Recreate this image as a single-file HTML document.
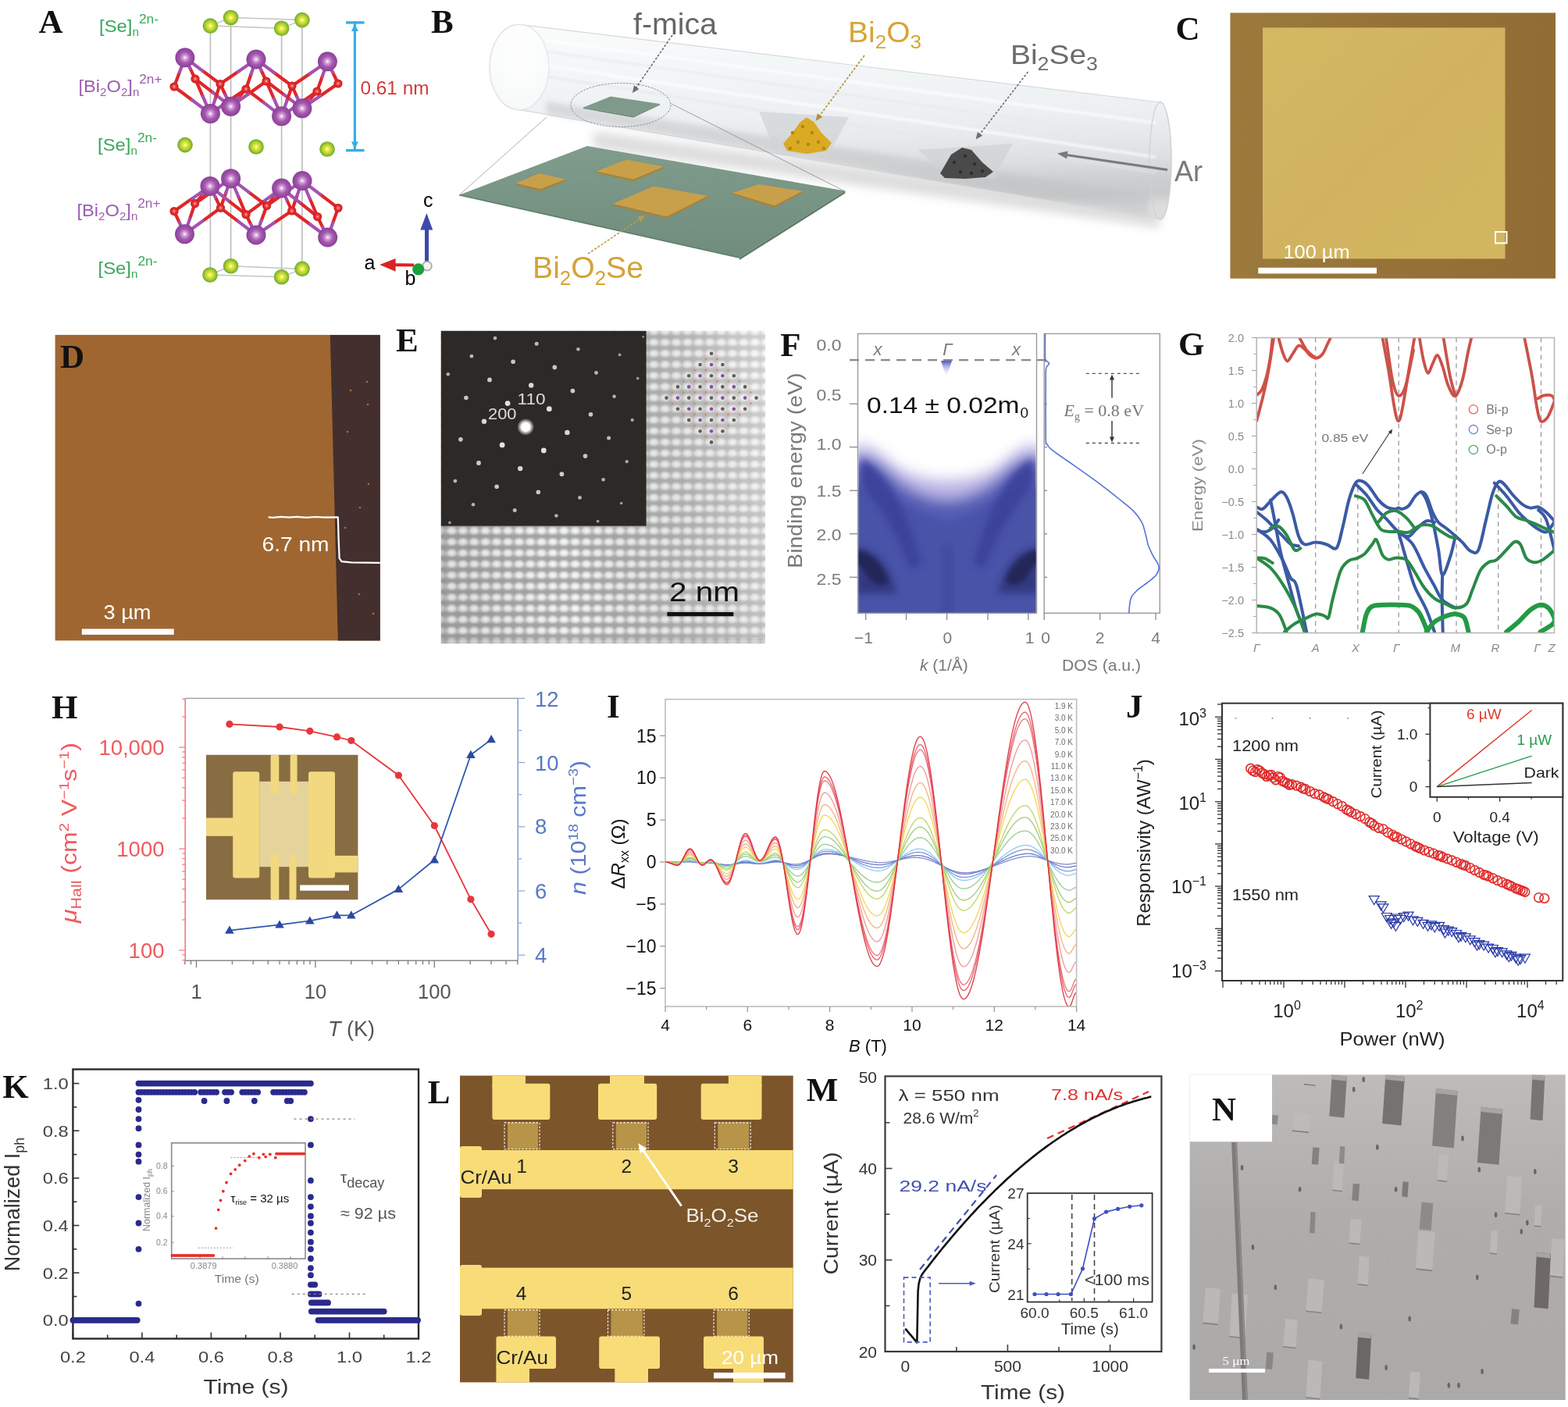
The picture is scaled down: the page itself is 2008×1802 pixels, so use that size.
<!DOCTYPE html>
<html><head><meta charset="utf-8"><title>Bi2O2Se figure</title>
<style>html,body{margin:0;padding:0;background:#fff;}svg{display:block;}
</style></head>
<body>
<svg font-family="'Liberation Sans', Arial, sans-serif" width="2008" height="1802" viewBox="0 0 2008 1802">
<defs>
<radialGradient id="gSe" cx="0.5" cy="0.5" r="0.5" fx="0.5" fy="0.5">
 <stop offset="0" stop-color="#ffffff"/><stop offset="0.18" stop-color="#f4f04a"/>
 <stop offset="0.6" stop-color="#b2d235"/><stop offset="1" stop-color="#6da72a"/></radialGradient>
<radialGradient id="gBi" cx="0.5" cy="0.5" r="0.5" fx="0.5" fy="0.5">
 <stop offset="0" stop-color="#ffffff"/><stop offset="0.2" stop-color="#d9a5dd"/>
 <stop offset="0.55" stop-color="#a45aae"/><stop offset="1" stop-color="#8a3f98"/></radialGradient>
<radialGradient id="gO" cx="0.5" cy="0.5" r="0.5" fx="0.5" fy="0.5">
 <stop offset="0" stop-color="#ffffff"/><stop offset="0.2" stop-color="#f06060"/>
 <stop offset="0.6" stop-color="#e02a2a"/><stop offset="1" stop-color="#c81e1e"/></radialGradient>

<linearGradient id="tubeG" x1="0" y1="0" x2="0.08" y2="1">
 <stop offset="0" stop-color="#fbfcfc"/><stop offset="0.3" stop-color="#f1f5f6"/>
 <stop offset="0.5" stop-color="#edf0f2"/><stop offset="0.64" stop-color="#e6e9ea"/>
 <stop offset="0.76" stop-color="#dcdedf"/><stop offset="0.86" stop-color="#cdcecf"/>
 <stop offset="0.94" stop-color="#c9cacb"/><stop offset="1" stop-color="#dcdcdc"/></linearGradient>
<radialGradient id="tubeEnd" cx="0.5" cy="0.5" r="0.5">
 <stop offset="0" stop-color="#ffffff" stop-opacity="0.9"/><stop offset="1" stop-color="#ffffff" stop-opacity="0.5"/></radialGradient>
<linearGradient id="micaG" x1="0" y1="0" x2="0" y2="1">
 <stop offset="0" stop-color="#7f9c8c"/><stop offset="1" stop-color="#6f8c7c"/></linearGradient>
<filter id="blur3" x="-20%" y="-50%" width="140%" height="200%"><feGaussianBlur stdDeviation="3"/></filter>
<filter id="blur6" x="-20%" y="-50%" width="140%" height="200%"><feGaussianBlur stdDeviation="6"/></filter>
<filter id="blur1" x="-20%" y="-20%" width="140%" height="140%"><feGaussianBlur stdDeviation="1"/></filter>

<radialGradient id="latSpot" cx="0.5" cy="0.45" r="0.5">
 <stop offset="0" stop-color="#fcfdfd"/><stop offset="0.55" stop-color="#e8eaea"/>
 <stop offset="1" stop-color="#b4b4b4" stop-opacity="0"/></radialGradient>
<pattern id="latPat" patternUnits="userSpaceOnUse" x="556.9" y="417.2" width="14.38" height="14.2">
 <rect width="14.38" height="14.2" fill="#a4a4a4"/>
 <rect y="6" width="14.38" height="5" fill="#b8b8b8"/>
 <ellipse cx="7.19" cy="7.6" rx="8.6" ry="6.4" fill="url(#latSpot)"/>
</pattern>
<linearGradient id="cOuter" x1="0" y1="0" x2="1" y2="0">
 <stop offset="0" stop-color="#9c7a3c"/><stop offset="0.5" stop-color="#967238"/><stop offset="1" stop-color="#916d36"/></linearGradient>
<linearGradient id="cInner" x1="0" y1="0" x2="1" y2="1">
 <stop offset="0" stop-color="#d4b862"/><stop offset="0.5" stop-color="#d1b35f"/><stop offset="1" stop-color="#d3b660"/></linearGradient>
<clipPath id="clipE"><rect x="564.8" y="423.8" width="415.1" height="400.4"/></clipPath>
<linearGradient id="latShade" x1="0" y1="0.15" x2="1" y2="0">
 <stop offset="0" stop-color="#000" stop-opacity="0.07"/><stop offset="0.3" stop-color="#808080" stop-opacity="0"/>
 <stop offset="1" stop-color="#fff" stop-opacity="0.5"/></linearGradient>
<radialGradient id="spotG" cx="0.5" cy="0.5" r="0.5">
 <stop offset="0" stop-color="#ffffff"/><stop offset="0.5" stop-color="#f4f4f4"/><stop offset="1" stop-color="#ffffff" stop-opacity="0"/></radialGradient>

<clipPath id="clipF"><rect x="1099.5" y="428.4" width="227" height="356.4"/></clipPath>
<clipPath id="clipG"><rect x="1609.2" y="432.5" width="381.3" height="378.1"/></clipPath>
<filter id="blurF1" x="-30%" y="-30%" width="160%" height="160%"><feGaussianBlur stdDeviation="9"/></filter>
<filter id="blurF2" x="-30%" y="-30%" width="160%" height="160%"><feGaussianBlur stdDeviation="4"/></filter>
<filter id="blurF3" x="-30%" y="-30%" width="160%" height="160%"><feGaussianBlur stdDeviation="2.5"/></filter>
<linearGradient id="vG" x1="0" y1="0" x2="0" y2="1">
 <stop offset="0" stop-color="#4a52c8"/><stop offset="1" stop-color="#ffffff" stop-opacity="0"/></linearGradient>

<clipPath id="clipI"><rect x="852" y="895.6" width="526.6" height="393.5"/></clipPath>

<linearGradient id="nBg" x1="0" y1="0" x2="0" y2="1">
 <stop offset="0" stop-color="#bebcbb"/><stop offset="0.45" stop-color="#afadac"/><stop offset="1" stop-color="#acaaa9"/></linearGradient>
<clipPath id="clipN"><rect x="1523.6" y="1376.4" width="481.1" height="416.6"/></clipPath>
</defs>
<rect width="2008" height="1802" fill="#ffffff"/>
<text x="49.4" y="42" font-size="43" fill="#111" font-family="'Liberation Serif', 'Times New Roman', serif" font-weight="bold">A</text>
<line x1="269.4" y1="30" x2="269.4" y2="350" stroke="#bcbcbc" stroke-width="1.6" />
<line x1="295.6" y1="30" x2="295.6" y2="350" stroke="#bcbcbc" stroke-width="1.6" />
<line x1="360.6" y1="30" x2="360.6" y2="350" stroke="#bcbcbc" stroke-width="1.6" />
<line x1="386.9" y1="30" x2="386.9" y2="350" stroke="#bcbcbc" stroke-width="1.6" />
<polygon points="269.4,33.1 295.6,22.5 386.9,25.6 360.6,36.3" fill="none" stroke="#c4c4c4" stroke-width="1.5" />
<polygon points="269,352 295.6,340.8 387,344.4 360.6,354.7" fill="none" stroke="#c4c4c4" stroke-width="1.5" />
<line x1="223" y1="111" x2="229.9" y2="92.4" stroke="#e0262a" stroke-width="4.2" stroke-linecap="round"/>
<line x1="229.9" y1="92.4" x2="236.9" y2="73.8" stroke="#a452b0" stroke-width="4.2" stroke-linecap="round"/>
<line x1="223" y1="111" x2="246.2" y2="128.3" stroke="#e0262a" stroke-width="4.2" stroke-linecap="round"/>
<line x1="246.2" y1="128.3" x2="269.4" y2="145.6" stroke="#a452b0" stroke-width="4.2" stroke-linecap="round"/>
<line x1="250" y1="101" x2="243.4" y2="87.4" stroke="#e0262a" stroke-width="4.2" stroke-linecap="round"/>
<line x1="243.4" y1="87.4" x2="236.9" y2="73.8" stroke="#a452b0" stroke-width="4.2" stroke-linecap="round"/>
<line x1="250" y1="101" x2="259.7" y2="123.3" stroke="#e0262a" stroke-width="4.2" stroke-linecap="round"/>
<line x1="259.7" y1="123.3" x2="269.4" y2="145.6" stroke="#a452b0" stroke-width="4.2" stroke-linecap="round"/>
<line x1="250" y1="101" x2="272.8" y2="118.7" stroke="#e0262a" stroke-width="4.2" stroke-linecap="round"/>
<line x1="272.8" y1="118.7" x2="295.6" y2="136.3" stroke="#a452b0" stroke-width="4.2" stroke-linecap="round"/>
<line x1="282" y1="107.5" x2="259.4" y2="90.6" stroke="#e0262a" stroke-width="4.2" stroke-linecap="round"/>
<line x1="259.4" y1="90.6" x2="236.9" y2="73.8" stroke="#a452b0" stroke-width="4.2" stroke-linecap="round"/>
<line x1="282" y1="107.5" x2="305" y2="91.8" stroke="#e0262a" stroke-width="4.2" stroke-linecap="round"/>
<line x1="305" y1="91.8" x2="328" y2="76" stroke="#a452b0" stroke-width="4.2" stroke-linecap="round"/>
<line x1="282" y1="107.5" x2="275.7" y2="126.5" stroke="#e0262a" stroke-width="4.2" stroke-linecap="round"/>
<line x1="275.7" y1="126.5" x2="269.4" y2="145.6" stroke="#a452b0" stroke-width="4.2" stroke-linecap="round"/>
<line x1="282" y1="107.5" x2="288.8" y2="121.9" stroke="#e0262a" stroke-width="4.2" stroke-linecap="round"/>
<line x1="288.8" y1="121.9" x2="295.6" y2="136.3" stroke="#a452b0" stroke-width="4.2" stroke-linecap="round"/>
<line x1="315" y1="114" x2="321.5" y2="95" stroke="#e0262a" stroke-width="4.2" stroke-linecap="round"/>
<line x1="321.5" y1="95" x2="328" y2="76" stroke="#a452b0" stroke-width="4.2" stroke-linecap="round"/>
<line x1="315" y1="114" x2="292.2" y2="129.8" stroke="#e0262a" stroke-width="4.2" stroke-linecap="round"/>
<line x1="292.2" y1="129.8" x2="269.4" y2="145.6" stroke="#a452b0" stroke-width="4.2" stroke-linecap="round"/>
<line x1="315" y1="114" x2="305.3" y2="125.2" stroke="#e0262a" stroke-width="4.2" stroke-linecap="round"/>
<line x1="305.3" y1="125.2" x2="295.6" y2="136.3" stroke="#a452b0" stroke-width="4.2" stroke-linecap="round"/>
<line x1="315" y1="114" x2="337.8" y2="131.4" stroke="#e0262a" stroke-width="4.2" stroke-linecap="round"/>
<line x1="337.8" y1="131.4" x2="360.6" y2="148.8" stroke="#a452b0" stroke-width="4.2" stroke-linecap="round"/>
<line x1="341" y1="104" x2="334.5" y2="90" stroke="#e0262a" stroke-width="4.2" stroke-linecap="round"/>
<line x1="334.5" y1="90" x2="328" y2="76" stroke="#a452b0" stroke-width="4.2" stroke-linecap="round"/>
<line x1="341" y1="104" x2="318.3" y2="120.2" stroke="#e0262a" stroke-width="4.2" stroke-linecap="round"/>
<line x1="318.3" y1="120.2" x2="295.6" y2="136.3" stroke="#a452b0" stroke-width="4.2" stroke-linecap="round"/>
<line x1="341" y1="104" x2="350.8" y2="126.4" stroke="#e0262a" stroke-width="4.2" stroke-linecap="round"/>
<line x1="350.8" y1="126.4" x2="360.6" y2="148.8" stroke="#a452b0" stroke-width="4.2" stroke-linecap="round"/>
<line x1="341" y1="104" x2="363.9" y2="121.4" stroke="#e0262a" stroke-width="4.2" stroke-linecap="round"/>
<line x1="363.9" y1="121.4" x2="386.9" y2="138.8" stroke="#a452b0" stroke-width="4.2" stroke-linecap="round"/>
<line x1="374" y1="110" x2="351" y2="93" stroke="#e0262a" stroke-width="4.2" stroke-linecap="round"/>
<line x1="351" y1="93" x2="328" y2="76" stroke="#a452b0" stroke-width="4.2" stroke-linecap="round"/>
<line x1="374" y1="110" x2="396.7" y2="94.4" stroke="#e0262a" stroke-width="4.2" stroke-linecap="round"/>
<line x1="396.7" y1="94.4" x2="419.4" y2="78.8" stroke="#a452b0" stroke-width="4.2" stroke-linecap="round"/>
<line x1="374" y1="110" x2="367.3" y2="129.4" stroke="#e0262a" stroke-width="4.2" stroke-linecap="round"/>
<line x1="367.3" y1="129.4" x2="360.6" y2="148.8" stroke="#a452b0" stroke-width="4.2" stroke-linecap="round"/>
<line x1="374" y1="110" x2="380.4" y2="124.4" stroke="#e0262a" stroke-width="4.2" stroke-linecap="round"/>
<line x1="380.4" y1="124.4" x2="386.9" y2="138.8" stroke="#a452b0" stroke-width="4.2" stroke-linecap="round"/>
<line x1="406" y1="117" x2="412.7" y2="97.9" stroke="#e0262a" stroke-width="4.2" stroke-linecap="round"/>
<line x1="412.7" y1="97.9" x2="419.4" y2="78.8" stroke="#a452b0" stroke-width="4.2" stroke-linecap="round"/>
<line x1="406" y1="117" x2="383.3" y2="132.9" stroke="#e0262a" stroke-width="4.2" stroke-linecap="round"/>
<line x1="383.3" y1="132.9" x2="360.6" y2="148.8" stroke="#a452b0" stroke-width="4.2" stroke-linecap="round"/>
<line x1="406" y1="117" x2="396.4" y2="127.9" stroke="#e0262a" stroke-width="4.2" stroke-linecap="round"/>
<line x1="396.4" y1="127.9" x2="386.9" y2="138.8" stroke="#a452b0" stroke-width="4.2" stroke-linecap="round"/>
<line x1="433" y1="107" x2="426.2" y2="92.9" stroke="#e0262a" stroke-width="4.2" stroke-linecap="round"/>
<line x1="426.2" y1="92.9" x2="419.4" y2="78.8" stroke="#a452b0" stroke-width="4.2" stroke-linecap="round"/>
<line x1="433" y1="107" x2="409.9" y2="122.9" stroke="#e0262a" stroke-width="4.2" stroke-linecap="round"/>
<line x1="409.9" y1="122.9" x2="386.9" y2="138.8" stroke="#a452b0" stroke-width="4.2" stroke-linecap="round"/>
<line x1="223" y1="270.5" x2="246" y2="254.4" stroke="#e0262a" stroke-width="4.2" stroke-linecap="round"/>
<line x1="246" y1="254.4" x2="269" y2="238.4" stroke="#a452b0" stroke-width="4.2" stroke-linecap="round"/>
<line x1="223" y1="270.5" x2="229.8" y2="285.1" stroke="#e0262a" stroke-width="4.2" stroke-linecap="round"/>
<line x1="229.8" y1="285.1" x2="236.5" y2="299.8" stroke="#a452b0" stroke-width="4.2" stroke-linecap="round"/>
<line x1="249.6" y1="260.7" x2="259.3" y2="249.6" stroke="#e0262a" stroke-width="4.2" stroke-linecap="round"/>
<line x1="259.3" y1="249.6" x2="269" y2="238.4" stroke="#a452b0" stroke-width="4.2" stroke-linecap="round"/>
<line x1="249.6" y1="260.7" x2="272.6" y2="244.7" stroke="#e0262a" stroke-width="4.2" stroke-linecap="round"/>
<line x1="272.6" y1="244.7" x2="295.6" y2="228.7" stroke="#a452b0" stroke-width="4.2" stroke-linecap="round"/>
<line x1="249.6" y1="260.7" x2="243.1" y2="280.2" stroke="#e0262a" stroke-width="4.2" stroke-linecap="round"/>
<line x1="243.1" y1="280.2" x2="236.5" y2="299.8" stroke="#a452b0" stroke-width="4.2" stroke-linecap="round"/>
<line x1="282.5" y1="266.3" x2="275.8" y2="252.4" stroke="#e0262a" stroke-width="4.2" stroke-linecap="round"/>
<line x1="275.8" y1="252.4" x2="269" y2="238.4" stroke="#a452b0" stroke-width="4.2" stroke-linecap="round"/>
<line x1="282.5" y1="266.3" x2="289.1" y2="247.5" stroke="#e0262a" stroke-width="4.2" stroke-linecap="round"/>
<line x1="289.1" y1="247.5" x2="295.6" y2="228.7" stroke="#a452b0" stroke-width="4.2" stroke-linecap="round"/>
<line x1="282.5" y1="266.3" x2="259.5" y2="283.1" stroke="#e0262a" stroke-width="4.2" stroke-linecap="round"/>
<line x1="259.5" y1="283.1" x2="236.5" y2="299.8" stroke="#a452b0" stroke-width="4.2" stroke-linecap="round"/>
<line x1="282.5" y1="266.3" x2="305.2" y2="283.6" stroke="#e0262a" stroke-width="4.2" stroke-linecap="round"/>
<line x1="305.2" y1="283.6" x2="328" y2="301" stroke="#a452b0" stroke-width="4.2" stroke-linecap="round"/>
<line x1="315" y1="274.7" x2="292" y2="256.6" stroke="#e0262a" stroke-width="4.2" stroke-linecap="round"/>
<line x1="292" y1="256.6" x2="269" y2="238.4" stroke="#a452b0" stroke-width="4.2" stroke-linecap="round"/>
<line x1="315" y1="274.7" x2="305.3" y2="251.7" stroke="#e0262a" stroke-width="4.2" stroke-linecap="round"/>
<line x1="305.3" y1="251.7" x2="295.6" y2="228.7" stroke="#a452b0" stroke-width="4.2" stroke-linecap="round"/>
<line x1="315" y1="274.7" x2="337.8" y2="257.9" stroke="#e0262a" stroke-width="4.2" stroke-linecap="round"/>
<line x1="337.8" y1="257.9" x2="360.6" y2="241" stroke="#a452b0" stroke-width="4.2" stroke-linecap="round"/>
<line x1="315" y1="274.7" x2="321.5" y2="287.9" stroke="#e0262a" stroke-width="4.2" stroke-linecap="round"/>
<line x1="321.5" y1="287.9" x2="328" y2="301" stroke="#a452b0" stroke-width="4.2" stroke-linecap="round"/>
<line x1="341.6" y1="263.5" x2="318.6" y2="246.1" stroke="#e0262a" stroke-width="4.2" stroke-linecap="round"/>
<line x1="318.6" y1="246.1" x2="295.6" y2="228.7" stroke="#a452b0" stroke-width="4.2" stroke-linecap="round"/>
<line x1="341.6" y1="263.5" x2="351.1" y2="252.2" stroke="#e0262a" stroke-width="4.2" stroke-linecap="round"/>
<line x1="351.1" y1="252.2" x2="360.6" y2="241" stroke="#a452b0" stroke-width="4.2" stroke-linecap="round"/>
<line x1="341.6" y1="263.5" x2="364.3" y2="247.5" stroke="#e0262a" stroke-width="4.2" stroke-linecap="round"/>
<line x1="364.3" y1="247.5" x2="387" y2="231.5" stroke="#a452b0" stroke-width="4.2" stroke-linecap="round"/>
<line x1="341.6" y1="263.5" x2="334.8" y2="282.2" stroke="#e0262a" stroke-width="4.2" stroke-linecap="round"/>
<line x1="334.8" y1="282.2" x2="328" y2="301" stroke="#a452b0" stroke-width="4.2" stroke-linecap="round"/>
<line x1="373.7" y1="270" x2="367.1" y2="255.5" stroke="#e0262a" stroke-width="4.2" stroke-linecap="round"/>
<line x1="367.1" y1="255.5" x2="360.6" y2="241" stroke="#a452b0" stroke-width="4.2" stroke-linecap="round"/>
<line x1="373.7" y1="270" x2="380.4" y2="250.8" stroke="#e0262a" stroke-width="4.2" stroke-linecap="round"/>
<line x1="380.4" y1="250.8" x2="387" y2="231.5" stroke="#a452b0" stroke-width="4.2" stroke-linecap="round"/>
<line x1="373.7" y1="270" x2="350.9" y2="285.5" stroke="#e0262a" stroke-width="4.2" stroke-linecap="round"/>
<line x1="350.9" y1="285.5" x2="328" y2="301" stroke="#a452b0" stroke-width="4.2" stroke-linecap="round"/>
<line x1="373.7" y1="270" x2="396.7" y2="287" stroke="#e0262a" stroke-width="4.2" stroke-linecap="round"/>
<line x1="396.7" y1="287" x2="419.7" y2="304" stroke="#a452b0" stroke-width="4.2" stroke-linecap="round"/>
<line x1="406.6" y1="277.5" x2="383.6" y2="259.2" stroke="#e0262a" stroke-width="4.2" stroke-linecap="round"/>
<line x1="383.6" y1="259.2" x2="360.6" y2="241" stroke="#a452b0" stroke-width="4.2" stroke-linecap="round"/>
<line x1="406.6" y1="277.5" x2="396.8" y2="254.5" stroke="#e0262a" stroke-width="4.2" stroke-linecap="round"/>
<line x1="396.8" y1="254.5" x2="387" y2="231.5" stroke="#a452b0" stroke-width="4.2" stroke-linecap="round"/>
<line x1="406.6" y1="277.5" x2="413.1" y2="290.8" stroke="#e0262a" stroke-width="4.2" stroke-linecap="round"/>
<line x1="413.1" y1="290.8" x2="419.7" y2="304" stroke="#a452b0" stroke-width="4.2" stroke-linecap="round"/>
<line x1="433" y1="266.3" x2="410" y2="248.9" stroke="#e0262a" stroke-width="4.2" stroke-linecap="round"/>
<line x1="410" y1="248.9" x2="387" y2="231.5" stroke="#a452b0" stroke-width="4.2" stroke-linecap="round"/>
<line x1="433" y1="266.3" x2="426.4" y2="285.1" stroke="#e0262a" stroke-width="4.2" stroke-linecap="round"/>
<line x1="426.4" y1="285.1" x2="419.7" y2="304" stroke="#a452b0" stroke-width="4.2" stroke-linecap="round"/>
<circle cx="223" cy="111" r="5.6" fill="url(#gO)" />
<circle cx="250" cy="101" r="5.6" fill="url(#gO)" />
<circle cx="282" cy="107.5" r="5.6" fill="url(#gO)" />
<circle cx="315" cy="114" r="5.6" fill="url(#gO)" />
<circle cx="341" cy="104" r="5.6" fill="url(#gO)" />
<circle cx="374" cy="110" r="5.6" fill="url(#gO)" />
<circle cx="406" cy="117" r="5.6" fill="url(#gO)" />
<circle cx="433" cy="107" r="5.6" fill="url(#gO)" />
<circle cx="223" cy="270.5" r="5.6" fill="url(#gO)" />
<circle cx="249.6" cy="260.7" r="5.6" fill="url(#gO)" />
<circle cx="282.5" cy="266.3" r="5.6" fill="url(#gO)" />
<circle cx="315" cy="274.7" r="5.6" fill="url(#gO)" />
<circle cx="341.6" cy="263.5" r="5.6" fill="url(#gO)" />
<circle cx="373.7" cy="270" r="5.6" fill="url(#gO)" />
<circle cx="406.6" cy="277.5" r="5.6" fill="url(#gO)" />
<circle cx="433" cy="266.3" r="5.6" fill="url(#gO)" />
<circle cx="236.9" cy="73.8" r="12.5" fill="url(#gBi)" />
<circle cx="328" cy="76" r="12.5" fill="url(#gBi)" />
<circle cx="419.4" cy="78.8" r="12.5" fill="url(#gBi)" />
<circle cx="269.4" cy="145.6" r="12.5" fill="url(#gBi)" />
<circle cx="295.6" cy="136.3" r="12.5" fill="url(#gBi)" />
<circle cx="360.6" cy="148.8" r="12.5" fill="url(#gBi)" />
<circle cx="386.9" cy="138.8" r="12.5" fill="url(#gBi)" />
<circle cx="269" cy="238.4" r="12.5" fill="url(#gBi)" />
<circle cx="295.6" cy="228.7" r="12.5" fill="url(#gBi)" />
<circle cx="360.6" cy="241" r="12.5" fill="url(#gBi)" />
<circle cx="387" cy="231.5" r="12.5" fill="url(#gBi)" />
<circle cx="236.5" cy="299.8" r="12.5" fill="url(#gBi)" />
<circle cx="328" cy="301" r="12.5" fill="url(#gBi)" />
<circle cx="419.7" cy="304" r="12.5" fill="url(#gBi)" />
<circle cx="269.4" cy="33.1" r="9.8" fill="url(#gSe)" />
<circle cx="295.6" cy="22.5" r="9.8" fill="url(#gSe)" />
<circle cx="360.6" cy="36.3" r="9.8" fill="url(#gSe)" />
<circle cx="386.9" cy="25.6" r="9.8" fill="url(#gSe)" />
<circle cx="237" cy="185.6" r="9.8" fill="url(#gSe)" />
<circle cx="328" cy="188" r="9.8" fill="url(#gSe)" />
<circle cx="419" cy="191" r="9.8" fill="url(#gSe)" />
<circle cx="269" cy="352" r="9.8" fill="url(#gSe)" />
<circle cx="295.6" cy="340.8" r="9.8" fill="url(#gSe)" />
<circle cx="360.6" cy="354.7" r="9.8" fill="url(#gSe)" />
<circle cx="387" cy="344.4" r="9.8" fill="url(#gSe)" />
<text x="127" y="40.5" font-size="22" fill="#3aa85a" textLength="76" lengthAdjust="spacingAndGlyphs">[Se]<tspan font-size="14" dy="5">n</tspan><tspan font-size="16" dy="-16">2n-</tspan></text>
<text x="100.5" y="117.5" font-size="22" fill="#9b5fb0" textLength="107" lengthAdjust="spacingAndGlyphs">[Bi<tspan font-size="14" dy="5">2</tspan><tspan dy="-5">O</tspan><tspan font-size="14" dy="5">2</tspan><tspan dy="-5">]</tspan><tspan font-size="14" dy="5">n</tspan><tspan font-size="16" dy="-16">2n+</tspan></text>
<text x="125" y="193" font-size="22" fill="#3aa85a" textLength="76" lengthAdjust="spacingAndGlyphs">[Se]<tspan font-size="14" dy="5">n</tspan><tspan font-size="16" dy="-16">2n-</tspan></text>
<text x="98.5" y="277" font-size="22" fill="#9b5fb0" textLength="107" lengthAdjust="spacingAndGlyphs">[Bi<tspan font-size="14" dy="5">2</tspan><tspan dy="-5">O</tspan><tspan font-size="14" dy="5">2</tspan><tspan dy="-5">]</tspan><tspan font-size="14" dy="5">n</tspan><tspan font-size="16" dy="-16">2n+</tspan></text>
<text x="125.5" y="351" font-size="22" fill="#3aa85a" textLength="76" lengthAdjust="spacingAndGlyphs">[Se]<tspan font-size="14" dy="5">n</tspan><tspan font-size="16" dy="-16">2n-</tspan></text>
<line x1="454.4" y1="29" x2="454.4" y2="192.5" stroke="#35aee6" stroke-width="3.2" />
<line x1="443" y1="28.9" x2="466.5" y2="28.9" stroke="#35aee6" stroke-width="3.4" />
<line x1="443" y1="192.6" x2="466.5" y2="192.6" stroke="#35aee6" stroke-width="3.4" />
<polygon points="454.4,31 458.9,40 449.9,40" fill="#35aee6" />
<polygon points="454.4,190.5 449.9,181.5 458.9,181.5" fill="#35aee6" />
<text x="461.5" y="121" font-size="24" fill="#d33a3a" textLength="88" lengthAdjust="spacingAndGlyphs">0.61 nm</text>
<line x1="546.5" y1="336" x2="546.5" y2="292" stroke="#3d4aa8" stroke-width="5" />
<polygon points="546.4,273 538.3,294.5 554.2,294.5" fill="#3d4aa8" />
<line x1="530" y1="339.6" x2="504" y2="339.3" stroke="#e02020" stroke-width="4" />
<polygon points="486.2,339 506.6,331.1 506.6,347.8" fill="#d82424" />
<circle cx="547" cy="340.7" r="5.8" fill="#f4f4f4" stroke="#aaaaaa" stroke-width="1.8" />
<circle cx="535.7" cy="344.9" r="7.6" fill="#1e9e3c" />
<text x="542" y="264.5" font-size="25" fill="#000">c</text>
<text x="466.5" y="345" font-size="25" fill="#000">a</text>
<text x="518.5" y="365.3" font-size="25" fill="#000">b</text>
<text x="551.9" y="42" font-size="43" fill="#111" font-family="'Liberation Serif', 'Times New Roman', serif" font-weight="bold">B</text>
<polygon points="760,168 1485,268 1485,292 760,190" fill="#c8c8c8" filter="url(#blur6)" opacity="0.6"/>
<path d="M665,31.4 L1486,131 A14,75 0 0 1 1486,281 L665,140.6 A38,54.6 0 0 1 665,31.4 Z" fill="url(#tubeG)" stroke="#d6d9dc" stroke-width="1.2" />
<line x1="700" y1="52" x2="1480" y2="157.3" stroke="#ffffff" stroke-width="4" opacity="0.6" filter="url(#blur1)"/>
<line x1="700" y1="66" x2="1480" y2="177.3" stroke="#e4e9ec" stroke-width="3" opacity="0.6" filter="url(#blur1)"/>
<line x1="700" y1="84" x2="1480" y2="201.3" stroke="#ffffff" stroke-width="4" opacity="0.6" filter="url(#blur1)"/>
<line x1="700" y1="98" x2="1480" y2="221.3" stroke="#e2e7ea" stroke-width="3" opacity="0.6" filter="url(#blur1)"/>
<ellipse cx="665" cy="86" rx="38" ry="54.6" fill="url(#tubeEnd)" stroke="#e4e4e4" stroke-width="1.2"/>
<ellipse cx="1486" cy="206" rx="14" ry="75" fill="none" stroke="#d0d2d4" stroke-width="1.3"/>
<polygon points="700,130 1470,250 1470,276 700,146" fill="#bfc1c3" filter="url(#blur3)" opacity="0.5"/>
<line x1="700" y1="150" x2="588" y2="250" stroke="#9a9a9a" stroke-width="0.8" />
<line x1="860" y1="133" x2="1082" y2="245" stroke="#8a8a8a" stroke-width="0.8" />
<polygon points="588,249.7 752,187 1082.4,244.5 946.6,330" fill="url(#micaG)" />
<polygon points="946.6,330 1082.4,244.5 1082.4,247.5 947,333" fill="#5e7a6a" />
<line x1="588" y1="249.7" x2="946.6" y2="330" stroke="#5e7e6c" stroke-width="1.6" />
<polygon points="660.5,234.7 690.6,222 724.5,229.7 691.9,242.2" fill="#c9a04a" />
<polygon points="660.5,234.7 691.9,242.2 724.5,229.7 724.5,231.7 691.9,244.7 660.5,236.7" fill="#a98236" />
<polygon points="763.4,219.6 802.3,204.6 850,213.4 811,229.7" fill="#c9a04a" />
<polygon points="763.4,219.6 811,229.7 850,213.4 850,215.4 811,232.2 763.4,221.6" fill="#a98236" />
<polygon points="784.7,261 837.4,238.5 906.5,251 853.8,277.4" fill="#c9a04a" />
<polygon points="784.7,261 853.8,277.4 906.5,251 906.5,253 853.8,279.9 784.7,263" fill="#a98236" />
<polygon points="937.8,247 971.7,236 1028,244.7 991.8,263.5" fill="#c9a04a" />
<polygon points="937.8,247 991.8,263.5 1028,244.7 1028,246.7 991.8,266 937.8,249" fill="#a98236" />
<polygon points="747,137.5 782,123.5 845,133 811,148.6" fill="#7f9a8a" />
<polygon points="747,137.5 811,148.6 845,133 845,134.5 811,150.5 747,139" fill="#6c8878" />
<ellipse cx="795" cy="134.5" rx="64" ry="28" fill="none" stroke="#8c8c8c" stroke-width="1" stroke-dasharray="2.5,1.5"/>
<polygon points="972,143 1087,150 1060,200 995,198" fill="#d2d4d6" opacity="0.75"/>
<polygon points="1003,184 1015,170 1025,156 1033,150.5 1042,156 1052,170 1065,183 1058,193 1033,197 1008,193" fill="#d9aa22" />
<circle cx="1015" cy="170" r="2.2" fill="#b08414" />
<circle cx="1028" cy="162" r="2.2" fill="#b08414" />
<circle cx="1040" cy="170" r="2.2" fill="#b08414" />
<circle cx="1022" cy="182" r="2.2" fill="#b08414" />
<circle cx="1035" cy="185" r="2.2" fill="#b08414" />
<circle cx="1048" cy="182" r="2.2" fill="#b08414" />
<circle cx="1012" cy="190" r="2.2" fill="#b08414" />
<circle cx="1055" cy="190" r="2.2" fill="#b08414" />
<polygon points="1175.7,192 1297,184 1272,228.7 1217,228.7" fill="#d0d2d4" opacity="0.75"/>
<polygon points="1204,222 1218,198 1232,189 1244,192 1258,208 1272,220 1262,227 1236,229 1210,228" fill="#4a4a4a" />
<circle cx="1222" cy="208" r="2.2" fill="#2e2e2e" />
<circle cx="1236" cy="200" r="2.2" fill="#2e2e2e" />
<circle cx="1248" cy="210" r="2.2" fill="#2e2e2e" />
<circle cx="1230" cy="220" r="2.2" fill="#2e2e2e" />
<circle cx="1244" cy="222" r="2.2" fill="#2e2e2e" />
<circle cx="1258" cy="219" r="2.2" fill="#2e2e2e" />
<line x1="1495" y1="217.5" x2="1366" y2="198.5" stroke="#7a7a7a" stroke-width="3" />
<polygon points="1354,196.6 1367.6,193.6 1366.1,203.5" fill="#7a7a7a" />
<line x1="861" y1="45" x2="814" y2="113.2" stroke="#6e6e6e" stroke-width="1.6" stroke-dasharray="3,2"/><polygon points="810,119 811.8,109.3 818.4,113.9" fill="#6e6e6e" />
<line x1="1107" y1="71" x2="1048.8" y2="149.2" stroke="#b8902c" stroke-width="1.6" stroke-dasharray="3,2"/><polygon points="1044.6,154.8 1046.8,145.2 1053.2,150" fill="#b8902c" />
<line x1="1316.5" y1="92" x2="1253.9" y2="173" stroke="#6e6e6e" stroke-width="1.6" stroke-dasharray="3,2"/><polygon points="1249.6,178.5 1251.9,168.9 1258.3,173.8" fill="#6e6e6e" />
<line x1="753" y1="325" x2="820.2" y2="279.9" stroke="#c09a40" stroke-width="1.6" stroke-dasharray="3,2"/><polygon points="826,276 820.8,284.3 816.3,277.7" fill="#c09a40" />
<text x="811" y="44" font-size="38" fill="#666666" textLength="107" lengthAdjust="spacingAndGlyphs">f-mica</text>
<text x="1086" y="54.4" font-size="36" fill="#d6a437" textLength="94" lengthAdjust="spacingAndGlyphs">Bi<tspan font-size="24" dy="8">2</tspan><tspan dy="-8">O</tspan><tspan font-size="24" dy="8">3</tspan></text>
<text x="1294" y="82" font-size="35" fill="#6c6c6c" textLength="112" lengthAdjust="spacingAndGlyphs">Bi<tspan font-size="24" dy="8">2</tspan><tspan dy="-8">Se</tspan><tspan font-size="24" dy="8">3</tspan></text>
<text x="682" y="356.4" font-size="38" fill="#d5a235" textLength="142" lengthAdjust="spacingAndGlyphs">Bi<tspan font-size="25" dy="9">2</tspan><tspan dy="-9">O</tspan><tspan font-size="25" dy="9">2</tspan><tspan dy="-9">Se</tspan></text>
<text x="1504" y="231.5" font-size="36" fill="#7a7a7a">Ar</text>
<text x="1505.5" y="51.3" font-size="43" fill="#111" font-family="'Liberation Serif', 'Times New Roman', serif" font-weight="bold">C</text>
<rect x="1575.4" y="16.4" width="416.6" height="340.3" fill="url(#cOuter)" />
<rect x="1617" y="35.4" width="310.5" height="296" fill="url(#cInner)" />
<rect x="1611.3" y="342.8" width="151.7" height="7.6" fill="#ffffff" />
<text x="1643.5" y="331.4" font-size="23" fill="#ffffff" textLength="85" lengthAdjust="spacingAndGlyphs">100 µm</text>
<rect x="1915" y="297" width="14.5" height="14.4" fill="none" stroke="#ffffff" stroke-width="2" />
<rect x="70.6" y="428.9" width="416.2" height="391.5" fill="#9f6631" />
<line x1="71" y1="432" x2="425" y2="432" stroke="#9a622f" stroke-width="1.2" opacity="0.5"/>
<line x1="71" y1="442" x2="425" y2="442" stroke="#a66b35" stroke-width="1.2" opacity="0.5"/>
<line x1="71" y1="452" x2="425" y2="452" stroke="#9a622f" stroke-width="1.2" opacity="0.5"/>
<line x1="71" y1="462" x2="425" y2="462" stroke="#a66b35" stroke-width="1.2" opacity="0.5"/>
<line x1="71" y1="472" x2="425" y2="472" stroke="#9a622f" stroke-width="1.2" opacity="0.5"/>
<line x1="71" y1="482" x2="425" y2="482" stroke="#a66b35" stroke-width="1.2" opacity="0.5"/>
<line x1="71" y1="492" x2="425" y2="492" stroke="#9a622f" stroke-width="1.2" opacity="0.5"/>
<line x1="71" y1="502" x2="425" y2="502" stroke="#a66b35" stroke-width="1.2" opacity="0.5"/>
<line x1="71" y1="512" x2="425" y2="512" stroke="#9a622f" stroke-width="1.2" opacity="0.5"/>
<line x1="71" y1="522" x2="425" y2="522" stroke="#a66b35" stroke-width="1.2" opacity="0.5"/>
<line x1="71" y1="532" x2="425" y2="532" stroke="#9a622f" stroke-width="1.2" opacity="0.5"/>
<line x1="71" y1="542" x2="425" y2="542" stroke="#a66b35" stroke-width="1.2" opacity="0.5"/>
<line x1="71" y1="552" x2="425" y2="552" stroke="#9a622f" stroke-width="1.2" opacity="0.5"/>
<line x1="71" y1="562" x2="425" y2="562" stroke="#a66b35" stroke-width="1.2" opacity="0.5"/>
<line x1="71" y1="572" x2="425" y2="572" stroke="#9a622f" stroke-width="1.2" opacity="0.5"/>
<line x1="71" y1="582" x2="425" y2="582" stroke="#a66b35" stroke-width="1.2" opacity="0.5"/>
<line x1="71" y1="592" x2="425" y2="592" stroke="#9a622f" stroke-width="1.2" opacity="0.5"/>
<line x1="71" y1="602" x2="425" y2="602" stroke="#a66b35" stroke-width="1.2" opacity="0.5"/>
<line x1="71" y1="612" x2="425" y2="612" stroke="#9a622f" stroke-width="1.2" opacity="0.5"/>
<line x1="71" y1="622" x2="425" y2="622" stroke="#a66b35" stroke-width="1.2" opacity="0.5"/>
<line x1="71" y1="632" x2="425" y2="632" stroke="#9a622f" stroke-width="1.2" opacity="0.5"/>
<line x1="71" y1="642" x2="425" y2="642" stroke="#a66b35" stroke-width="1.2" opacity="0.5"/>
<line x1="71" y1="652" x2="425" y2="652" stroke="#9a622f" stroke-width="1.2" opacity="0.5"/>
<line x1="71" y1="662" x2="425" y2="662" stroke="#a66b35" stroke-width="1.2" opacity="0.5"/>
<line x1="71" y1="672" x2="425" y2="672" stroke="#9a622f" stroke-width="1.2" opacity="0.5"/>
<line x1="71" y1="682" x2="425" y2="682" stroke="#a66b35" stroke-width="1.2" opacity="0.5"/>
<line x1="71" y1="692" x2="425" y2="692" stroke="#9a622f" stroke-width="1.2" opacity="0.5"/>
<line x1="71" y1="702" x2="425" y2="702" stroke="#a66b35" stroke-width="1.2" opacity="0.5"/>
<line x1="71" y1="712" x2="425" y2="712" stroke="#9a622f" stroke-width="1.2" opacity="0.5"/>
<line x1="71" y1="722" x2="425" y2="722" stroke="#a66b35" stroke-width="1.2" opacity="0.5"/>
<line x1="71" y1="732" x2="425" y2="732" stroke="#9a622f" stroke-width="1.2" opacity="0.5"/>
<line x1="71" y1="742" x2="425" y2="742" stroke="#a66b35" stroke-width="1.2" opacity="0.5"/>
<line x1="71" y1="752" x2="425" y2="752" stroke="#9a622f" stroke-width="1.2" opacity="0.5"/>
<line x1="71" y1="762" x2="425" y2="762" stroke="#a66b35" stroke-width="1.2" opacity="0.5"/>
<line x1="71" y1="772" x2="425" y2="772" stroke="#9a622f" stroke-width="1.2" opacity="0.5"/>
<line x1="71" y1="782" x2="425" y2="782" stroke="#a66b35" stroke-width="1.2" opacity="0.5"/>
<line x1="71" y1="792" x2="425" y2="792" stroke="#9a622f" stroke-width="1.2" opacity="0.5"/>
<line x1="71" y1="802" x2="425" y2="802" stroke="#a66b35" stroke-width="1.2" opacity="0.5"/>
<line x1="71" y1="812" x2="425" y2="812" stroke="#9a622f" stroke-width="1.2" opacity="0.5"/>
<polygon points="422.8,428.9 486.8,428.9 486.8,820.4 432.8,820.4" fill="#432f2d" />
<circle cx="470" cy="489" r="1.3" fill="#b5683a" />
<circle cx="471" cy="518" r="1.3" fill="#b5683a" />
<circle cx="445" cy="553" r="1.3" fill="#b5683a" />
<circle cx="472" cy="620" r="1.3" fill="#b5683a" />
<circle cx="461" cy="650" r="1.3" fill="#b5683a" />
<circle cx="442" cy="676" r="1.3" fill="#b5683a" />
<circle cx="460" cy="761" r="1.3" fill="#b5683a" />
<circle cx="478" cy="786" r="1.3" fill="#b5683a" />
<circle cx="449" cy="500" r="1.3" fill="#b5683a" />
<text x="76.9" y="470.8" font-size="43" fill="#111" font-family="'Liberation Serif', 'Times New Roman', serif" font-weight="bold">D</text>
<polyline points="343.7,662.3 350,662.8 360,661.8 370,662.6 380,661.9 392,662.8 404,662 415,662.6 432.8,662.3 433.6,690 434.6,715 437.5,719.2 450,720.3 486.8,720.8" fill="none" stroke="#ffffff" stroke-width="2.2"  stroke-linejoin="round"/>
<text x="335.5" y="706.2" font-size="25" fill="#ffffff" textLength="86" lengthAdjust="spacingAndGlyphs">6.7 nm</text>
<text x="132.5" y="792.8" font-size="25" fill="#ffffff" textLength="61" lengthAdjust="spacingAndGlyphs">3 µm</text>
<rect x="104.8" y="805.4" width="117.9" height="7.5" fill="#ffffff" />
<text x="507" y="450.2" font-size="43" fill="#111" font-family="'Liberation Serif', 'Times New Roman', serif" font-weight="bold">E</text>
<g clip-path="url(#clipE)"><rect x="560" y="419" width="425" height="410" fill="url(#latPat)" filter="url(#blur1)"/></g>
<rect x="564.8" y="423.8" width="415.1" height="400.4" fill="url(#latShade)" />
<rect x="564.8" y="423.8" width="5.2" height="400.4" fill="#8c8c8c" opacity="0.35"/>
<rect x="564.8" y="818" width="415.1" height="6.2" fill="#8c8c8c" opacity="0.25"/>
<circle cx="911" cy="452.8" r="2.3" fill="#4b4336" opacity="0.85"/>
<circle cx="896.6" cy="467" r="2.3" fill="#4b4336" opacity="0.85"/>
<circle cx="911" cy="467" r="2.3" fill="#7b2f98" opacity="0.85"/>
<circle cx="925.4" cy="467" r="2.3" fill="#4b4336" opacity="0.85"/>
<circle cx="882.2" cy="481.2" r="2.3" fill="#4b4336" opacity="0.85"/>
<circle cx="896.6" cy="481.2" r="2.3" fill="#7b2f98" opacity="0.85"/>
<circle cx="911" cy="481.2" r="2.3" fill="#4b4336" opacity="0.85"/>
<circle cx="925.4" cy="481.2" r="2.3" fill="#7b2f98" opacity="0.85"/>
<circle cx="939.8" cy="481.2" r="2.3" fill="#4b4336" opacity="0.85"/>
<circle cx="867.9" cy="495.4" r="2.3" fill="#4b4336" opacity="0.85"/>
<circle cx="882.2" cy="495.4" r="2.3" fill="#7b2f98" opacity="0.85"/>
<circle cx="896.6" cy="495.4" r="2.3" fill="#4b4336" opacity="0.85"/>
<circle cx="911" cy="495.4" r="2.3" fill="#7b2f98" opacity="0.85"/>
<circle cx="925.4" cy="495.4" r="2.3" fill="#4b4336" opacity="0.85"/>
<circle cx="939.8" cy="495.4" r="2.3" fill="#7b2f98" opacity="0.85"/>
<circle cx="954.1" cy="495.4" r="2.3" fill="#4b4336" opacity="0.85"/>
<circle cx="853.5" cy="509.6" r="2.3" fill="#4b4336" opacity="0.85"/>
<circle cx="867.9" cy="509.6" r="2.3" fill="#7b2f98" opacity="0.85"/>
<circle cx="882.2" cy="509.6" r="2.3" fill="#4b4336" opacity="0.85"/>
<circle cx="896.6" cy="509.6" r="2.3" fill="#7b2f98" opacity="0.85"/>
<circle cx="911" cy="509.6" r="2.3" fill="#4b4336" opacity="0.85"/>
<circle cx="925.4" cy="509.6" r="2.3" fill="#7b2f98" opacity="0.85"/>
<circle cx="939.8" cy="509.6" r="2.3" fill="#4b4336" opacity="0.85"/>
<circle cx="954.1" cy="509.6" r="2.3" fill="#7b2f98" opacity="0.85"/>
<circle cx="968.5" cy="509.6" r="2.3" fill="#4b4336" opacity="0.85"/>
<circle cx="867.9" cy="523.8" r="2.3" fill="#4b4336" opacity="0.85"/>
<circle cx="882.2" cy="523.8" r="2.3" fill="#7b2f98" opacity="0.85"/>
<circle cx="896.6" cy="523.8" r="2.3" fill="#4b4336" opacity="0.85"/>
<circle cx="911" cy="523.8" r="2.3" fill="#7b2f98" opacity="0.85"/>
<circle cx="925.4" cy="523.8" r="2.3" fill="#4b4336" opacity="0.85"/>
<circle cx="939.8" cy="523.8" r="2.3" fill="#7b2f98" opacity="0.85"/>
<circle cx="954.1" cy="523.8" r="2.3" fill="#4b4336" opacity="0.85"/>
<circle cx="882.2" cy="538" r="2.3" fill="#4b4336" opacity="0.85"/>
<circle cx="896.6" cy="538" r="2.3" fill="#7b2f98" opacity="0.85"/>
<circle cx="911" cy="538" r="2.3" fill="#4b4336" opacity="0.85"/>
<circle cx="925.4" cy="538" r="2.3" fill="#7b2f98" opacity="0.85"/>
<circle cx="939.8" cy="538" r="2.3" fill="#4b4336" opacity="0.85"/>
<circle cx="896.6" cy="552.2" r="2.3" fill="#4b4336" opacity="0.85"/>
<circle cx="911" cy="552.2" r="2.3" fill="#7b2f98" opacity="0.85"/>
<circle cx="925.4" cy="552.2" r="2.3" fill="#4b4336" opacity="0.85"/>
<circle cx="911" cy="566.4" r="2.3" fill="#4b4336" opacity="0.85"/>
<circle cx="903.8" cy="459.9" r="1.3" fill="#e8704f" opacity="0.75"/>
<circle cx="918.2" cy="459.9" r="1.3" fill="#e8704f" opacity="0.75"/>
<circle cx="889.4" cy="474.1" r="1.3" fill="#e8704f" opacity="0.75"/>
<circle cx="903.8" cy="474.1" r="1.3" fill="#e8704f" opacity="0.75"/>
<circle cx="918.2" cy="474.1" r="1.3" fill="#e8704f" opacity="0.75"/>
<circle cx="932.6" cy="474.1" r="1.3" fill="#e8704f" opacity="0.75"/>
<circle cx="875" cy="488.3" r="1.3" fill="#e8704f" opacity="0.75"/>
<circle cx="889.4" cy="488.3" r="1.3" fill="#e8704f" opacity="0.75"/>
<circle cx="903.8" cy="488.3" r="1.3" fill="#e8704f" opacity="0.75"/>
<circle cx="918.2" cy="488.3" r="1.3" fill="#e8704f" opacity="0.75"/>
<circle cx="932.6" cy="488.3" r="1.3" fill="#e8704f" opacity="0.75"/>
<circle cx="947" cy="488.3" r="1.3" fill="#e8704f" opacity="0.75"/>
<circle cx="860.7" cy="502.5" r="1.3" fill="#e8704f" opacity="0.75"/>
<circle cx="875" cy="502.5" r="1.3" fill="#e8704f" opacity="0.75"/>
<circle cx="889.4" cy="502.5" r="1.3" fill="#e8704f" opacity="0.75"/>
<circle cx="903.8" cy="502.5" r="1.3" fill="#e8704f" opacity="0.75"/>
<circle cx="918.2" cy="502.5" r="1.3" fill="#e8704f" opacity="0.75"/>
<circle cx="932.6" cy="502.5" r="1.3" fill="#e8704f" opacity="0.75"/>
<circle cx="947" cy="502.5" r="1.3" fill="#e8704f" opacity="0.75"/>
<circle cx="961.3" cy="502.5" r="1.3" fill="#e8704f" opacity="0.75"/>
<circle cx="860.7" cy="516.7" r="1.3" fill="#e8704f" opacity="0.75"/>
<circle cx="875" cy="516.7" r="1.3" fill="#e8704f" opacity="0.75"/>
<circle cx="889.4" cy="516.7" r="1.3" fill="#e8704f" opacity="0.75"/>
<circle cx="903.8" cy="516.7" r="1.3" fill="#e8704f" opacity="0.75"/>
<circle cx="918.2" cy="516.7" r="1.3" fill="#e8704f" opacity="0.75"/>
<circle cx="932.6" cy="516.7" r="1.3" fill="#e8704f" opacity="0.75"/>
<circle cx="947" cy="516.7" r="1.3" fill="#e8704f" opacity="0.75"/>
<circle cx="961.3" cy="516.7" r="1.3" fill="#e8704f" opacity="0.75"/>
<circle cx="875" cy="530.9" r="1.3" fill="#e8704f" opacity="0.75"/>
<circle cx="889.4" cy="530.9" r="1.3" fill="#e8704f" opacity="0.75"/>
<circle cx="903.8" cy="530.9" r="1.3" fill="#e8704f" opacity="0.75"/>
<circle cx="918.2" cy="530.9" r="1.3" fill="#e8704f" opacity="0.75"/>
<circle cx="932.6" cy="530.9" r="1.3" fill="#e8704f" opacity="0.75"/>
<circle cx="947" cy="530.9" r="1.3" fill="#e8704f" opacity="0.75"/>
<circle cx="889.4" cy="545.1" r="1.3" fill="#e8704f" opacity="0.75"/>
<circle cx="903.8" cy="545.1" r="1.3" fill="#e8704f" opacity="0.75"/>
<circle cx="918.2" cy="545.1" r="1.3" fill="#e8704f" opacity="0.75"/>
<circle cx="932.6" cy="545.1" r="1.3" fill="#e8704f" opacity="0.75"/>
<circle cx="903.8" cy="559.3" r="1.3" fill="#e8704f" opacity="0.75"/>
<circle cx="918.2" cy="559.3" r="1.3" fill="#e8704f" opacity="0.75"/>
<rect x="564.8" y="423.8" width="262.8" height="249.8" fill="#2c2927" />
<circle cx="575.9" cy="669.4" r="1.8" fill="#f4f4f4" opacity="0.59"/>
<circle cx="582.9" cy="616.1" r="2.4" fill="#f4f4f4" opacity="0.70"/>
<circle cx="606" cy="646.3" r="2.3" fill="#f4f4f4" opacity="0.68"/>
<circle cx="589.9" cy="562.8" r="2.8" fill="#f4f4f4" opacity="0.78"/>
<circle cx="613" cy="593" r="2.9" fill="#f4f4f4" opacity="0.80"/>
<circle cx="636.1" cy="623.2" r="2.8" fill="#f4f4f4" opacity="0.78"/>
<circle cx="659.2" cy="653.4" r="2.5" fill="#f4f4f4" opacity="0.72"/>
<circle cx="573.8" cy="479.3" r="2.3" fill="#f4f4f4" opacity="0.68"/>
<circle cx="596.9" cy="509.5" r="2.8" fill="#f4f4f4" opacity="0.78"/>
<circle cx="620" cy="539.7" r="3.2" fill="#f4f4f4" opacity="0.86"/>
<circle cx="643.1" cy="569.9" r="3.4" fill="#f4f4f4" opacity="0.90"/>
<circle cx="666.2" cy="600.1" r="3.2" fill="#f4f4f4" opacity="0.86"/>
<circle cx="689.3" cy="630.3" r="2.8" fill="#f4f4f4" opacity="0.78"/>
<circle cx="712.4" cy="660.5" r="2.3" fill="#f4f4f4" opacity="0.68"/>
<circle cx="603.9" cy="456.2" r="2.4" fill="#f4f4f4" opacity="0.70"/>
<circle cx="627" cy="486.4" r="2.9" fill="#f4f4f4" opacity="0.80"/>
<circle cx="650.1" cy="516.6" r="3.4" fill="#f4f4f4" opacity="0.90"/>
<circle cx="673.2" cy="546.8" r="11" fill="url(#spotG)" />
<circle cx="673.2" cy="546.8" r="5.6" fill="#ffffff" />
<circle cx="696.3" cy="577" r="3.4" fill="#f4f4f4" opacity="0.90"/>
<circle cx="719.4" cy="607.2" r="2.9" fill="#f4f4f4" opacity="0.80"/>
<circle cx="742.5" cy="637.4" r="2.4" fill="#f4f4f4" opacity="0.70"/>
<circle cx="765.6" cy="667.6" r="1.9" fill="#f4f4f4" opacity="0.60"/>
<circle cx="634" cy="433.1" r="2.3" fill="#f4f4f4" opacity="0.68"/>
<circle cx="657.1" cy="463.3" r="2.8" fill="#f4f4f4" opacity="0.78"/>
<circle cx="680.2" cy="493.5" r="3.2" fill="#f4f4f4" opacity="0.86"/>
<circle cx="703.3" cy="523.7" r="3.4" fill="#f4f4f4" opacity="0.90"/>
<circle cx="726.4" cy="553.9" r="3.2" fill="#f4f4f4" opacity="0.86"/>
<circle cx="749.5" cy="584.1" r="2.8" fill="#f4f4f4" opacity="0.78"/>
<circle cx="772.6" cy="614.3" r="2.3" fill="#f4f4f4" opacity="0.68"/>
<circle cx="795.7" cy="644.5" r="1.8" fill="#f4f4f4" opacity="0.59"/>
<circle cx="687.2" cy="440.2" r="2.5" fill="#f4f4f4" opacity="0.72"/>
<circle cx="710.3" cy="470.4" r="2.8" fill="#f4f4f4" opacity="0.78"/>
<circle cx="733.4" cy="500.6" r="2.9" fill="#f4f4f4" opacity="0.80"/>
<circle cx="756.5" cy="530.8" r="2.8" fill="#f4f4f4" opacity="0.78"/>
<circle cx="779.6" cy="561" r="2.5" fill="#f4f4f4" opacity="0.72"/>
<circle cx="802.7" cy="591.2" r="2.1" fill="#f4f4f4" opacity="0.64"/>
<circle cx="740.4" cy="447.3" r="2.3" fill="#f4f4f4" opacity="0.68"/>
<circle cx="763.5" cy="477.5" r="2.4" fill="#f4f4f4" opacity="0.70"/>
<circle cx="786.6" cy="507.7" r="2.3" fill="#f4f4f4" opacity="0.68"/>
<circle cx="809.7" cy="537.9" r="2.1" fill="#f4f4f4" opacity="0.64"/>
<circle cx="793.6" cy="454.4" r="1.9" fill="#f4f4f4" opacity="0.60"/>
<circle cx="816.7" cy="484.6" r="1.8" fill="#f4f4f4" opacity="0.59"/>
<circle cx="823.7" cy="431.3" r="1.4" fill="#f4f4f4" opacity="0.50"/>
<text x="625" y="536.8" font-size="19.5" fill="#dcdcdc" textLength="36.5" lengthAdjust="spacingAndGlyphs">200</text>
<text x="662.5" y="517.5" font-size="19.5" fill="#dcdcdc" textLength="36" lengthAdjust="spacingAndGlyphs">110</text>
<text x="857" y="770" font-size="35" fill="#111111" textLength="90" lengthAdjust="spacingAndGlyphs">2 nm</text>
<rect x="854.4" y="784" width="84.9" height="5.2" fill="#111111" />
<text x="999.2" y="456" font-size="43" fill="#111" font-family="'Liberation Serif', 'Times New Roman', serif" font-weight="bold">F</text>
<g clip-path="url(#clipF)">
<path d="M1090,575 C1110,560 1130,585 1150,600 C1175,612 1195,615 1213,615 C1231,615 1251,612 1276,600 C1296,585 1316,560 1336,575 L1336,800 L1090,800 Z" fill="#bcb6e4" filter="url(#blurF1)"/>
<path d="M1090,592 C1110,580 1130,600 1150,618 C1175,636 1195,642 1213,642 C1231,642 1251,636 1276,618 C1296,600 1316,580 1336,592 L1336,800 L1090,800 Z" fill="#535bb2" filter="url(#blurF1)"/>
<path d="M1090,625 C1120,615 1150,650 1213,668 C1276,650 1306,615 1336,625 L1336,800 L1090,800 Z" fill="#4a52a8" filter="url(#blurF2)"/>
<path d="M1104,588 C1128,600 1155,640 1170,690 L1180,722 L1166,728 C1150,690 1132,652 1102,620 Z" fill="#3a3f98" filter="url(#blurF2)" opacity="0.85"/>
<path d="M1322,588 C1298,600 1271,640 1256,690 L1246,722 L1260,728 C1276,690 1294,652 1324,620 Z" fill="#3a3f98" filter="url(#blurF2)" opacity="0.85"/>
<path d="M1097,705 C1115,708 1130,722 1138,745 C1130,752 1118,748 1112,740 C1105,728 1100,722 1097,722 Z" fill="#141628" filter="url(#blurF3)"/>
<path d="M1329,705 C1311,708 1296,722 1288,745 C1296,752 1308,748 1314,740 C1321,728 1326,722 1329,722 Z" fill="#141628" filter="url(#blurF3)"/>
<path d="M1097,700 C1125,705 1140,725 1148,760 L1097,760 Z" fill="#2a2e70" filter="url(#blurF2)" opacity="0.7"/>
<path d="M1329,700 C1301,705 1286,725 1278,760 L1329,760 Z" fill="#2a2e70" filter="url(#blurF2)" opacity="0.7"/>
<rect x="1207" y="700" width="12" height="90" fill="#3d4498" filter="url(#blurF2)" opacity="0.6"/>
<polygon points="1205,462 1219,462 1212,484" fill="url(#vG)" />
</g>
<rect x="1098.5" y="427.4" width="229" height="357.9" fill="none" stroke="#9a9a9a" stroke-width="1.4" />
<rect x="1337.2" y="427.4" width="148.1" height="357.9" fill="none" stroke="#9a9a9a" stroke-width="1.4" />
<line x1="1088" y1="461.2" x2="1345" y2="461.2" stroke="#8a8a8a" stroke-width="2.2" stroke-dasharray="12,8"/>
<line x1="1088" y1="517.2" x2="1098.5" y2="517.2" stroke="#8a8a8a" stroke-width="1.3" />
<line x1="1337.2" y1="517.2" x2="1341" y2="517.2" stroke="#8a8a8a" stroke-width="1.3" />
<line x1="1088" y1="572.6" x2="1098.5" y2="572.6" stroke="#8a8a8a" stroke-width="1.3" />
<line x1="1337.2" y1="572.6" x2="1341" y2="572.6" stroke="#8a8a8a" stroke-width="1.3" />
<line x1="1088" y1="628.3" x2="1098.5" y2="628.3" stroke="#8a8a8a" stroke-width="1.3" />
<line x1="1337.2" y1="628.3" x2="1341" y2="628.3" stroke="#8a8a8a" stroke-width="1.3" />
<line x1="1088" y1="683.7" x2="1098.5" y2="683.7" stroke="#8a8a8a" stroke-width="1.3" />
<line x1="1337.2" y1="683.7" x2="1341" y2="683.7" stroke="#8a8a8a" stroke-width="1.3" />
<line x1="1088" y1="739.3" x2="1098.5" y2="739.3" stroke="#8a8a8a" stroke-width="1.3" />
<line x1="1337.2" y1="739.3" x2="1341" y2="739.3" stroke="#8a8a8a" stroke-width="1.3" />
<line x1="1108.7" y1="785.3" x2="1108.7" y2="794" stroke="#8a8a8a" stroke-width="1.3" />
<line x1="1160.5" y1="785.3" x2="1160.5" y2="794" stroke="#8a8a8a" stroke-width="1.3" />
<line x1="1212.6" y1="785.3" x2="1212.6" y2="794" stroke="#8a8a8a" stroke-width="1.3" />
<line x1="1265" y1="785.3" x2="1265" y2="794" stroke="#8a8a8a" stroke-width="1.3" />
<line x1="1316.8" y1="785.3" x2="1316.8" y2="794" stroke="#8a8a8a" stroke-width="1.3" />
<line x1="1337.2" y1="785.3" x2="1337.2" y2="794" stroke="#8a8a8a" stroke-width="1.3" />
<line x1="1408.7" y1="785.3" x2="1408.7" y2="794" stroke="#8a8a8a" stroke-width="1.3" />
<line x1="1480" y1="785.3" x2="1480" y2="794" stroke="#8a8a8a" stroke-width="1.3" />
<text x="1077.5" y="448.5" font-size="21" fill="#7a7a7a" text-anchor="end" textLength="32" lengthAdjust="spacingAndGlyphs">0.0</text>
<text x="1077.5" y="512.5" font-size="21" fill="#7a7a7a" text-anchor="end" textLength="32" lengthAdjust="spacingAndGlyphs">0.5</text>
<text x="1077.5" y="576.3" font-size="21" fill="#7a7a7a" text-anchor="end" textLength="32" lengthAdjust="spacingAndGlyphs">1.0</text>
<text x="1077.5" y="636.3" font-size="21" fill="#7a7a7a" text-anchor="end" textLength="32" lengthAdjust="spacingAndGlyphs">1.5</text>
<text x="1077.5" y="692.4" font-size="21" fill="#7a7a7a" text-anchor="end" textLength="32" lengthAdjust="spacingAndGlyphs">2.0</text>
<text x="1077.5" y="748.6" font-size="21" fill="#7a7a7a" text-anchor="end" textLength="32" lengthAdjust="spacingAndGlyphs">2.5</text>
<text x="1106" y="823.6" font-size="21" fill="#7a7a7a" text-anchor="middle">−1</text>
<text x="1213.4" y="823.6" font-size="21" fill="#7a7a7a" text-anchor="middle">0</text>
<text x="1318.5" y="823.6" font-size="21" fill="#7a7a7a" text-anchor="middle">1</text>
<text x="1339" y="823.6" font-size="21" fill="#7a7a7a" text-anchor="middle">0</text>
<text x="1408.7" y="823.6" font-size="21" fill="#7a7a7a" text-anchor="middle">2</text>
<text x="1480" y="823.6" font-size="21" fill="#7a7a7a" text-anchor="middle">4</text>
<text x="1178" y="859.3" font-size="21" fill="#7a7a7a"><tspan font-style="italic">k</tspan> (1/Å)</text>
<text x="1360" y="859.3" font-size="21" fill="#7a7a7a" textLength="101" lengthAdjust="spacingAndGlyphs">DOS (a.u.)</text>
<g transform="translate(1027.1 602.7) rotate(-90)"><text x="0" y="0" font-size="26" fill="#7a7a7a" text-anchor="middle" textLength="250" lengthAdjust="spacingAndGlyphs">Binding energy (eV)</text></g>
<text x="1124" y="455" font-size="22" fill="#7a7a7a" text-anchor="middle" font-style="italic">x</text>
<text x="1213.4" y="455" font-size="22" fill="#7a7a7a" text-anchor="middle" font-style="italic">Γ</text>
<text x="1301.5" y="455" font-size="22" fill="#7a7a7a" text-anchor="middle" font-style="italic">x</text>
<text x="1110" y="528.7" font-size="29" fill="#111" textLength="195.5" lengthAdjust="spacingAndGlyphs">0.14 ± 0.02m</text>
<text x="1306.5" y="535" font-size="19" fill="#111">0</text>
<path d="M1338.5 427.4 C1338.5 432.8 1338.2 454 1338.5 459.8 C1338.8 465.6 1339.4 461.4 1340.3 462.3 C1341.1 463.3 1343.7 464.2 1343.6 465.7 C1343.5 467.1 1340.5 467.8 1339.8 471.3 C1339 474.8 1339.3 471.7 1339.2 486.6 C1339.2 501.5 1339 546.9 1339.2 560.6 C1339.5 574.3 1339.6 566.3 1340.8 568.8 C1341.9 571.3 1342.9 572.6 1346.1 575.4 C1349.4 578.2 1355.7 582.5 1360.2 585.6 C1364.6 588.8 1367.6 590.6 1372.9 594.3 C1378.3 598 1385.7 603.3 1392.1 607.9 C1398.5 612.5 1404.6 616.9 1411.2 621.9 C1417.8 626.9 1424.9 632.4 1431.7 638 C1438.5 643.5 1447 649.9 1452.1 655.1 C1457.2 660.3 1459.7 664 1462.3 669.1 C1464.9 674.2 1466 680.8 1467.4 685.7 C1468.8 690.6 1469 694.2 1470.5 698.5 C1472 702.7 1474.1 706.8 1476.3 711.3 C1478.6 715.7 1483.3 721.1 1484 725.3 C1484.7 729.5 1483 732.9 1480.7 736.3 C1478.3 739.7 1473.9 742.6 1470 745.7 C1466 748.9 1460.8 751.8 1457.2 755.2 C1453.6 758.6 1450.2 761.1 1448.3 766.1 C1446.3 771.2 1446.1 782.1 1445.7 785.3" fill="none" stroke="#5a72d6" stroke-width="1.6" />
<line x1="1390.8" y1="478.4" x2="1461" y2="478.4" stroke="#555" stroke-width="1.4" stroke-dasharray="4,4"/>
<line x1="1390.8" y1="567.5" x2="1461" y2="567.5" stroke="#555" stroke-width="1.4" stroke-dasharray="4,4"/>
<line x1="1424" y1="509.6" x2="1424" y2="485" stroke="#333" stroke-width="1.4" />
<polygon points="1424,479.5 1427,486.5 1421,486.5" fill="#333" />
<line x1="1424" y1="539" x2="1424" y2="561" stroke="#333" stroke-width="1.4" />
<polygon points="1424,566.5 1421,559.5 1427,559.5" fill="#333" />
<text x="1362.5" y="532.5" font-size="22" fill="#777" font-family="'Liberation Serif', serif"><tspan font-style="italic">E</tspan><tspan font-size="14" dy="5">g</tspan><tspan dy="-5"> = 0.8 eV</tspan></text>
<text x="1509" y="455" font-size="43" fill="#111" font-family="'Liberation Serif', 'Times New Roman', serif" font-weight="bold">G</text>
<line x1="1684.7" y1="432.5" x2="1684.7" y2="810.6" stroke="#9a9a9a" stroke-width="1.3" stroke-dasharray="6,5"/>
<line x1="1738.8" y1="624" x2="1738.8" y2="810.6" stroke="#9a9a9a" stroke-width="1.3" stroke-dasharray="6,5"/>
<line x1="1791.2" y1="432.5" x2="1791.2" y2="810.6" stroke="#9a9a9a" stroke-width="1.3" stroke-dasharray="6,5"/>
<line x1="1865" y1="432.5" x2="1865" y2="810.6" stroke="#9a9a9a" stroke-width="1.3" stroke-dasharray="6,5"/>
<line x1="1918.7" y1="624" x2="1918.7" y2="810.6" stroke="#9a9a9a" stroke-width="1.3" stroke-dasharray="6,5"/>
<line x1="1973.5" y1="432.5" x2="1973.5" y2="810.6" stroke="#9a9a9a" stroke-width="1.3" stroke-dasharray="6,5"/>
<g clip-path="url(#clipG)" fill="none" stroke-linejoin="round" stroke-linecap="round">
<path d="M1609.2 649.3 C1610.5 649.7 1613.9 653.2 1616.9 651.9 C1619.8 650.6 1623.3 645.3 1627.1 641.6 C1630.9 638 1636.5 631 1639.9 630.1 C1643.3 629.3 1645 632 1647.6 636.5 C1650.1 641 1652.7 648.7 1655.2 657 C1657.8 665.3 1660.4 679.7 1662.9 686.4 C1665.5 693.1 1667 695.8 1670.6 697.2 C1674.2 698.5 1680 694.6 1684.7 694.6 C1689.4 694.6 1694.3 696 1698.8 697.2 C1703.2 698.4 1708.1 705.3 1711.6 701.8 C1715 698.3 1716.6 686.4 1719.2 676.2 C1721.9 666 1724.7 650 1727.4 640.4 C1730.2 630.8 1733.2 622.7 1735.9 618.6 C1738.6 614.5 1740.8 615.4 1743.6 616 C1746.3 616.7 1748.9 618.4 1752.5 622.4 C1756.1 626.5 1761.5 635.9 1765.3 640.4 C1769.1 644.8 1772.1 647.4 1775.5 649.3 C1779 651.2 1783.2 651.7 1785.8 651.9 C1788.3 652.1 1789.2 650.6 1790.9 650.6 C1792.6 650.6 1793.9 652.3 1796 651.9 C1798.2 651.4 1800.9 650.8 1803.7 648 C1806.5 645.3 1809.9 638.2 1812.7 635.2 C1815.4 632.3 1818 630.1 1820.3 630.1 C1822.7 630.1 1824.4 631 1826.7 635.2 C1829.1 639.5 1831.9 650.1 1834.4 655.7 C1837 661.3 1839.1 665.5 1842.1 669 C1845.1 672.5 1848.7 673.8 1852.3 676.7 C1856 679.6 1860.4 683.4 1863.8 686.4 C1867.3 689.4 1869.6 691.4 1872.8 694.6 C1876 697.8 1879.6 704 1883 705.6 C1886.5 707.2 1890 711 1893.3 704.3 C1896.6 697.7 1900 677.9 1903 666 C1906 654 1908.6 640.8 1911.2 632.7 C1913.8 624.6 1916.3 619.4 1918.9 617.3 C1921.4 615.3 1923.6 617.7 1926.6 620.4 C1929.5 623 1933 628.9 1936.8 633.2 C1940.6 637.5 1945.8 643.1 1949.6 646 C1953.4 648.9 1956.4 650 1959.8 650.6 C1963.2 651.1 1966.7 648.4 1970.1 649.3 C1973.5 650.3 1976.9 653.2 1980.3 656.2 C1983.7 659.2 1988.8 665.4 1990.5 667.2" fill="none" stroke="#3b5aa6" stroke-width="4" />
<path d="M1609.2 655.7 C1611.3 657.4 1618.1 662.5 1622 666 C1625.8 669.4 1628.8 672.8 1632.2 676.2 C1635.6 679.6 1639 683 1642.5 686.4 C1645.9 689.8 1649.3 694.5 1652.7 696.7 C1656.1 698.8 1661.2 698.8 1662.9 699.2" fill="none" stroke="#3b5aa6" stroke-width="4" />
<path d="M1735.9 619.9 C1738.2 622.2 1745.5 628.6 1750 634 C1754.4 639.3 1758.5 646.8 1762.7 651.9 C1767 657 1770.9 659.8 1775.5 664.7 C1780.2 669.6 1786.2 677.6 1790.9 681.3 C1795.6 685 1799.9 687.6 1803.7 686.9 C1807.5 686.3 1810.1 680.8 1813.9 677.5 C1817.8 674.2 1822.9 668.6 1826.7 667.2 C1830.6 665.8 1835.3 668.7 1837 669" fill="none" stroke="#3b5aa6" stroke-width="4" />
<path d="M1609.2 678.7 C1610.9 679.2 1616 681.7 1619.4 681.3 C1622.8 680.9 1626.7 678.7 1629.7 676.2 C1632.6 673.6 1636.1 667.7 1637.3 666" fill="none" stroke="#3b5aa6" stroke-width="4" />
<path d="M1609.2 677.5 C1612.2 679.8 1621.5 684.9 1627.1 691.5 C1632.6 698.2 1638.2 709 1642.5 717.1 C1646.7 725.2 1649.7 734.6 1652.7 740.2 C1655.7 745.7 1657 738.9 1660.4 750.4 C1663.8 761.9 1671 799.5 1673.2 809.3" fill="none" stroke="#3b5aa6" stroke-width="4" />
<path d="M1913.8 618.6 C1916.3 621.4 1924 629.1 1929.1 635.2 C1934.2 641.4 1940.2 650.6 1944.5 655.7 C1948.7 660.8 1950.9 662.5 1954.7 666 C1958.6 669.4 1963.2 673.6 1967.5 676.2 C1971.8 678.7 1976.5 682.6 1980.3 681.3 C1984.1 680 1988.8 670.6 1990.5 668.5" fill="none" stroke="#3b5aa6" stroke-width="4" />
<path d="M1970.1 653.2 C1971.8 655.3 1976.9 657.4 1980.3 666 C1983.7 674.5 1988.8 697.9 1990.5 704.3" fill="none" stroke="#3b5aa6" stroke-width="4" />
<path d="M1790.9 681.3 C1793.9 683.9 1803.3 689 1808.8 696.7 C1814.4 704.3 1819.5 718.4 1824.2 727.4 C1828.9 736.3 1833.1 743.6 1837 750.4 C1840.8 757.2 1842.7 763.6 1847.2 768.3 C1851.7 773 1861.1 776.9 1863.8 778.6" fill="none" stroke="#3b5aa6" stroke-width="4" />
<path d="M1820.3 630.1 C1821.4 631.8 1824.4 634.4 1826.7 640.4 C1829.1 646.3 1831.9 655.3 1834.4 666 C1837 676.6 1840 692.6 1842.1 704.3 C1844.2 716.1 1844.7 735.1 1847.2 736.3 C1849.8 737.6 1854.7 720.3 1857.5 712 C1860.2 703.7 1862.8 690.7 1863.8 686.4" fill="none" stroke="#3b5aa6" stroke-width="4" />
<path d="M1847.2 736.3 C1847.1 741.7 1846.6 756.2 1846.7 768.3 C1846.8 780.5 1847.6 802.5 1847.7 809.3" fill="none" stroke="#3b5aa6" stroke-width="4" />
<path d="M1627.1 640.4 C1627.9 644.6 1630.1 654.9 1632.2 666 C1634.3 677 1636.9 693.7 1639.9 706.9 C1642.9 720.1 1647.1 734.2 1650.1 745.3 C1653.1 756.4 1655.7 766.2 1657.8 773.5 C1659.9 780.7 1660.4 782.8 1662.9 788.8 C1665.5 794.8 1671.5 805.9 1673.2 809.3" fill="none" stroke="#3b5aa6" stroke-width="4" />
<path d="M1790.9 681.3 C1792.6 687.3 1797.7 705.6 1801.1 717.1 C1804.6 728.7 1807.1 739.8 1811.4 750.4 C1815.6 761.1 1822.5 771.3 1826.7 781.1 C1831 790.9 1835.3 804.6 1837 809.3" fill="none" stroke="#3b5aa6" stroke-width="4" />
<path d="M1609.2 714.6 C1610.9 714.7 1616 714 1619.4 715.1 C1622.8 716.2 1627.9 720 1629.7 721" fill="none" stroke="#2a8a48" stroke-width="4" />
<path d="M1609.2 776 C1612.2 776.4 1622.2 776.6 1627.1 778.6 C1632 780.5 1635.2 782.4 1638.6 787.5 C1642 792.6 1646.1 805.7 1647.6 809.3" fill="none" stroke="#2a8a48" stroke-width="4" />
<path d="M1645 809.3 C1647.1 807.6 1653.1 802 1657.8 799 C1662.5 796.1 1668.5 793.5 1673.2 791.4 C1677.9 789.2 1682.1 786.7 1686 786.2 C1689.8 785.8 1693.6 788 1696.2 788.8 C1698.8 789.6 1699.6 794.3 1701.3 790.9 C1703 787.4 1703.9 778.3 1706.4 768.3 C1709 758.4 1713.3 739.5 1716.7 731.2 C1720.1 722.9 1723.5 721.1 1726.9 718.4 C1730.3 715.7 1733.7 716.6 1737.2 715.1 C1740.6 713.6 1744 712.5 1747.4 709.5 C1750.8 706.4 1755.1 699.7 1757.6 696.7 C1760.2 693.7 1760.6 689.2 1762.7 691.5 C1764.9 693.9 1767.9 706.6 1770.4 710.7 C1773 714.9 1775.1 716 1778.1 716.6 C1781.1 717.3 1784.5 714.5 1788.3 714.6 C1792.2 714.7 1797.3 714.2 1801.1 717.1 C1805 720 1807.5 726 1811.4 732 C1815.2 738 1819.9 747.3 1824.2 753 C1828.4 758.7 1832.3 762.8 1837 766.3 C1841.7 769.8 1847.9 771.9 1852.3 774 C1856.8 776 1859.6 778.7 1863.8 778.6 C1868.1 778.5 1874.3 777.3 1877.9 773.5 C1881.6 769.6 1882.6 762.7 1885.6 755.5 C1888.6 748.4 1892.4 736.3 1895.8 730.5 C1899.3 724.6 1902.7 722.4 1906.1 720.2 C1909.5 718 1912.5 719.8 1916.3 717.1 C1920.2 714.5 1925.3 708.2 1929.1 704.3 C1933 700.5 1936.4 695.3 1939.4 694.1 C1942.3 692.9 1944.5 693.7 1947 697.2 C1949.6 700.7 1951.7 711.3 1954.7 715.1 C1957.7 718.9 1961.5 719.9 1964.9 720.2 C1968.4 720.6 1970.9 719.7 1975.2 717.1 C1979.5 714.6 1988 706.9 1990.5 704.9" fill="none" stroke="#2a8a48" stroke-width="4" />
<path d="M1744.8 809.3 C1745.7 805.4 1747.8 791.7 1750 786.2 C1752.1 780.8 1753.4 778.4 1757.6 776.5 C1761.9 774.6 1770 775 1775.5 774.7 C1781.1 774.4 1785.8 774.5 1790.9 774.7 C1796 774.9 1802 774.5 1806.3 776 C1810.5 777.5 1813.5 779.8 1816.5 783.7 C1819.5 787.5 1822.3 794.8 1824.2 799 C1826.1 803.3 1827.4 807.6 1828 809.3" fill="none" stroke="#2a8a48" stroke-width="4" />
<path d="M1826.7 809.3 C1828.4 807.2 1832.7 799.9 1837 796.5 C1841.2 793.1 1847.9 790.5 1852.3 788.8 C1856.8 787.1 1860 785.8 1863.8 786.2 C1867.7 786.7 1872.6 787.5 1875.4 791.4 C1878.1 795.2 1879.6 806.3 1880.5 809.3" fill="none" stroke="#2a8a48" stroke-width="4" />
<path d="M1929.1 809.3 C1931.7 807.2 1939.4 801.2 1944.5 796.5 C1949.6 791.8 1955.1 784.8 1959.8 781.1 C1964.5 777.5 1968.8 775.2 1972.6 774.7 C1976.5 774.3 1979.9 775.7 1982.9 778.6 C1985.9 781.4 1989.7 788.4 1990.5 791.9 C1991.4 795.4 1991 796.7 1988 799.6 C1985 802.5 1975.2 807.7 1972.6 809.3" fill="none" stroke="#2a8a48" stroke-width="4" />
<path d="M1735.9 635.2 C1737.8 636.1 1743.8 636.3 1747.4 640.4 C1751 644.4 1754.2 653.4 1757.6 659.6 C1761 665.7 1764.5 673.9 1767.9 677.5 C1771.3 681 1774.3 680.2 1778.1 680.8 C1781.9 681.4 1786.6 680.6 1790.9 680.8 C1795.2 681 1800.1 682.6 1803.7 681.8 C1807.3 681.1 1809.7 677.8 1812.7 676.2 C1815.6 674.6 1818 672.8 1821.6 672.3 C1825.2 671.9 1830.1 672.1 1834.4 673.6 C1838.7 675.2 1843.4 679.5 1847.2 681.8 C1851.1 684.2 1854.7 686.5 1857.5 687.7 C1860.2 688.9 1862.8 688.8 1863.8 689" fill="none" stroke="#2a8a48" stroke-width="4" />
<path d="M1916.3 635.2 C1918.5 637.4 1924.9 643.6 1929.1 648 C1933.4 652.5 1937.6 659 1941.9 662.1 C1946.2 665.2 1950.4 664.9 1954.7 666.5 C1959 668 1963.2 669.7 1967.5 671.6 C1971.8 673.4 1976.5 675.8 1980.3 677.5 C1984.1 679.2 1988.8 681.1 1990.5 681.8" fill="none" stroke="#2a8a48" stroke-width="4" />
<path d="M1627.1 676.2 C1628.8 675.8 1633.9 672.6 1637.3 674.1 C1640.7 675.6 1644.2 680.1 1647.6 685.1 C1651 690.2 1654.8 701.5 1657.8 704.3 C1660.8 707.2 1664.2 702.6 1665.5 702.3" fill="none" stroke="#2a8a48" stroke-width="4" />
<path d="M1765.3 668.5 C1767 666.6 1771.7 659.3 1775.5 657 C1779.4 654.6 1784.1 653.4 1788.3 654.4 C1792.6 655.5 1797.3 659.8 1801.1 663.4 C1805 667 1809.7 674.1 1811.4 676.2" fill="none" stroke="#2a8a48" stroke-width="4" />
<path d="M1609.2 714.6 C1612.2 716.7 1621.5 721.8 1627.1 727.4 C1632.6 732.9 1637.3 739.8 1642.5 747.9 C1647.6 756 1653.1 765.8 1657.8 776 C1662.5 786.2 1668.5 803.7 1670.6 809.3" fill="none" stroke="#2a8a48" stroke-width="4" />
<path d="M1744.8 809.3 C1745.7 805.4 1747.8 791.7 1750 786.2 C1752.1 780.8 1753.4 778.4 1757.6 776.5 C1761.9 774.6 1770 775 1775.5 774.7 C1781.1 774.4 1785.8 774.5 1790.9 774.7 C1796 774.9 1802 774.5 1806.3 776 C1810.5 777.5 1813.5 779.8 1816.5 783.7 C1819.5 787.5 1822.3 794.8 1824.2 799 C1826.1 803.3 1827.4 807.6 1828 809.3" fill="none" stroke="#239a45" stroke-width="6" />
<path d="M1826.7 809.3 C1828.4 807.2 1832.7 799.9 1837 796.5 C1841.2 793.1 1847.9 790.5 1852.3 788.8 C1856.8 787.1 1860 785.8 1863.8 786.2 C1867.7 786.7 1872.6 787.5 1875.4 791.4 C1878.1 795.2 1879.6 806.3 1880.5 809.3" fill="none" stroke="#239a45" stroke-width="6" />
<path d="M1929.1 809.3 C1931.7 807.2 1939.4 801.2 1944.5 796.5 C1949.6 791.8 1955.1 784.8 1959.8 781.1 C1964.5 777.5 1968.8 775.2 1972.6 774.7 C1976.5 774.3 1979.9 775.7 1982.9 778.6 C1985.9 781.4 1989.7 788.4 1990.5 791.9 C1991.4 795.4 1991 796.7 1988 799.6 C1985 802.5 1975.2 807.7 1972.6 809.3" fill="none" stroke="#239a45" stroke-width="6" />
<path d="M1609.2 539.3 C1610 536.1 1612.5 527.1 1614.3 520.1 C1616.1 513 1618.1 505.1 1619.9 497 C1621.7 488.9 1623.2 482.2 1625 471.4 C1626.9 460.7 1630.2 439 1631.2 432.5" fill="none" stroke="#e0474a" stroke-width="3.8" />
<path d="M1609.2 539.3 C1610 536.1 1612.5 527.1 1614.3 520.1 C1616.1 513 1618.1 505.1 1619.9 497 C1621.7 488.9 1623.2 482.2 1625 471.4 C1626.9 460.7 1630.2 439 1631.2 432.5" fill="none" stroke="#5b8f4a" stroke-width="0.9" opacity="0.7"/>
<path d="M1609.2 506 C1610.2 504.9 1613.4 503.6 1615.6 499.6 C1617.7 495.5 1620.1 488.5 1622 481.7 C1623.8 474.8 1625.3 466.8 1626.6 458.6 C1627.9 450.4 1629.1 436.9 1629.7 432.5" fill="none" stroke="#e0474a" stroke-width="3.8" />
<path d="M1609.2 506 C1610.2 504.9 1613.4 503.6 1615.6 499.6 C1617.7 495.5 1620.1 488.5 1622 481.7 C1623.8 474.8 1625.3 466.8 1626.6 458.6 C1627.9 450.4 1629.1 436.9 1629.7 432.5" fill="none" stroke="#5b8f4a" stroke-width="0.9" opacity="0.7"/>
<path d="M1637.3 432.5 C1638.2 435.6 1640.6 446 1642.5 451 C1644.3 455.9 1646.2 462 1648.3 462.5 C1650.5 462.9 1652.8 456.8 1655.2 453.5 C1657.7 450.2 1660.4 443.8 1662.9 442.8 C1665.5 441.7 1668 445 1670.6 447.1 C1673.2 449.2 1675.7 453.6 1678.3 455.6 C1680.8 457.5 1683.4 459 1686 458.6 C1688.5 458.3 1691.3 456.5 1693.6 453.5 C1696 450.5 1698.3 444.2 1700 440.7 C1701.7 437.2 1703.2 433.9 1703.9 432.5" fill="none" stroke="#e0474a" stroke-width="3.8" />
<path d="M1637.3 432.5 C1638.2 435.6 1640.6 446 1642.5 451 C1644.3 455.9 1646.2 462 1648.3 462.5 C1650.5 462.9 1652.8 456.8 1655.2 453.5 C1657.7 450.2 1660.4 443.8 1662.9 442.8 C1665.5 441.7 1668 445 1670.6 447.1 C1673.2 449.2 1675.7 453.6 1678.3 455.6 C1680.8 457.5 1683.4 459 1686 458.6 C1688.5 458.3 1691.3 456.5 1693.6 453.5 C1696 450.5 1698.3 444.2 1700 440.7 C1701.7 437.2 1703.2 433.9 1703.9 432.5" fill="none" stroke="#5b8f4a" stroke-width="0.9" opacity="0.7"/>
<path d="M1664.2 432.5 C1665.7 435.2 1669.8 444 1673.2 448.4 C1676.6 452.7 1682.8 456.9 1684.7 458.6" fill="none" stroke="#e0474a" stroke-width="3.8" />
<path d="M1664.2 432.5 C1665.7 435.2 1669.8 444 1673.2 448.4 C1676.6 452.7 1682.8 456.9 1684.7 458.6" fill="none" stroke="#5b8f4a" stroke-width="0.9" opacity="0.7"/>
<path d="M1770.4 432.5 C1771.7 439.4 1775.5 459 1778.1 474 C1780.7 489 1783.7 511.7 1785.8 522.6 C1787.9 533.5 1789.2 539.3 1790.9 539.3 C1792.6 539.3 1793.8 533.5 1796 522.6 C1798.2 511.7 1801.7 489 1804.2 474 C1806.8 459 1810.2 439.4 1811.4 432.5" fill="none" stroke="#e0474a" stroke-width="3.8" />
<path d="M1770.4 432.5 C1771.7 439.4 1775.5 459 1778.1 474 C1780.7 489 1783.7 511.7 1785.8 522.6 C1787.9 533.5 1789.2 539.3 1790.9 539.3 C1792.6 539.3 1793.8 533.5 1796 522.6 C1798.2 511.7 1801.7 489 1804.2 474 C1806.8 459 1810.2 439.4 1811.4 432.5" fill="none" stroke="#5b8f4a" stroke-width="0.9" opacity="0.7"/>
<path d="M1775 432.5 C1776.4 441.6 1780.6 474.4 1783.2 486.8 C1785.9 499.2 1788.1 505.5 1790.9 506.7 C1793.7 508 1796.7 504.2 1799.9 494.5 C1803.1 484.7 1808.4 456.1 1810.1 448.4" fill="none" stroke="#e0474a" stroke-width="3.8" />
<path d="M1775 432.5 C1776.4 441.6 1780.6 474.4 1783.2 486.8 C1785.9 499.2 1788.1 505.5 1790.9 506.7 C1793.7 508 1796.7 504.2 1799.9 494.5 C1803.1 484.7 1808.4 456.1 1810.1 448.4" fill="none" stroke="#5b8f4a" stroke-width="0.9" opacity="0.7"/>
<path d="M1817.8 432.5 C1818.6 437.3 1821.1 453.6 1822.9 461.2 C1824.7 468.7 1826.6 477 1828.5 477.8 C1830.4 478.7 1832.4 470.1 1834.4 466.3 C1836.5 462.5 1838.7 454.4 1840.8 454.8 C1842.9 455.2 1844.9 462.3 1847.2 468.9 C1849.6 475.5 1852.1 488.1 1854.9 494.5 C1857.7 500.9 1860.9 508.5 1863.8 507.3 C1866.8 506 1870.1 496.2 1872.8 486.8 C1875.5 477.4 1878.1 460 1880 451 C1881.9 441.9 1883.6 435.6 1884.3 432.5" fill="none" stroke="#e0474a" stroke-width="3.8" />
<path d="M1817.8 432.5 C1818.6 437.3 1821.1 453.6 1822.9 461.2 C1824.7 468.7 1826.6 477 1828.5 477.8 C1830.4 478.7 1832.4 470.1 1834.4 466.3 C1836.5 462.5 1838.7 454.4 1840.8 454.8 C1842.9 455.2 1844.9 462.3 1847.2 468.9 C1849.6 475.5 1852.1 488.1 1854.9 494.5 C1857.7 500.9 1860.9 508.5 1863.8 507.3 C1866.8 506 1870.1 496.2 1872.8 486.8 C1875.5 477.4 1878.1 460 1880 451 C1881.9 441.9 1883.6 435.6 1884.3 432.5" fill="none" stroke="#5b8f4a" stroke-width="0.9" opacity="0.7"/>
<path d="M1848.5 432.5 C1849.9 440.7 1854.4 469.2 1856.9 481.7 C1859.5 494.1 1862.7 503 1863.8 507.3" fill="none" stroke="#e0474a" stroke-width="3.8" />
<path d="M1848.5 432.5 C1849.9 440.7 1854.4 469.2 1856.9 481.7 C1859.5 494.1 1862.7 503 1863.8 507.3" fill="none" stroke="#5b8f4a" stroke-width="0.9" opacity="0.7"/>
<path d="M1952.2 432.5 C1953.8 440.7 1959.2 466.7 1961.9 481.7 C1964.6 496.7 1966.4 513 1968.3 522.6 C1970.2 532.2 1970.9 537.2 1973.1 539.3 C1975.4 541.3 1979 538.3 1981.6 534.9 C1984.2 531.5 1987.3 522.6 1988.8 518.8 C1990.2 514.9 1991 514 1990.5 511.9 C1990.1 509.8 1988.3 507.1 1985.9 506.2 C1983.6 505.4 1979.2 506.1 1976.5 506.7 C1973.7 507.4 1970.7 509.7 1969.6 510.3" fill="none" stroke="#e0474a" stroke-width="3.8" />
<path d="M1952.2 432.5 C1953.8 440.7 1959.2 466.7 1961.9 481.7 C1964.6 496.7 1966.4 513 1968.3 522.6 C1970.2 532.2 1970.9 537.2 1973.1 539.3 C1975.4 541.3 1979 538.3 1981.6 534.9 C1984.2 531.5 1987.3 522.6 1988.8 518.8 C1990.2 514.9 1991 514 1990.5 511.9 C1990.1 509.8 1988.3 507.1 1985.9 506.2 C1983.6 505.4 1979.2 506.1 1976.5 506.7 C1973.7 507.4 1970.7 509.7 1969.6 510.3" fill="none" stroke="#5b8f4a" stroke-width="0.9" opacity="0.7"/>
</g>
<rect x="1609.2" y="432.5" width="381.3" height="378.1" fill="none" stroke="#b5b5b5" stroke-width="1.5" />
<line x1="1603" y1="432.5" x2="1609.2" y2="432.5" stroke="#aaaaaa" stroke-width="1.2" />
<text x="1593" y="437.5" font-size="14.5" fill="#8a8a8a" text-anchor="end">2.0</text>
<line x1="1605" y1="453.5" x2="1609.2" y2="453.5" stroke="#aaaaaa" stroke-width="1" />
<line x1="1603" y1="474.5" x2="1609.2" y2="474.5" stroke="#aaaaaa" stroke-width="1.2" />
<text x="1593" y="479.5" font-size="14.5" fill="#8a8a8a" text-anchor="end">1.5</text>
<line x1="1605" y1="495.5" x2="1609.2" y2="495.5" stroke="#aaaaaa" stroke-width="1" />
<line x1="1603" y1="516.5" x2="1609.2" y2="516.5" stroke="#aaaaaa" stroke-width="1.2" />
<text x="1593" y="521.5" font-size="14.5" fill="#8a8a8a" text-anchor="end">1.0</text>
<line x1="1605" y1="537.5" x2="1609.2" y2="537.5" stroke="#aaaaaa" stroke-width="1" />
<line x1="1603" y1="558.5" x2="1609.2" y2="558.5" stroke="#aaaaaa" stroke-width="1.2" />
<text x="1593" y="563.5" font-size="14.5" fill="#8a8a8a" text-anchor="end">0.5</text>
<line x1="1605" y1="579.5" x2="1609.2" y2="579.5" stroke="#aaaaaa" stroke-width="1" />
<line x1="1603" y1="600.5" x2="1609.2" y2="600.5" stroke="#aaaaaa" stroke-width="1.2" />
<text x="1593" y="605.5" font-size="14.5" fill="#8a8a8a" text-anchor="end">0.0</text>
<line x1="1605" y1="621.5" x2="1609.2" y2="621.5" stroke="#aaaaaa" stroke-width="1" />
<line x1="1603" y1="642.5" x2="1609.2" y2="642.5" stroke="#aaaaaa" stroke-width="1.2" />
<text x="1593" y="647.5" font-size="14.5" fill="#8a8a8a" text-anchor="end">−0.5</text>
<line x1="1605" y1="663.5" x2="1609.2" y2="663.5" stroke="#aaaaaa" stroke-width="1" />
<line x1="1603" y1="684.5" x2="1609.2" y2="684.5" stroke="#aaaaaa" stroke-width="1.2" />
<text x="1593" y="689.5" font-size="14.5" fill="#8a8a8a" text-anchor="end">−1.0</text>
<line x1="1605" y1="705.5" x2="1609.2" y2="705.5" stroke="#aaaaaa" stroke-width="1" />
<line x1="1603" y1="726.5" x2="1609.2" y2="726.5" stroke="#aaaaaa" stroke-width="1.2" />
<text x="1593" y="731.5" font-size="14.5" fill="#8a8a8a" text-anchor="end">−1.5</text>
<line x1="1605" y1="747.5" x2="1609.2" y2="747.5" stroke="#aaaaaa" stroke-width="1" />
<line x1="1603" y1="768.5" x2="1609.2" y2="768.5" stroke="#aaaaaa" stroke-width="1.2" />
<text x="1593" y="773.5" font-size="14.5" fill="#8a8a8a" text-anchor="end">−2.0</text>
<line x1="1605" y1="789.5" x2="1609.2" y2="789.5" stroke="#aaaaaa" stroke-width="1" />
<line x1="1603" y1="810.5" x2="1609.2" y2="810.5" stroke="#aaaaaa" stroke-width="1.2" />
<text x="1593" y="815.5" font-size="14.5" fill="#8a8a8a" text-anchor="end">−2.5</text>
<text x="1609.2" y="834.9" font-size="15" fill="#8a8a8a" text-anchor="middle" font-style="italic">Γ</text>
<text x="1684.7" y="834.9" font-size="15" fill="#8a8a8a" text-anchor="middle" font-style="italic">A</text>
<text x="1735.9" y="834.9" font-size="15" fill="#8a8a8a" text-anchor="middle" font-style="italic">X</text>
<text x="1788.3" y="834.9" font-size="15" fill="#8a8a8a" text-anchor="middle" font-style="italic">Γ</text>
<text x="1863.8" y="834.9" font-size="15" fill="#8a8a8a" text-anchor="middle" font-style="italic">M</text>
<text x="1915" y="834.9" font-size="15" fill="#8a8a8a" text-anchor="middle" font-style="italic">R</text>
<text x="1968.8" y="834.9" font-size="15" fill="#8a8a8a" text-anchor="middle" font-style="italic">Γ</text>
<text x="1987" y="834.9" font-size="15" fill="#8a8a8a" text-anchor="middle" font-style="italic">Z</text>
<g transform="translate(1540.2 621.6) rotate(-90)"><text x="0" y="0" font-size="18.5" fill="#8a8a8a" text-anchor="middle" textLength="119" lengthAdjust="spacingAndGlyphs">Energy (eV)</text></g>
<circle cx="1886.9" cy="524.3" r="5.6" fill="none" stroke="#e86068" stroke-width="1.3" />
<text x="1903.2" y="529.8" font-size="16" fill="#7a7a7a">Bi-p</text>
<circle cx="1886.9" cy="550.1" r="5.6" fill="none" stroke="#7080c8" stroke-width="1.3" />
<text x="1903.2" y="555.6" font-size="16" fill="#7a7a7a">Se-p</text>
<circle cx="1886.9" cy="575.9" r="5.6" fill="none" stroke="#48a868" stroke-width="1.3" />
<text x="1903.2" y="581.4" font-size="16" fill="#7a7a7a">O-p</text>
<text x="1692.4" y="566" font-size="15" fill="#777777" textLength="60" lengthAdjust="spacingAndGlyphs">0.85 eV</text>
<line x1="1744.8" y1="607" x2="1780" y2="553.5" stroke="#333" stroke-width="1.1" />
<polygon points="1783.2,549.5 1781.9,555.9 1777.8,553.1" fill="#333" />
<text x="65.9" y="920.2" font-size="43" fill="#111" font-family="'Liberation Serif', 'Times New Roman', serif" font-weight="bold">H</text>
<line x1="237.2" y1="894.4" x2="663.2" y2="894.4" stroke="#9a9a9a" stroke-width="1.3" />
<line x1="237.2" y1="1230.3" x2="663.2" y2="1230.3" stroke="#8a8a8a" stroke-width="1.6" />
<line x1="237.2" y1="894.4" x2="237.2" y2="1230.3" stroke="#f07a80" stroke-width="1.6" />
<line x1="663.2" y1="894.4" x2="663.2" y2="1230.3" stroke="#8da0d8" stroke-width="1.6" />
<line x1="236.7" y1="1230.3" x2="236.7" y2="1235.3" stroke="#7a7a7a" stroke-width="1.3" />
<line x1="244.5" y1="1230.3" x2="244.5" y2="1235.3" stroke="#7a7a7a" stroke-width="1.3" />
<line x1="251.5" y1="1230.3" x2="251.5" y2="1239.3" stroke="#7a7a7a" stroke-width="1.3" />
<line x1="297.4" y1="1230.3" x2="297.4" y2="1235.3" stroke="#7a7a7a" stroke-width="1.3" />
<line x1="324.2" y1="1230.3" x2="324.2" y2="1235.3" stroke="#7a7a7a" stroke-width="1.3" />
<line x1="343.3" y1="1230.3" x2="343.3" y2="1235.3" stroke="#7a7a7a" stroke-width="1.3" />
<line x1="358" y1="1230.3" x2="358" y2="1235.3" stroke="#7a7a7a" stroke-width="1.3" />
<line x1="370.1" y1="1230.3" x2="370.1" y2="1235.3" stroke="#7a7a7a" stroke-width="1.3" />
<line x1="380.3" y1="1230.3" x2="380.3" y2="1235.3" stroke="#7a7a7a" stroke-width="1.3" />
<line x1="389.1" y1="1230.3" x2="389.1" y2="1235.3" stroke="#7a7a7a" stroke-width="1.3" />
<line x1="396.9" y1="1230.3" x2="396.9" y2="1235.3" stroke="#7a7a7a" stroke-width="1.3" />
<line x1="403.9" y1="1230.3" x2="403.9" y2="1239.3" stroke="#7a7a7a" stroke-width="1.3" />
<line x1="449.8" y1="1230.3" x2="449.8" y2="1235.3" stroke="#7a7a7a" stroke-width="1.3" />
<line x1="476.6" y1="1230.3" x2="476.6" y2="1235.3" stroke="#7a7a7a" stroke-width="1.3" />
<line x1="495.7" y1="1230.3" x2="495.7" y2="1235.3" stroke="#7a7a7a" stroke-width="1.3" />
<line x1="510.4" y1="1230.3" x2="510.4" y2="1235.3" stroke="#7a7a7a" stroke-width="1.3" />
<line x1="522.5" y1="1230.3" x2="522.5" y2="1235.3" stroke="#7a7a7a" stroke-width="1.3" />
<line x1="532.7" y1="1230.3" x2="532.7" y2="1235.3" stroke="#7a7a7a" stroke-width="1.3" />
<line x1="541.5" y1="1230.3" x2="541.5" y2="1235.3" stroke="#7a7a7a" stroke-width="1.3" />
<line x1="549.3" y1="1230.3" x2="549.3" y2="1235.3" stroke="#7a7a7a" stroke-width="1.3" />
<line x1="556.3" y1="1230.3" x2="556.3" y2="1239.3" stroke="#7a7a7a" stroke-width="1.3" />
<line x1="602.2" y1="1230.3" x2="602.2" y2="1235.3" stroke="#7a7a7a" stroke-width="1.3" />
<line x1="629" y1="1230.3" x2="629" y2="1235.3" stroke="#7a7a7a" stroke-width="1.3" />
<line x1="648.1" y1="1230.3" x2="648.1" y2="1235.3" stroke="#7a7a7a" stroke-width="1.3" />
<line x1="662.8" y1="1230.3" x2="662.8" y2="1235.3" stroke="#7a7a7a" stroke-width="1.3" />
<line x1="233.2" y1="1229.7" x2="237.2" y2="1229.7" stroke="#f07a80" stroke-width="1.2" />
<line x1="233.2" y1="1223" x2="237.2" y2="1223" stroke="#f07a80" stroke-width="1.2" />
<line x1="229.2" y1="1217.1" x2="237.2" y2="1217.1" stroke="#f07a80" stroke-width="1.2" />
<line x1="233.2" y1="1178" x2="237.2" y2="1178" stroke="#f07a80" stroke-width="1.2" />
<line x1="233.2" y1="1155.1" x2="237.2" y2="1155.1" stroke="#f07a80" stroke-width="1.2" />
<line x1="233.2" y1="1138.8" x2="237.2" y2="1138.8" stroke="#f07a80" stroke-width="1.2" />
<line x1="233.2" y1="1126.2" x2="237.2" y2="1126.2" stroke="#f07a80" stroke-width="1.2" />
<line x1="233.2" y1="1115.9" x2="237.2" y2="1115.9" stroke="#f07a80" stroke-width="1.2" />
<line x1="233.2" y1="1107.2" x2="237.2" y2="1107.2" stroke="#f07a80" stroke-width="1.2" />
<line x1="233.2" y1="1099.7" x2="237.2" y2="1099.7" stroke="#f07a80" stroke-width="1.2" />
<line x1="233.2" y1="1093" x2="237.2" y2="1093" stroke="#f07a80" stroke-width="1.2" />
<line x1="229.2" y1="1087.1" x2="237.2" y2="1087.1" stroke="#f07a80" stroke-width="1.2" />
<line x1="233.2" y1="1048" x2="237.2" y2="1048" stroke="#f07a80" stroke-width="1.2" />
<line x1="233.2" y1="1025.1" x2="237.2" y2="1025.1" stroke="#f07a80" stroke-width="1.2" />
<line x1="233.2" y1="1008.8" x2="237.2" y2="1008.8" stroke="#f07a80" stroke-width="1.2" />
<line x1="233.2" y1="996.2" x2="237.2" y2="996.2" stroke="#f07a80" stroke-width="1.2" />
<line x1="233.2" y1="985.9" x2="237.2" y2="985.9" stroke="#f07a80" stroke-width="1.2" />
<line x1="233.2" y1="977.2" x2="237.2" y2="977.2" stroke="#f07a80" stroke-width="1.2" />
<line x1="233.2" y1="969.7" x2="237.2" y2="969.7" stroke="#f07a80" stroke-width="1.2" />
<line x1="233.2" y1="963" x2="237.2" y2="963" stroke="#f07a80" stroke-width="1.2" />
<line x1="229.2" y1="957.1" x2="237.2" y2="957.1" stroke="#f07a80" stroke-width="1.2" />
<line x1="233.2" y1="918" x2="237.2" y2="918" stroke="#f07a80" stroke-width="1.2" />
<line x1="233.2" y1="895.1" x2="237.2" y2="895.1" stroke="#f07a80" stroke-width="1.2" />
<line x1="663.2" y1="1223.2" x2="672.2" y2="1223.2" stroke="#8da0d8" stroke-width="1.2" />
<line x1="663.2" y1="1182.1" x2="668.2" y2="1182.1" stroke="#8da0d8" stroke-width="1.2" />
<line x1="663.2" y1="1141" x2="672.2" y2="1141" stroke="#8da0d8" stroke-width="1.2" />
<line x1="663.2" y1="1099.9" x2="668.2" y2="1099.9" stroke="#8da0d8" stroke-width="1.2" />
<line x1="663.2" y1="1058.8" x2="672.2" y2="1058.8" stroke="#8da0d8" stroke-width="1.2" />
<line x1="663.2" y1="1017.7" x2="668.2" y2="1017.7" stroke="#8da0d8" stroke-width="1.2" />
<line x1="663.2" y1="976.6" x2="672.2" y2="976.6" stroke="#8da0d8" stroke-width="1.2" />
<line x1="663.2" y1="935.5" x2="668.2" y2="935.5" stroke="#8da0d8" stroke-width="1.2" />
<line x1="663.2" y1="894.4" x2="672.2" y2="894.4" stroke="#8da0d8" stroke-width="1.2" />
<text x="210.5" y="967" font-size="27.5" fill="#ef5a60" text-anchor="end">10,000</text>
<text x="210.5" y="1097" font-size="27.5" fill="#ef5a60" text-anchor="end">1000</text>
<text x="210.5" y="1227" font-size="27.5" fill="#ef5a60" text-anchor="end">100</text>
<text x="685" y="904.5" font-size="27.5" fill="#5a78c8">12</text>
<text x="685" y="986.5" font-size="27.5" fill="#5a78c8">10</text>
<text x="685" y="1068" font-size="27.5" fill="#5a78c8">8</text>
<text x="685" y="1150.5" font-size="27.5" fill="#5a78c8">6</text>
<text x="685" y="1232.5" font-size="27.5" fill="#5a78c8">4</text>
<text x="251.5" y="1278.8" font-size="25.5" fill="#555555" text-anchor="middle">1</text>
<text x="403.9" y="1278.8" font-size="25.5" fill="#555555" text-anchor="middle">10</text>
<text x="556.3" y="1278.8" font-size="25.5" fill="#555555" text-anchor="middle">100</text>
<text x="420" y="1327" font-size="27" fill="#555"><tspan font-style="italic">T</tspan> (K)</text>
<g transform="translate(98 1066.5) rotate(-90)"><text x="0" y="0" font-size="27" fill="#ef5a60" text-anchor="middle" textLength="231" lengthAdjust="spacingAndGlyphs"><tspan font-style="italic">μ</tspan><tspan font-size="18" dy="6">Hall</tspan><tspan dy="-6"> (cm</tspan><tspan font-size="17" dy="-10">2</tspan><tspan dy="10"> V</tspan><tspan font-size="17" dy="-10">−1</tspan><tspan dy="10">s</tspan><tspan font-size="17" dy="-10">−1</tspan><tspan dy="10">)</tspan></text></g>
<g transform="translate(750 1060) rotate(-90)"><text x="0" y="0" font-size="27" fill="#5a78c8" text-anchor="middle" textLength="172" lengthAdjust="spacingAndGlyphs"><tspan font-style="italic">n</tspan> (10<tspan font-size="17" dy="-10">18</tspan><tspan dy="10"> cm</tspan><tspan font-size="17" dy="-10">−3</tspan><tspan dy="10">)</tspan></text></g>
<rect x="264" y="966.8" width="194.4" height="185.4" fill="#886d43" />
<rect x="264" y="1047.5" width="36" height="23.3" fill="#f2d87f" />
<rect x="298.2" y="988.3" width="34" height="136.3" fill="#f2d87f" rx="3"/>
<rect x="395" y="988.3" width="34" height="136.3" fill="#f2d87f" rx="3"/>
<rect x="427" y="1095.9" width="31.4" height="21.5" fill="#f2d87f" />
<rect x="332.2" y="1000.9" width="62.8" height="109.3" fill="#e4d49c" />
<rect x="346.6" y="966.8" width="10.7" height="50.2" fill="#f2d87f" rx="2"/>
<rect x="371.7" y="966.8" width="8.9" height="50.2" fill="#f2d87f" rx="2"/>
<rect x="346.6" y="1095" width="10.7" height="57.2" fill="#f2d87f" rx="2"/>
<rect x="370.5" y="1095" width="9" height="57.2" fill="#f2d87f" rx="2"/>
<rect x="384.2" y="1133.5" width="62.8" height="7.2" fill="#ffffff" />
<polyline points="293.9,927.4 358,931 396.8,936.3 431.5,943.9 449.8,948.5 510.4,993 556.3,1057.5 602.9,1151.8 629.1,1196.3" fill="none" stroke="#e8363c" stroke-width="1.8"  stroke-linejoin="round"/>
<polyline points="293.9,1191.6 358,1184.4 396.8,1179.4 431.5,1172.3 449.8,1172.3 510.4,1138.9 556.3,1101.3 602.9,966.8 629.1,947.1" fill="none" stroke="#3356b0" stroke-width="1.8"  stroke-linejoin="round"/>
<circle cx="293.9" cy="927.4" r="4.6" fill="#e8363c" />
<circle cx="358" cy="931" r="4.6" fill="#e8363c" />
<circle cx="396.8" cy="936.3" r="4.6" fill="#e8363c" />
<circle cx="431.5" cy="943.9" r="4.6" fill="#e8363c" />
<circle cx="449.8" cy="948.5" r="4.6" fill="#e8363c" />
<circle cx="510.4" cy="993" r="4.6" fill="#e8363c" />
<circle cx="556.3" cy="1057.5" r="4.6" fill="#e8363c" />
<circle cx="602.9" cy="1151.8" r="4.6" fill="#e8363c" />
<circle cx="629.1" cy="1196.3" r="4.6" fill="#e8363c" />
<polygon points="293.9,1185.6 288.1,1195.8 299.7,1195.8" fill="#2a4aa0" />
<polygon points="358,1178.4 352.2,1188.6 363.8,1188.6" fill="#2a4aa0" />
<polygon points="396.8,1173.4 391,1183.6 402.6,1183.6" fill="#2a4aa0" />
<polygon points="431.5,1166.3 425.7,1176.5 437.3,1176.5" fill="#2a4aa0" />
<polygon points="449.8,1166.3 444,1176.5 455.6,1176.5" fill="#2a4aa0" />
<polygon points="510.4,1132.9 504.6,1143.1 516.2,1143.1" fill="#2a4aa0" />
<polygon points="556.3,1095.3 550.5,1105.5 562.1,1105.5" fill="#2a4aa0" />
<polygon points="602.9,960.8 597.1,971 608.7,971" fill="#2a4aa0" />
<polygon points="629.1,941.1 623.3,951.3 634.9,951.3" fill="#2a4aa0" />
<text x="777" y="918.6" font-size="43" fill="#111" font-family="'Liberation Serif', 'Times New Roman', serif" font-weight="bold">I</text>
<g clip-path="url(#clipI)" fill="none" stroke-linejoin="round">
<polyline points="852,1104 853.8,1104 855.5,1104 857.3,1104.1 859,1104.1 860.8,1104.2 862.5,1104.2 864.3,1104.2 866,1104.3 867.8,1104.3 869.6,1104.3 871.3,1104.3 873.1,1104.2 874.8,1104.1 876.6,1104 878.3,1103.9 880.1,1103.8 881.8,1103.8 883.6,1103.8 885.4,1103.9 887.1,1104.1 888.9,1104.3 890.6,1104.5 892.4,1104.7 894.1,1104.9 895.9,1105.1 897.6,1105.3 899.4,1105.4 901.1,1105.4 902.9,1105.4 904.7,1105.4 906.4,1105.4 908.2,1105.4 909.9,1105.5 911.7,1105.6 913.4,1105.7 915.2,1105.9 916.9,1106.1 918.7,1106.4 920.5,1106.6 922.2,1106.8 924,1107.1 925.7,1107.3 927.5,1107.4 929.2,1107.6 931,1107.6 932.7,1107.7 934.5,1107.6 936.3,1107.5 938,1107.3 939.8,1107 941.5,1106.8 943.3,1106.5 945,1106.2 946.8,1105.9 948.5,1105.7 950.3,1105.5 952.1,1105.4 953.8,1105.3 955.6,1105.3 957.3,1105.3 959.1,1105.4 960.8,1105.6 962.6,1105.8 964.3,1106 966.1,1106.1 967.9,1106.3 969.6,1106.4 971.4,1106.4 973.1,1106.4 974.9,1106.3 976.6,1106.2 978.4,1106 980.1,1105.8 981.9,1105.5 983.6,1105.2 985.4,1105 987.2,1104.7 988.9,1104.5 990.7,1104.3 992.4,1104.1 994.2,1104 995.9,1104 997.7,1104.1 999.4,1104.2 1001.2,1104.4 1003,1104.7 1004.7,1105 1006.5,1105.3 1008.2,1105.7 1010,1106 1011.7,1106.3 1013.5,1106.6 1015.2,1106.8 1017,1106.9 1018.8,1106.9 1020.5,1106.8 1022.3,1106.6 1024,1106.3 1025.8,1105.9 1027.5,1105.4 1029.3,1104.8 1031,1104.1 1032.8,1103.3 1034.6,1102.5 1036.3,1101.6 1038.1,1100.7 1039.8,1099.8 1041.6,1098.9 1043.3,1098.1 1045.1,1097.2 1046.8,1096.5 1048.6,1095.8 1050.4,1095.3 1052.1,1094.8 1053.9,1094.4 1055.6,1094.2 1057.4,1094 1059.1,1093.9 1060.9,1093.8 1062.6,1093.8 1064.4,1093.8 1066.2,1093.9 1067.9,1094 1069.7,1094.2 1071.4,1094.4 1073.2,1094.6 1074.9,1094.8 1076.7,1095.1 1078.4,1095.4 1080.2,1095.8 1081.9,1096.1 1083.7,1096.5 1085.5,1096.9 1087.2,1097.3 1089,1097.8 1090.7,1098.2 1092.5,1098.6 1094.2,1099.1 1096,1099.5 1097.7,1100 1099.5,1100.4 1101.3,1100.8 1103,1101.2 1104.8,1101.7 1106.5,1102 1108.3,1102.4 1110,1102.8 1111.8,1103.1 1113.5,1103.4 1115.3,1103.7 1117.1,1103.9 1118.8,1104.2 1120.6,1104.4 1122.3,1104.5 1124.1,1104.7 1125.8,1104.8 1127.6,1104.8 1129.3,1104.8 1131.1,1104.7 1132.9,1104.6 1134.6,1104.4 1136.4,1104.2 1138.1,1103.9 1139.9,1103.7 1141.6,1103.3 1143.4,1103 1145.1,1102.6 1146.9,1102.2 1148.7,1101.8 1150.4,1101.4 1152.2,1101 1153.9,1100.6 1155.7,1100.2 1157.4,1099.9 1159.2,1099.5 1160.9,1099.2 1162.7,1099 1164.4,1098.7 1166.2,1098.5 1168,1098.4 1169.7,1098.3 1171.5,1098.2 1173.2,1098.3 1175,1098.3 1176.7,1098.5 1178.5,1098.7 1180.2,1098.9 1182,1099.2 1183.8,1099.6 1185.5,1100.1 1187.3,1100.6 1189,1101.2 1190.8,1101.8 1192.5,1102.5 1194.3,1103.2 1196,1104 1197.8,1104.8 1199.6,1105.6 1201.3,1106.4 1203.1,1107.3 1204.8,1108.2 1206.6,1109 1208.3,1109.9 1210.1,1110.7 1211.8,1111.6 1213.6,1112.4 1215.4,1113.1 1217.1,1113.8 1218.9,1114.5 1220.6,1115.1 1222.4,1115.7 1224.1,1116.2 1225.9,1116.6 1227.6,1117 1229.4,1117.3 1231.2,1117.5 1232.9,1117.6 1234.7,1117.7 1236.4,1117.7 1238.2,1117.6 1239.9,1117.6 1241.7,1117.4 1243.4,1117.3 1245.2,1117 1246.9,1116.8 1248.7,1116.5 1250.5,1116.1 1252.2,1115.8 1254,1115.3 1255.7,1114.9 1257.5,1114.4 1259.2,1113.9 1261,1113.3 1262.7,1112.8 1264.5,1112.2 1266.3,1111.6 1268,1110.9 1269.8,1110.3 1271.5,1109.6 1273.3,1108.9 1275,1108.3 1276.8,1107.6 1278.5,1106.9 1280.3,1106.2 1282.1,1105.5 1283.8,1104.9 1285.6,1104.2 1287.3,1103.6 1289.1,1102.9 1290.8,1102.3 1292.6,1101.7 1294.3,1101.2 1296.1,1100.6 1297.9,1100.1 1299.6,1099.6 1301.4,1099.2 1303.1,1098.7 1304.9,1098.3 1306.6,1098 1308.4,1097.6 1310.1,1097.3 1311.9,1097.1 1313.7,1096.9 1315.4,1096.7 1317.2,1096.7 1318.9,1096.7 1320.7,1096.7 1322.4,1096.9 1324.2,1097.1 1325.9,1097.4 1327.7,1097.7 1329.5,1098.1 1331.2,1098.6 1333,1099.1 1334.7,1099.6 1336.5,1100.1 1338.2,1100.7 1340,1101.3 1341.7,1101.8 1343.5,1102.4 1345.2,1103 1347,1103.6 1348.8,1104.1 1350.5,1104.6 1352.3,1105.1 1354,1105.5 1355.8,1105.9 1357.5,1106.2 1359.3,1106.5 1361,1106.7 1362.8,1106.9 1364.6,1106.9 1366.3,1107 1368.1,1106.9 1369.8,1106.7 1371.6,1106.5 1373.3,1106.2 1375.1,1105.8 1376.8,1105.5 1378.6,1105.4" fill="none" stroke="#7a80c4" stroke-width="1.3" opacity="0.9" stroke-linejoin="round"/>
<polyline points="852,1104 853.8,1104 855.5,1104 857.3,1104.1 859,1104.1 860.8,1104.2 862.5,1104.2 864.3,1104.3 866,1104.3 867.8,1104.4 869.6,1104.4 871.3,1104.3 873.1,1104.2 874.8,1104 876.6,1103.8 878.3,1103.6 880.1,1103.5 881.8,1103.5 883.6,1103.5 885.4,1103.6 887.1,1103.7 888.9,1103.9 890.6,1104.2 892.4,1104.5 894.1,1104.7 895.9,1105 897.6,1105.1 899.4,1105.2 901.1,1105.3 902.9,1105.2 904.7,1105.2 906.4,1105.1 908.2,1105.1 909.9,1105.2 911.7,1105.3 913.4,1105.4 915.2,1105.6 916.9,1105.9 918.7,1106.2 920.5,1106.5 922.2,1106.8 924,1107 925.7,1107.3 927.5,1107.5 929.2,1107.6 931,1107.7 932.7,1107.7 934.5,1107.6 936.3,1107.4 938,1107.1 939.8,1106.7 941.5,1106.4 943.3,1105.9 945,1105.5 946.8,1105.1 948.5,1104.8 950.3,1104.5 952.1,1104.3 953.8,1104.2 955.6,1104.2 957.3,1104.3 959.1,1104.5 960.8,1104.7 962.6,1104.9 964.3,1105.2 966.1,1105.5 967.9,1105.7 969.6,1105.9 971.4,1106 973.1,1106 974.9,1105.9 976.6,1105.7 978.4,1105.5 980.1,1105.2 981.9,1104.9 983.6,1104.6 985.4,1104.3 987.2,1104 988.9,1103.7 990.7,1103.5 992.4,1103.4 994.2,1103.3 995.9,1103.3 997.7,1103.5 999.4,1103.8 1001.2,1104.1 1003,1104.6 1004.7,1105.1 1006.5,1105.7 1008.2,1106.2 1010,1106.8 1011.7,1107.3 1013.5,1107.7 1015.2,1108.1 1017,1108.3 1018.8,1108.5 1020.5,1108.5 1022.3,1108.3 1024,1108 1025.8,1107.6 1027.5,1106.9 1029.3,1106.2 1031,1105.4 1032.8,1104.4 1034.6,1103.4 1036.3,1102.3 1038.1,1101.1 1039.8,1100 1041.6,1098.9 1043.3,1097.8 1045.1,1096.8 1046.8,1095.8 1048.6,1095 1050.4,1094.3 1052.1,1093.8 1053.9,1093.4 1055.6,1093.1 1057.4,1093 1059.1,1092.9 1060.9,1092.9 1062.6,1092.9 1064.4,1093.1 1066.2,1093.2 1067.9,1093.4 1069.7,1093.7 1071.4,1094 1073.2,1094.4 1074.9,1094.8 1076.7,1095.2 1078.4,1095.6 1080.2,1096.1 1081.9,1096.7 1083.7,1097.2 1085.5,1097.8 1087.2,1098.3 1089,1098.9 1090.7,1099.5 1092.5,1100.1 1094.2,1100.7 1096,1101.3 1097.7,1101.9 1099.5,1102.5 1101.3,1103.1 1103,1103.6 1104.8,1104.1 1106.5,1104.6 1108.3,1105.1 1110,1105.5 1111.8,1105.9 1113.5,1106.3 1115.3,1106.6 1117.1,1106.9 1118.8,1107.2 1120.6,1107.4 1122.3,1107.5 1124.1,1107.6 1125.8,1107.7 1127.6,1107.6 1129.3,1107.5 1131.1,1107.3 1132.9,1107.1 1134.6,1106.7 1136.4,1106.3 1138.1,1105.9 1139.9,1105.4 1141.6,1104.8 1143.4,1104.2 1145.1,1103.6 1146.9,1103 1148.7,1102.3 1150.4,1101.6 1152.2,1101 1153.9,1100.3 1155.7,1099.6 1157.4,1099 1159.2,1098.4 1160.9,1097.9 1162.7,1097.4 1164.4,1096.9 1166.2,1096.5 1168,1096.2 1169.7,1096 1171.5,1095.8 1173.2,1095.7 1175,1095.7 1176.7,1095.7 1178.5,1095.9 1180.2,1096.1 1182,1096.4 1183.8,1096.8 1185.5,1097.3 1187.3,1097.9 1189,1098.6 1190.8,1099.4 1192.5,1100.2 1194.3,1101.1 1196,1102 1197.8,1103 1199.6,1104.1 1201.3,1105.2 1203.1,1106.3 1204.8,1107.4 1206.6,1108.5 1208.3,1109.6 1210.1,1110.7 1211.8,1111.7 1213.6,1112.7 1215.4,1113.7 1217.1,1114.6 1218.9,1115.5 1220.6,1116.3 1222.4,1117 1224.1,1117.6 1225.9,1118.2 1227.6,1118.6 1229.4,1119 1231.2,1119.2 1232.9,1119.4 1234.7,1119.4 1236.4,1119.4 1238.2,1119.3 1239.9,1119.2 1241.7,1119 1243.4,1118.8 1245.2,1118.5 1246.9,1118.1 1248.7,1117.7 1250.5,1117.2 1252.2,1116.7 1254,1116.1 1255.7,1115.5 1257.5,1114.9 1259.2,1114.2 1261,1113.5 1262.7,1112.7 1264.5,1112 1266.3,1111.2 1268,1110.3 1269.8,1109.5 1271.5,1108.6 1273.3,1107.8 1275,1106.9 1276.8,1106 1278.5,1105.2 1280.3,1104.3 1282.1,1103.5 1283.8,1102.6 1285.6,1101.8 1287.3,1101 1289.1,1100.2 1290.8,1099.5 1292.6,1098.7 1294.3,1098.1 1296.1,1097.4 1297.9,1096.8 1299.6,1096.2 1301.4,1095.7 1303.1,1095.2 1304.9,1094.8 1306.6,1094.4 1308.4,1094.1 1310.1,1093.8 1311.9,1093.5 1313.7,1093.4 1315.4,1093.3 1317.2,1093.3 1318.9,1093.4 1320.7,1093.7 1322.4,1094 1324.2,1094.4 1325.9,1094.9 1327.7,1095.5 1329.5,1096.2 1331.2,1096.9 1333,1097.7 1334.7,1098.6 1336.5,1099.4 1338.2,1100.3 1340,1101.3 1341.7,1102.2 1343.5,1103.1 1345.2,1104 1347,1104.9 1348.8,1105.8 1350.5,1106.6 1352.3,1107.3 1354,1108 1355.8,1108.7 1357.5,1109.2 1359.3,1109.7 1361,1110.1 1362.8,1110.4 1364.6,1110.6 1366.3,1110.7 1368.1,1110.7 1369.8,1110.5 1371.6,1110.3 1373.3,1109.9 1375.1,1109.5 1376.8,1109.2 1378.6,1109" fill="none" stroke="#5a70c6" stroke-width="1.3" opacity="0.9" stroke-linejoin="round"/>
<polyline points="852,1104 853.8,1104 855.5,1104 857.3,1104.1 859,1104.2 860.8,1104.2 862.5,1104.3 864.3,1104.4 866,1104.4 867.8,1104.5 869.6,1104.4 871.3,1104.3 873.1,1104.1 874.8,1103.8 876.6,1103.6 878.3,1103.3 880.1,1103.1 881.8,1103 883.6,1103 885.4,1103.1 887.1,1103.3 888.9,1103.6 890.6,1103.9 892.4,1104.3 894.1,1104.6 895.9,1104.9 897.6,1105.2 899.4,1105.3 901.1,1105.3 902.9,1105.2 904.7,1105.1 906.4,1105 908.2,1105 909.9,1105 911.7,1105.1 913.4,1105.3 915.2,1105.5 916.9,1105.9 918.7,1106.3 920.5,1106.7 922.2,1107.1 924,1107.4 925.7,1107.8 927.5,1108 929.2,1108.2 931,1108.3 932.7,1108.3 934.5,1108.1 936.3,1107.8 938,1107.3 939.8,1106.8 941.5,1106.2 943.3,1105.6 945,1105 946.8,1104.4 948.5,1103.9 950.3,1103.5 952.1,1103.2 953.8,1103.1 955.6,1103.1 957.3,1103.2 959.1,1103.4 960.8,1103.8 962.6,1104.2 964.3,1104.6 966.1,1105 967.9,1105.3 969.6,1105.6 971.4,1105.7 973.1,1105.7 974.9,1105.6 976.6,1105.4 978.4,1105.2 980.1,1104.8 981.9,1104.4 983.6,1104 985.4,1103.6 987.2,1103.2 988.9,1102.9 990.7,1102.6 992.4,1102.4 994.2,1102.4 995.9,1102.5 997.7,1102.8 999.4,1103.2 1001.2,1103.8 1003,1104.6 1004.7,1105.4 1006.5,1106.3 1008.2,1107.2 1010,1108 1011.7,1108.9 1013.5,1109.6 1015.2,1110.2 1017,1110.6 1018.8,1110.9 1020.5,1110.9 1022.3,1110.8 1024,1110.4 1025.8,1109.9 1027.5,1109.1 1029.3,1108.1 1031,1106.9 1032.8,1105.6 1034.6,1104.2 1036.3,1102.7 1038.1,1101.2 1039.8,1099.6 1041.6,1098.1 1043.3,1096.6 1045.1,1095.2 1046.8,1093.9 1048.6,1092.8 1050.4,1091.9 1052.1,1091.2 1053.9,1090.7 1055.6,1090.4 1057.4,1090.3 1059.1,1090.3 1060.9,1090.3 1062.6,1090.4 1064.4,1090.7 1066.2,1091 1067.9,1091.3 1069.7,1091.7 1071.4,1092.2 1073.2,1092.8 1074.9,1093.4 1076.7,1094 1078.4,1094.7 1080.2,1095.4 1081.9,1096.2 1083.7,1097 1085.5,1097.8 1087.2,1098.7 1089,1099.5 1090.7,1100.4 1092.5,1101.2 1094.2,1102.1 1096,1102.9 1097.7,1103.8 1099.5,1104.6 1101.3,1105.4 1103,1106.2 1104.8,1106.9 1106.5,1107.6 1108.3,1108.2 1110,1108.8 1111.8,1109.3 1113.5,1109.8 1115.3,1110.2 1117.1,1110.6 1118.8,1110.9 1120.6,1111.2 1122.3,1111.3 1124.1,1111.4 1125.8,1111.4 1127.6,1111.3 1129.3,1111.1 1131.1,1110.7 1132.9,1110.3 1134.6,1109.7 1136.4,1109 1138.1,1108.3 1139.9,1107.5 1141.6,1106.6 1143.4,1105.7 1145.1,1104.7 1146.9,1103.6 1148.7,1102.6 1150.4,1101.5 1152.2,1100.4 1153.9,1099.4 1155.7,1098.4 1157.4,1097.4 1159.2,1096.4 1160.9,1095.5 1162.7,1094.7 1164.4,1093.9 1166.2,1093.3 1168,1092.7 1169.7,1092.2 1171.5,1091.9 1173.2,1091.6 1175,1091.5 1176.7,1091.5 1178.5,1091.6 1180.2,1091.8 1182,1092.2 1183.8,1092.7 1185.5,1093.4 1187.3,1094.1 1189,1095 1190.8,1096 1192.5,1097.1 1194.3,1098.3 1196,1099.6 1197.8,1101 1199.6,1102.4 1201.3,1103.9 1203.1,1105.4 1204.8,1106.9 1206.6,1108.5 1208.3,1110 1210.1,1111.5 1211.8,1113 1213.6,1114.4 1215.4,1115.7 1217.1,1117 1218.9,1118.2 1220.6,1119.3 1222.4,1120.3 1224.1,1121.2 1225.9,1121.9 1227.6,1122.5 1229.4,1123 1231.2,1123.3 1232.9,1123.5 1234.7,1123.6 1236.4,1123.5 1238.2,1123.4 1239.9,1123.2 1241.7,1122.9 1243.4,1122.5 1245.2,1122.1 1246.9,1121.6 1248.7,1121 1250.5,1120.3 1252.2,1119.6 1254,1118.8 1255.7,1117.9 1257.5,1117 1259.2,1116 1261,1115 1262.7,1114 1264.5,1112.9 1266.3,1111.8 1268,1110.6 1269.8,1109.4 1271.5,1108.2 1273.3,1107 1275,1105.8 1276.8,1104.6 1278.5,1103.4 1280.3,1102.2 1282.1,1101.1 1283.8,1099.9 1285.6,1098.8 1287.3,1097.7 1289.1,1096.6 1290.8,1095.6 1292.6,1094.7 1294.3,1093.8 1296.1,1092.9 1297.9,1092.1 1299.6,1091.3 1301.4,1090.7 1303.1,1090.1 1304.9,1089.5 1306.6,1089.1 1308.4,1088.7 1310.1,1088.3 1311.9,1088.1 1313.7,1087.9 1315.4,1087.9 1317.2,1088.1 1318.9,1088.4 1320.7,1088.8 1322.4,1089.4 1324.2,1090.1 1325.9,1090.9 1327.7,1091.9 1329.5,1093 1331.2,1094.1 1333,1095.4 1334.7,1096.7 1336.5,1098 1338.2,1099.4 1340,1100.9 1341.7,1102.3 1343.5,1103.7 1345.2,1105.1 1347,1106.5 1348.8,1107.8 1350.5,1109.1 1352.3,1110.3 1354,1111.4 1355.8,1112.4 1357.5,1113.3 1359.3,1114 1361,1114.7 1362.8,1115.2 1364.6,1115.5 1366.3,1115.7 1368.1,1115.8 1369.8,1115.7 1371.6,1115.4 1373.3,1114.9 1375.1,1114.3 1376.8,1113.9 1378.6,1113.7" fill="none" stroke="#6a8ad6" stroke-width="1.3" opacity="0.9" stroke-linejoin="round"/>
<polyline points="852,1104 853.8,1104 855.5,1104.1 857.3,1104.1 859,1104.2 860.8,1104.3 862.5,1104.4 864.3,1104.5 866,1104.5 867.8,1104.6 869.6,1104.5 871.3,1104.3 873.1,1104.1 874.8,1103.7 876.6,1103.3 878.3,1103 880.1,1102.7 881.8,1102.5 883.6,1102.5 885.4,1102.6 887.1,1102.8 888.9,1103.2 890.6,1103.6 892.4,1104.1 894.1,1104.5 895.9,1104.9 897.6,1105.1 899.4,1105.3 901.1,1105.2 902.9,1105.1 904.7,1105 906.4,1104.8 908.2,1104.7 909.9,1104.7 911.7,1104.8 913.4,1105.1 915.2,1105.4 916.9,1105.8 918.7,1106.3 920.5,1106.8 922.2,1107.3 924,1107.8 925.7,1108.2 927.5,1108.5 929.2,1108.7 931,1108.8 932.7,1108.8 934.5,1108.5 936.3,1108.1 938,1107.5 939.8,1106.8 941.5,1106 943.3,1105.2 945,1104.4 946.8,1103.6 948.5,1103 950.3,1102.4 952.1,1102.1 953.8,1101.9 955.6,1101.9 957.3,1102 959.1,1102.3 960.8,1102.8 962.6,1103.3 964.3,1103.8 966.1,1104.4 967.9,1104.8 969.6,1105.2 971.4,1105.4 973.1,1105.4 974.9,1105.3 976.6,1105.1 978.4,1104.8 980.1,1104.3 981.9,1103.8 983.6,1103.3 985.4,1102.8 987.2,1102.3 988.9,1101.9 990.7,1101.6 992.4,1101.4 994.2,1101.4 995.9,1101.6 997.7,1102 999.4,1102.7 1001.2,1103.5 1003,1104.5 1004.7,1105.7 1006.5,1106.9 1008.2,1108.1 1010,1109.3 1011.7,1110.4 1013.5,1111.4 1015.2,1112.2 1017,1112.9 1018.8,1113.3 1020.5,1113.4 1022.3,1113.3 1024,1112.9 1025.8,1112.2 1027.5,1111.3 1029.3,1110.1 1031,1108.6 1032.8,1107 1034.6,1105.2 1036.3,1103.3 1038.1,1101.3 1039.8,1099.3 1041.6,1097.4 1043.3,1095.5 1045.1,1093.8 1046.8,1092.2 1048.6,1090.8 1050.4,1089.7 1052.1,1088.8 1053.9,1088.2 1055.6,1087.9 1057.4,1087.8 1059.1,1087.8 1060.9,1087.9 1062.6,1088.1 1064.4,1088.5 1066.2,1088.9 1067.9,1089.4 1069.7,1090 1071.4,1090.6 1073.2,1091.4 1074.9,1092.2 1076.7,1093 1078.4,1093.9 1080.2,1094.9 1081.9,1095.9 1083.7,1097 1085.5,1098.1 1087.2,1099.2 1089,1100.3 1090.7,1101.4 1092.5,1102.6 1094.2,1103.7 1096,1104.8 1097.7,1105.9 1099.5,1106.9 1101.3,1107.9 1103,1108.9 1104.8,1109.8 1106.5,1110.7 1108.3,1111.5 1110,1112.3 1111.8,1112.9 1113.5,1113.5 1115.3,1114.1 1117.1,1114.5 1118.8,1114.9 1120.6,1115.1 1122.3,1115.3 1124.1,1115.4 1125.8,1115.3 1127.6,1115.1 1129.3,1114.8 1131.1,1114.2 1132.9,1113.6 1134.6,1112.8 1136.4,1111.9 1138.1,1110.8 1139.9,1109.7 1141.6,1108.5 1143.4,1107.2 1145.1,1105.8 1146.9,1104.4 1148.7,1102.9 1150.4,1101.5 1152.2,1100 1153.9,1098.6 1155.7,1097.1 1157.4,1095.7 1159.2,1094.4 1160.9,1093.2 1162.7,1092 1164.4,1091 1166.2,1090 1168,1089.2 1169.7,1088.5 1171.5,1087.9 1173.2,1087.5 1175,1087.3 1176.7,1087.2 1178.5,1087.3 1180.2,1087.5 1182,1087.9 1183.8,1088.5 1185.5,1089.3 1187.3,1090.2 1189,1091.3 1190.8,1092.6 1192.5,1094 1194.3,1095.5 1196,1097.1 1197.8,1098.8 1199.6,1100.6 1201.3,1102.5 1203.1,1104.4 1204.8,1106.4 1206.6,1108.3 1208.3,1110.3 1210.1,1112.2 1211.8,1114.1 1213.6,1115.9 1215.4,1117.6 1217.1,1119.2 1218.9,1120.8 1220.6,1122.1 1222.4,1123.4 1224.1,1124.5 1225.9,1125.5 1227.6,1126.2 1229.4,1126.8 1231.2,1127.2 1232.9,1127.5 1234.7,1127.5 1236.4,1127.4 1238.2,1127.3 1239.9,1127 1241.7,1126.6 1243.4,1126.1 1245.2,1125.5 1246.9,1124.8 1248.7,1124.1 1250.5,1123.2 1252.2,1122.2 1254,1121.2 1255.7,1120.1 1257.5,1118.9 1259.2,1117.7 1261,1116.4 1262.7,1115 1264.5,1113.6 1266.3,1112.1 1268,1110.7 1269.8,1109.2 1271.5,1107.6 1273.3,1106.1 1275,1104.6 1276.8,1103 1278.5,1101.5 1280.3,1100 1282.1,1098.5 1283.8,1097 1285.6,1095.6 1287.3,1094.3 1289.1,1092.9 1290.8,1091.7 1292.6,1090.5 1294.3,1089.3 1296.1,1088.3 1297.9,1087.3 1299.6,1086.4 1301.4,1085.6 1303.1,1084.8 1304.9,1084.2 1306.6,1083.6 1308.4,1083.2 1310.1,1082.9 1311.9,1082.6 1313.7,1082.5 1315.4,1082.5 1317.2,1082.8 1318.9,1083.2 1320.7,1083.9 1322.4,1084.7 1324.2,1085.7 1325.9,1086.9 1327.7,1088.3 1329.5,1089.7 1331.2,1091.3 1333,1093 1334.7,1094.8 1336.5,1096.7 1338.2,1098.6 1340,1100.5 1341.7,1102.5 1343.5,1104.4 1345.2,1106.3 1347,1108.2 1348.8,1110 1350.5,1111.8 1352.3,1113.4 1354,1114.9 1355.8,1116.3 1357.5,1117.5 1359.3,1118.5 1361,1119.4 1362.8,1120.1 1364.6,1120.7 1366.3,1121 1368.1,1121.1 1369.8,1121 1371.6,1120.6 1373.3,1120 1375.1,1119.4 1376.8,1118.8 1378.6,1118.6" fill="none" stroke="#86c6ee" stroke-width="1.3" opacity="0.9" stroke-linejoin="round"/>
<polyline points="852,1104 853.8,1104 855.5,1104.1 857.3,1104.2 859,1104.3 860.8,1104.5 862.5,1104.6 864.3,1104.7 866,1104.8 867.8,1104.8 869.6,1104.7 871.3,1104.3 873.1,1103.8 874.8,1103.1 876.6,1102.4 878.3,1101.7 880.1,1101.1 881.8,1100.8 883.6,1100.6 885.4,1100.8 887.1,1101.1 888.9,1101.7 890.6,1102.4 892.4,1103.1 894.1,1103.8 895.9,1104.3 897.6,1104.7 899.4,1104.8 901.1,1104.7 902.9,1104.5 904.7,1104.1 906.4,1103.7 908.2,1103.5 909.9,1103.4 911.7,1103.5 913.4,1103.8 915.2,1104.3 916.9,1104.9 918.7,1105.7 920.5,1106.5 922.2,1107.3 924,1108.1 925.7,1108.8 927.5,1109.3 929.2,1109.6 931,1109.7 932.7,1109.5 934.5,1109 936.3,1108.2 938,1107.1 939.8,1105.8 941.5,1104.4 943.3,1102.9 945,1101.4 946.8,1100.1 948.5,1098.9 950.3,1097.9 952.1,1097.2 953.8,1096.9 955.6,1096.9 957.3,1097.2 959.1,1097.8 960.8,1098.5 962.6,1099.5 964.3,1100.5 966.1,1101.4 967.9,1102.3 969.6,1103 971.4,1103.4 973.1,1103.6 974.9,1103.5 976.6,1103.1 978.4,1102.6 980.1,1102 981.9,1101.2 983.6,1100.4 985.4,1099.6 987.2,1098.9 988.9,1098.3 990.7,1097.9 992.4,1097.7 994.2,1097.8 995.9,1098.3 997.7,1099.2 999.4,1100.5 1001.2,1102.2 1003,1104.2 1004.7,1106.4 1006.5,1108.7 1008.2,1111.1 1010,1113.4 1011.7,1115.6 1013.5,1117.5 1015.2,1119.2 1017,1120.6 1018.8,1121.5 1020.5,1122 1022.3,1122 1024,1121.6 1025.8,1120.6 1027.5,1119.1 1029.3,1117.2 1031,1114.8 1032.8,1112.2 1034.6,1109.2 1036.3,1106.1 1038.1,1102.8 1039.8,1099.6 1041.6,1096.3 1043.3,1093.2 1045.1,1090.4 1046.8,1087.8 1048.6,1085.6 1050.4,1083.8 1052.1,1082.5 1053.9,1081.6 1055.6,1081.3 1057.4,1081.4 1059.1,1081.6 1060.9,1082 1062.6,1082.5 1064.4,1083.2 1066.2,1084.1 1067.9,1085.1 1069.7,1086.2 1071.4,1087.5 1073.2,1088.9 1074.9,1090.4 1076.7,1092 1078.4,1093.7 1080.2,1095.4 1081.9,1097.3 1083.7,1099.2 1085.5,1101.1 1087.2,1103.1 1089,1105.1 1090.7,1107.1 1092.5,1109.1 1094.2,1111 1096,1113 1097.7,1114.8 1099.5,1116.6 1101.3,1118.4 1103,1120 1104.8,1121.6 1106.5,1123.1 1108.3,1124.4 1110,1125.6 1111.8,1126.7 1113.5,1127.6 1115.3,1128.4 1117.1,1129.1 1118.8,1129.6 1120.6,1129.9 1122.3,1130 1124.1,1130 1125.8,1129.7 1127.6,1129.2 1129.3,1128.3 1131.1,1127.2 1132.9,1125.9 1134.6,1124.2 1136.4,1122.4 1138.1,1120.4 1139.9,1118.1 1141.6,1115.7 1143.4,1113.2 1145.1,1110.5 1146.9,1107.8 1148.7,1104.9 1150.4,1102.1 1152.2,1099.2 1153.9,1096.4 1155.7,1093.6 1157.4,1090.9 1159.2,1088.3 1160.9,1085.8 1162.7,1083.5 1164.4,1081.3 1166.2,1079.4 1168,1077.7 1169.7,1076.2 1171.5,1074.9 1173.2,1074 1175,1073.2 1176.7,1072.8 1178.5,1072.7 1180.2,1072.8 1182,1073.3 1183.8,1074.1 1185.5,1075.3 1187.3,1076.7 1189,1078.4 1190.8,1080.4 1192.5,1082.6 1194.3,1085 1196,1087.7 1197.8,1090.5 1199.6,1093.5 1201.3,1096.6 1203.1,1099.8 1204.8,1103 1206.6,1106.3 1208.3,1109.5 1210.1,1112.8 1211.8,1115.9 1213.6,1119 1215.4,1121.9 1217.1,1124.6 1218.9,1127.2 1220.6,1129.5 1222.4,1131.6 1224.1,1133.5 1225.9,1135 1227.6,1136.3 1229.4,1137.3 1231.2,1137.9 1232.9,1138.2 1234.7,1138.2 1236.4,1138.1 1238.2,1137.7 1239.9,1137.2 1241.7,1136.4 1243.4,1135.6 1245.2,1134.5 1246.9,1133.3 1248.7,1131.9 1250.5,1130.4 1252.2,1128.7 1254,1126.9 1255.7,1125 1257.5,1123 1259.2,1120.8 1261,1118.6 1262.7,1116.3 1264.5,1113.9 1266.3,1111.4 1268,1108.9 1269.8,1106.3 1271.5,1103.8 1273.3,1101.2 1275,1098.6 1276.8,1096 1278.5,1093.4 1280.3,1090.9 1282.1,1088.5 1283.8,1086.1 1285.6,1083.7 1287.3,1081.5 1289.1,1079.4 1290.8,1077.3 1292.6,1075.4 1294.3,1073.6 1296.1,1071.9 1297.9,1070.4 1299.6,1069 1301.4,1067.8 1303.1,1066.8 1304.9,1065.9 1306.6,1065.2 1308.4,1064.6 1310.1,1064.3 1311.9,1064.1 1313.7,1064.1 1315.4,1064.5 1317.2,1065.2 1318.9,1066.3 1320.7,1067.7 1322.4,1069.4 1324.2,1071.5 1325.9,1073.9 1327.7,1076.5 1329.5,1079.4 1331.2,1082.4 1333,1085.7 1334.7,1089.2 1336.5,1092.7 1338.2,1096.4 1340,1100.1 1341.7,1103.8 1343.5,1107.5 1345.2,1111.1 1347,1114.7 1348.8,1118.2 1350.5,1121.5 1352.3,1124.6 1354,1127.5 1355.8,1130.1 1357.5,1132.5 1359.3,1134.6 1361,1136.4 1362.8,1137.8 1364.6,1138.9 1366.3,1139.7 1368.1,1140.1 1369.8,1140.1 1371.6,1139.6 1373.3,1138.7 1375.1,1137.7 1376.8,1136.9 1378.6,1136.6" fill="none" stroke="#90c488" stroke-width="1.3" opacity="0.9" stroke-linejoin="round"/>
<polyline points="852,1104 853.8,1104 855.5,1104.1 857.3,1104.3 859,1104.5 860.8,1104.7 862.5,1104.9 864.3,1105.1 866,1105.2 867.8,1105.2 869.6,1105 871.3,1104.5 873.1,1103.7 874.8,1102.7 876.6,1101.7 878.3,1100.7 880.1,1099.9 881.8,1099.4 883.6,1099.2 885.4,1099.4 887.1,1099.9 888.9,1100.7 890.6,1101.7 892.4,1102.7 894.1,1103.7 895.9,1104.5 897.6,1105 899.4,1105.2 901.1,1105.1 902.9,1104.7 904.7,1104.2 906.4,1103.6 908.2,1103.2 909.9,1103.1 911.7,1103.3 913.4,1103.7 915.2,1104.4 916.9,1105.4 918.7,1106.4 920.5,1107.6 922.2,1108.8 924,1109.9 925.7,1110.8 927.5,1111.5 929.2,1112 931,1112.1 932.7,1111.9 934.5,1111.1 936.3,1110 938,1108.4 939.8,1106.6 941.5,1104.5 943.3,1102.4 945,1100.3 946.8,1098.4 948.5,1096.7 950.3,1095.3 952.1,1094.3 953.8,1093.8 955.6,1093.8 957.3,1094.3 959.1,1095.1 960.8,1096.2 962.6,1097.5 964.3,1098.9 966.1,1100.3 967.9,1101.6 969.6,1102.6 971.4,1103.2 973.1,1103.4 974.9,1103.2 976.6,1102.8 978.4,1102 980.1,1101.1 981.9,1100 983.6,1098.8 985.4,1097.7 987.2,1096.7 988.9,1095.9 990.7,1095.3 992.4,1095 994.2,1095.1 995.9,1095.8 997.7,1097.1 999.4,1099.1 1001.2,1101.5 1003,1104.3 1004.7,1107.4 1006.5,1110.7 1008.2,1114.1 1010,1117.4 1011.7,1120.6 1013.5,1123.4 1015.2,1125.8 1017,1127.7 1018.8,1129 1020.5,1129.7 1022.3,1129.8 1024,1129.1 1025.8,1127.7 1027.5,1125.6 1029.3,1122.8 1031,1119.5 1032.8,1115.7 1034.6,1111.5 1036.3,1107 1038.1,1102.3 1039.8,1097.6 1041.6,1093 1043.3,1088.6 1045.1,1084.5 1046.8,1080.8 1048.6,1077.7 1050.4,1075.1 1052.1,1073.2 1053.9,1072 1055.6,1071.5 1057.4,1071.6 1059.1,1071.9 1060.9,1072.5 1062.6,1073.3 1064.4,1074.3 1066.2,1075.5 1067.9,1076.9 1069.7,1078.6 1071.4,1080.4 1073.2,1082.3 1074.9,1084.5 1076.7,1086.8 1078.4,1089.2 1080.2,1091.7 1081.9,1094.4 1083.7,1097.1 1085.5,1099.9 1087.2,1102.7 1089,1105.5 1090.7,1108.4 1092.5,1111.2 1094.2,1114.1 1096,1116.8 1097.7,1119.5 1099.5,1122.1 1101.3,1124.6 1103,1127 1104.8,1129.2 1106.5,1131.3 1108.3,1133.2 1110,1134.9 1111.8,1136.5 1113.5,1137.8 1115.3,1139 1117.1,1139.9 1118.8,1140.6 1120.6,1141 1122.3,1141.3 1124.1,1141.2 1125.8,1140.8 1127.6,1140 1129.3,1138.8 1131.1,1137.2 1132.9,1135.3 1134.6,1133 1136.4,1130.3 1138.1,1127.4 1139.9,1124.2 1141.6,1120.8 1143.4,1117.1 1145.1,1113.3 1146.9,1109.4 1148.7,1105.3 1150.4,1101.3 1152.2,1097.2 1153.9,1093.1 1155.7,1089.1 1157.4,1085.2 1159.2,1081.5 1160.9,1078 1162.7,1074.6 1164.4,1071.6 1166.2,1068.8 1168,1066.3 1169.7,1064.2 1171.5,1062.4 1173.2,1061 1175,1060 1176.7,1059.4 1178.5,1059.2 1180.2,1059.4 1182,1060.1 1183.8,1061.3 1185.5,1062.9 1187.3,1064.9 1189,1067.3 1190.8,1070.2 1192.5,1073.3 1194.3,1076.9 1196,1080.6 1197.8,1084.7 1199.6,1089 1201.3,1093.4 1203.1,1098 1204.8,1102.6 1206.6,1107.3 1208.3,1111.9 1210.1,1116.5 1211.8,1121 1213.6,1125.4 1215.4,1129.6 1217.1,1133.5 1218.9,1137.2 1220.6,1140.5 1222.4,1143.5 1224.1,1146.1 1225.9,1148.4 1227.6,1150.2 1229.4,1151.6 1231.2,1152.5 1232.9,1153 1234.7,1153 1236.4,1152.7 1238.2,1152.2 1239.9,1151.4 1241.7,1150.4 1243.4,1149.2 1245.2,1147.7 1246.9,1145.9 1248.7,1143.9 1250.5,1141.8 1252.2,1139.4 1254,1136.8 1255.7,1134.1 1257.5,1131.1 1259.2,1128.1 1261,1124.9 1262.7,1121.5 1264.5,1118.1 1266.3,1114.6 1268,1111 1269.8,1107.3 1271.5,1103.6 1273.3,1099.9 1275,1096.2 1276.8,1092.6 1278.5,1088.9 1280.3,1085.3 1282.1,1081.8 1283.8,1078.3 1285.6,1075 1287.3,1071.8 1289.1,1068.7 1290.8,1065.8 1292.6,1063.1 1294.3,1060.5 1296.1,1058.1 1297.9,1055.9 1299.6,1054 1301.4,1052.2 1303.1,1050.7 1304.9,1049.5 1306.6,1048.4 1308.4,1047.7 1310.1,1047.1 1311.9,1046.9 1313.7,1046.9 1315.4,1047.4 1317.2,1048.5 1318.9,1050 1320.7,1052 1322.4,1054.6 1324.2,1057.5 1325.9,1060.9 1327.7,1064.6 1329.5,1068.7 1331.2,1073.2 1333,1077.8 1334.7,1082.8 1336.5,1087.8 1338.2,1093.1 1340,1098.4 1341.7,1103.7 1343.5,1109 1345.2,1114.2 1347,1119.3 1348.8,1124.3 1350.5,1129 1352.3,1133.4 1354,1137.6 1355.8,1141.4 1357.5,1144.8 1359.3,1147.8 1361,1150.3 1362.8,1152.4 1364.6,1154 1366.3,1155.1 1368.1,1155.6 1369.8,1155.7 1371.6,1154.9 1373.3,1153.6 1375.1,1152.2 1376.8,1151 1378.6,1150.6" fill="none" stroke="#98c46c" stroke-width="1.3" opacity="0.9" stroke-linejoin="round"/>
<polyline points="852,1104 853.8,1104 855.5,1104.2 857.3,1104.4 859,1104.6 860.8,1104.9 862.5,1105.1 864.3,1105.3 866,1105.5 867.8,1105.5 869.6,1105.3 871.3,1104.6 873.1,1103.6 874.8,1102.4 876.6,1101.1 878.3,1099.8 880.1,1098.8 881.8,1098.1 883.6,1097.9 885.4,1098.1 887.1,1098.8 888.9,1099.8 890.6,1101.1 892.4,1102.4 894.1,1103.6 895.9,1104.6 897.6,1105.3 899.4,1105.5 901.1,1105.3 902.9,1104.9 904.7,1104.2 906.4,1103.5 908.2,1103 909.9,1102.9 911.7,1103.1 913.4,1103.6 915.2,1104.5 916.9,1105.7 918.7,1107.1 920.5,1108.6 922.2,1110 924,1111.4 925.7,1112.6 927.5,1113.5 929.2,1114.1 931,1114.3 932.7,1114 934.5,1113 936.3,1111.6 938,1109.6 939.8,1107.3 941.5,1104.7 943.3,1102 945,1099.3 946.8,1096.9 948.5,1094.7 950.3,1093 952.1,1091.8 953.8,1091.1 955.6,1091.1 957.3,1091.7 959.1,1092.7 960.8,1094.1 962.6,1095.8 964.3,1097.6 966.1,1099.4 967.9,1100.9 969.6,1102.2 971.4,1103 973.1,1103.2 974.9,1103 976.6,1102.5 978.4,1101.5 980.1,1100.3 981.9,1098.9 983.6,1097.5 985.4,1096 987.2,1094.8 988.9,1093.7 990.7,1093 992.4,1092.6 994.2,1092.7 995.9,1093.6 997.7,1095.3 999.4,1097.7 1001.2,1100.8 1003,1104.4 1004.7,1108.3 1006.5,1112.5 1008.2,1116.8 1010,1121 1011.7,1124.9 1013.5,1128.5 1015.2,1131.6 1017,1134 1018.8,1135.7 1020.5,1136.6 1022.3,1136.6 1024,1135.8 1025.8,1134 1027.5,1131.3 1029.3,1127.8 1031,1123.6 1032.8,1118.8 1034.6,1113.5 1036.3,1107.8 1038.1,1101.9 1039.8,1096 1041.6,1090.1 1043.3,1084.5 1045.1,1079.3 1046.8,1074.7 1048.6,1070.7 1050.4,1067.4 1052.1,1065 1053.9,1063.5 1055.6,1062.9 1057.4,1063 1059.1,1063.4 1060.9,1064.1 1062.6,1065.1 1064.4,1066.4 1066.2,1067.9 1067.9,1069.8 1069.7,1071.8 1071.4,1074.1 1073.2,1076.6 1074.9,1079.3 1076.7,1082.2 1078.4,1085.3 1080.2,1088.5 1081.9,1091.8 1083.7,1095.3 1085.5,1098.8 1087.2,1102.4 1089,1106 1090.7,1109.6 1092.5,1113.2 1094.2,1116.7 1096,1120.2 1097.7,1123.6 1099.5,1126.9 1101.3,1130 1103,1133 1104.8,1135.9 1106.5,1138.5 1108.3,1140.9 1110,1143.1 1111.8,1145.1 1113.5,1146.8 1115.3,1148.2 1117.1,1149.4 1118.8,1150.3 1120.6,1150.9 1122.3,1151.1 1124.1,1151.1 1125.8,1150.6 1127.6,1149.6 1129.3,1148.1 1131.1,1146 1132.9,1143.6 1134.6,1140.6 1136.4,1137.3 1138.1,1133.6 1139.9,1129.6 1141.6,1125.2 1143.4,1120.6 1145.1,1115.8 1146.9,1110.8 1148.7,1105.7 1150.4,1100.5 1152.2,1095.4 1153.9,1090.2 1155.7,1085.2 1157.4,1080.3 1159.2,1075.5 1160.9,1071.1 1162.7,1066.9 1164.4,1063 1166.2,1059.5 1168,1056.3 1169.7,1053.6 1171.5,1051.4 1173.2,1049.6 1175,1048.3 1176.7,1047.6 1178.5,1047.3 1180.2,1047.6 1182,1048.5 1183.8,1049.9 1185.5,1052 1187.3,1054.5 1189,1057.6 1190.8,1061.2 1192.5,1065.2 1194.3,1069.7 1196,1074.5 1197.8,1079.6 1199.6,1085 1201.3,1090.6 1203.1,1096.4 1204.8,1102.2 1206.6,1108.1 1208.3,1114 1210.1,1119.9 1211.8,1125.6 1213.6,1131.1 1215.4,1136.3 1217.1,1141.3 1218.9,1145.9 1220.6,1150.2 1222.4,1154 1224.1,1157.3 1225.9,1160.1 1227.6,1162.4 1229.4,1164.2 1231.2,1165.4 1232.9,1166 1234.7,1166 1236.4,1165.7 1238.2,1165 1239.9,1164 1241.7,1162.7 1243.4,1161.1 1245.2,1159.2 1246.9,1157 1248.7,1154.5 1250.5,1151.8 1252.2,1148.8 1254,1145.5 1255.7,1142 1257.5,1138.3 1259.2,1134.5 1261,1130.4 1262.7,1126.2 1264.5,1121.8 1266.3,1117.4 1268,1112.8 1269.8,1108.2 1271.5,1103.5 1273.3,1098.9 1275,1094.2 1276.8,1089.5 1278.5,1084.9 1280.3,1080.3 1282.1,1075.9 1283.8,1071.5 1285.6,1067.3 1287.3,1063.3 1289.1,1059.4 1290.8,1055.7 1292.6,1052.2 1294.3,1049 1296.1,1045.9 1297.9,1043.2 1299.6,1040.7 1301.4,1038.5 1303.1,1036.6 1304.9,1035 1306.6,1033.7 1308.4,1032.7 1310.1,1032.1 1311.9,1031.7 1313.7,1031.8 1315.4,1032.4 1317.2,1033.7 1318.9,1035.7 1320.7,1038.3 1322.4,1041.4 1324.2,1045.2 1325.9,1049.4 1327.7,1054.2 1329.5,1059.4 1331.2,1065 1333,1070.9 1334.7,1077.1 1336.5,1083.6 1338.2,1090.2 1340,1096.9 1341.7,1103.6 1343.5,1110.3 1345.2,1116.9 1347,1123.4 1348.8,1129.6 1350.5,1135.6 1352.3,1141.2 1354,1146.5 1355.8,1151.3 1357.5,1155.6 1359.3,1159.4 1361,1162.6 1362.8,1165.2 1364.6,1167.2 1366.3,1168.6 1368.1,1169.3 1369.8,1169.4 1371.6,1168.4 1373.3,1166.8 1375.1,1164.9 1376.8,1163.5 1378.6,1163" fill="none" stroke="#b8d058" stroke-width="1.3" opacity="0.9" stroke-linejoin="round"/>
<polyline points="852,1104 853.8,1104.1 855.5,1104.3 857.3,1104.6 859,1104.9 860.8,1105.3 862.5,1105.7 864.3,1106 866,1106.2 867.8,1106.2 869.6,1105.9 871.3,1104.9 873.1,1103.4 874.8,1101.6 876.6,1099.7 878.3,1097.9 880.1,1096.4 881.8,1095.4 883.6,1095.1 885.4,1095.4 887.1,1096.4 888.9,1097.9 890.6,1099.7 892.4,1101.6 894.1,1103.4 895.9,1104.9 897.6,1105.9 899.4,1106.2 901.1,1106 902.9,1105.3 904.7,1104.3 906.4,1103.3 908.2,1102.6 909.9,1102.3 911.7,1102.6 913.4,1103.4 915.2,1104.8 916.9,1106.5 918.7,1108.5 920.5,1110.7 922.2,1112.8 924,1114.8 925.7,1116.6 927.5,1117.9 929.2,1118.7 931,1119 932.7,1118.6 934.5,1117.2 936.3,1115 938,1112.2 939.8,1108.8 941.5,1105 943.3,1101.1 945,1097.2 946.8,1093.6 948.5,1090.4 950.3,1087.9 952.1,1086.1 953.8,1085.2 955.6,1085.2 957.3,1086 959.1,1087.5 960.8,1089.5 962.6,1092 964.3,1094.7 966.1,1097.2 967.9,1099.5 969.6,1101.3 971.4,1102.5 973.1,1102.9 974.9,1102.6 976.6,1101.7 978.4,1100.4 980.1,1098.6 981.9,1096.6 983.6,1094.5 985.4,1092.4 987.2,1090.5 988.9,1089 990.7,1087.9 992.4,1087.4 994.2,1087.5 995.9,1088.9 997.7,1091.3 999.4,1094.9 1001.2,1099.3 1003,1104.5 1004.7,1110.3 1006.5,1116.5 1008.2,1122.7 1010,1128.8 1011.7,1134.6 1013.5,1139.8 1015.2,1144.3 1017,1147.8 1018.8,1150.3 1020.5,1151.6 1022.3,1151.7 1024,1150.5 1025.8,1147.9 1027.5,1143.9 1029.3,1138.8 1031,1132.7 1032.8,1125.6 1034.6,1117.8 1036.3,1109.5 1038.1,1100.9 1039.8,1092.2 1041.6,1083.7 1043.3,1075.5 1045.1,1068 1046.8,1061.1 1048.6,1055.3 1050.4,1050.5 1052.1,1047 1053.9,1044.8 1055.6,1043.9 1057.4,1044.1 1059.1,1044.7 1060.9,1045.7 1062.6,1047.2 1064.4,1049 1066.2,1051.3 1067.9,1053.9 1069.7,1056.9 1071.4,1060.3 1073.2,1064 1074.9,1067.9 1076.7,1072.2 1078.4,1076.6 1080.2,1081.3 1081.9,1086.2 1083.7,1091.2 1085.5,1096.4 1087.2,1101.6 1089,1106.9 1090.7,1112.1 1092.5,1117.4 1094.2,1122.6 1096,1127.7 1097.7,1132.7 1099.5,1137.5 1101.3,1142.1 1103,1146.5 1104.8,1150.6 1106.5,1154.4 1108.3,1158 1110,1161.2 1111.8,1164.1 1113.5,1166.6 1115.3,1168.7 1117.1,1170.3 1118.8,1171.6 1120.6,1172.5 1122.3,1172.9 1124.1,1172.9 1125.8,1172.1 1127.6,1170.6 1129.3,1168.4 1131.1,1165.5 1132.9,1161.8 1134.6,1157.6 1136.4,1152.7 1138.1,1147.3 1139.9,1141.4 1141.6,1135 1143.4,1128.3 1145.1,1121.2 1146.9,1113.9 1148.7,1106.5 1150.4,1098.9 1152.2,1091.4 1153.9,1083.9 1155.7,1076.5 1157.4,1069.3 1159.2,1062.4 1160.9,1055.9 1162.7,1049.7 1164.4,1044 1166.2,1038.9 1168,1034.3 1169.7,1030.4 1171.5,1027.1 1173.2,1024.5 1175,1022.6 1176.7,1021.5 1178.5,1021.1 1180.2,1021.6 1182,1022.8 1183.8,1025 1185.5,1027.9 1187.3,1031.7 1189,1036.2 1190.8,1041.4 1192.5,1047.3 1194.3,1053.8 1196,1060.8 1197.8,1068.3 1199.6,1076.2 1201.3,1084.4 1203.1,1092.8 1204.8,1101.4 1206.6,1110.1 1208.3,1118.7 1210.1,1127.2 1211.8,1135.5 1213.6,1143.6 1215.4,1151.3 1217.1,1158.5 1218.9,1165.3 1220.6,1171.5 1222.4,1177.1 1224.1,1181.9 1225.9,1186.1 1227.6,1189.4 1229.4,1192 1231.2,1193.7 1232.9,1194.6 1234.7,1194.6 1236.4,1194.1 1238.2,1193.2 1239.9,1191.8 1241.7,1189.9 1243.4,1187.5 1245.2,1184.7 1246.9,1181.5 1248.7,1177.9 1250.5,1173.9 1252.2,1169.5 1254,1164.7 1255.7,1159.6 1257.5,1154.2 1259.2,1148.5 1261,1142.6 1262.7,1136.4 1264.5,1130.1 1266.3,1123.6 1268,1116.9 1269.8,1110.2 1271.5,1103.3 1273.3,1096.5 1275,1089.6 1276.8,1082.8 1278.5,1076.1 1280.3,1069.4 1282.1,1062.9 1283.8,1056.6 1285.6,1050.4 1287.3,1044.5 1289.1,1038.8 1290.8,1033.4 1292.6,1028.3 1294.3,1023.5 1296.1,1019.1 1297.9,1015.1 1299.6,1011.5 1301.4,1008.2 1303.1,1005.5 1304.9,1003.1 1306.6,1001.2 1308.4,999.8 1310.1,998.9 1311.9,998.4 1313.7,998.4 1315.4,999.4 1317.2,1001.3 1318.9,1004.2 1320.7,1007.9 1322.4,1012.5 1324.2,1018 1325.9,1024.2 1327.7,1031.2 1329.5,1038.8 1331.2,1047 1333,1055.6 1334.7,1064.7 1336.5,1074.1 1338.2,1083.8 1340,1093.6 1341.7,1103.4 1343.5,1113.2 1345.2,1122.9 1347,1132.3 1348.8,1141.5 1350.5,1150.2 1352.3,1158.4 1354,1166.1 1355.8,1173.1 1357.5,1179.4 1359.3,1184.9 1361,1189.6 1362.8,1193.5 1364.6,1196.4 1366.3,1198.4 1368.1,1199.5 1369.8,1199.5 1371.6,1198.2 1373.3,1195.8 1375.1,1193.1 1376.8,1191 1378.6,1190.2" fill="none" stroke="#f3d040" stroke-width="1.3" opacity="0.9" stroke-linejoin="round"/>
<polyline points="852,1104 853.8,1104.1 855.5,1104.3 857.3,1104.7 859,1105.1 860.8,1105.6 862.5,1106 864.3,1106.4 866,1106.6 867.8,1106.7 869.6,1106.3 871.3,1105.1 873.1,1103.3 874.8,1101.1 876.6,1098.7 878.3,1096.5 880.1,1094.7 881.8,1093.5 883.6,1093.1 885.4,1093.5 887.1,1094.7 888.9,1096.5 890.6,1098.7 892.4,1101.1 894.1,1103.3 895.9,1105.1 897.6,1106.3 899.4,1106.7 901.1,1106.4 902.9,1105.5 904.7,1104.3 906.4,1103.1 908.2,1102.3 909.9,1102 911.7,1102.3 913.4,1103.3 915.2,1104.9 916.9,1107.1 918.7,1109.5 920.5,1112.2 922.2,1114.8 924,1117.3 925.7,1119.4 927.5,1121 929.2,1122 931,1122.4 932.7,1121.8 934.5,1120.2 936.3,1117.5 938,1114 939.8,1109.8 941.5,1105.2 943.3,1100.4 945,1095.7 946.8,1091.2 948.5,1087.4 950.3,1084.3 952.1,1082.1 953.8,1081 955.6,1081 957.3,1081.9 959.1,1083.7 960.8,1086.3 962.6,1089.3 964.3,1092.6 966.1,1095.7 967.9,1098.5 969.6,1100.7 971.4,1102.2 973.1,1102.6 974.9,1102.3 976.6,1101.2 978.4,1099.6 980.1,1097.4 981.9,1094.9 983.6,1092.3 985.4,1089.8 987.2,1087.5 988.9,1085.6 990.7,1084.3 992.4,1083.6 994.2,1083.8 995.9,1085.4 997.7,1088.5 999.4,1092.8 1001.2,1098.3 1003,1104.7 1004.7,1111.7 1006.5,1119.3 1008.2,1126.9 1010,1134.4 1011.7,1141.5 1013.5,1147.9 1015.2,1153.3 1017,1157.7 1018.8,1160.7 1020.5,1162.3 1022.3,1162.5 1024,1160.9 1025.8,1157.7 1027.5,1152.9 1029.3,1146.7 1031,1139.1 1032.8,1130.5 1034.6,1120.9 1036.3,1110.8 1038.1,1100.2 1039.8,1089.6 1041.6,1079.1 1043.3,1069.1 1045.1,1059.8 1046.8,1051.5 1048.6,1044.3 1050.4,1038.5 1052.1,1034.2 1053.9,1031.5 1055.6,1030.4 1057.4,1030.6 1059.1,1031.4 1060.9,1032.6 1062.6,1034.4 1064.4,1036.7 1066.2,1039.4 1067.9,1042.7 1069.7,1046.4 1071.4,1050.5 1073.2,1055 1074.9,1059.8 1076.7,1065 1078.4,1070.5 1080.2,1076.2 1081.9,1082.2 1083.7,1088.4 1085.5,1094.7 1087.2,1101.1 1089,1107.5 1090.7,1114 1092.5,1120.4 1094.2,1126.8 1096,1133 1097.7,1139.1 1099.5,1145 1101.3,1150.6 1103,1156 1104.8,1161.1 1106.5,1165.8 1108.3,1170.1 1110,1174.1 1111.8,1177.6 1113.5,1180.6 1115.3,1183.2 1117.1,1185.3 1118.8,1186.8 1120.6,1187.9 1122.3,1188.4 1124.1,1188.4 1125.8,1187.4 1127.6,1185.6 1129.3,1182.9 1131.1,1179.3 1132.9,1174.8 1134.6,1169.6 1136.4,1163.7 1138.1,1157 1139.9,1149.8 1141.6,1142 1143.4,1133.7 1145.1,1125.1 1146.9,1116.2 1148.7,1107 1150.4,1097.8 1152.2,1088.5 1153.9,1079.3 1155.7,1070.3 1157.4,1061.5 1159.2,1053.1 1160.9,1045 1162.7,1037.5 1164.4,1030.5 1166.2,1024.2 1168,1018.6 1169.7,1013.8 1171.5,1009.8 1173.2,1006.6 1175,1004.3 1176.7,1002.9 1178.5,1002.5 1180.2,1003 1182,1004.6 1183.8,1007.2 1185.5,1010.8 1187.3,1015.4 1189,1021 1190.8,1027.4 1192.5,1034.6 1194.3,1042.5 1196,1051.1 1197.8,1060.3 1199.6,1069.9 1201.3,1080 1203.1,1090.3 1204.8,1100.8 1206.6,1111.4 1208.3,1122 1210.1,1132.4 1211.8,1142.6 1213.6,1152.5 1215.4,1161.9 1217.1,1170.8 1218.9,1179.1 1220.6,1186.7 1222.4,1193.5 1224.1,1199.5 1225.9,1204.5 1227.6,1208.6 1229.4,1211.8 1231.2,1213.9 1232.9,1214.9 1234.7,1215 1236.4,1214.4 1238.2,1213.2 1239.9,1211.5 1241.7,1209.2 1243.4,1206.3 1245.2,1202.9 1246.9,1198.9 1248.7,1194.5 1250.5,1189.6 1252.2,1184.2 1254,1178.3 1255.7,1172.1 1257.5,1165.5 1259.2,1158.5 1261,1151.3 1262.7,1143.7 1264.5,1135.9 1266.3,1127.9 1268,1119.8 1269.8,1111.5 1271.5,1103.2 1273.3,1094.8 1275,1086.4 1276.8,1078.1 1278.5,1069.8 1280.3,1061.7 1282.1,1053.7 1283.8,1045.9 1285.6,1038.3 1287.3,1031.1 1289.1,1024.1 1290.8,1017.5 1292.6,1011.3 1294.3,1005.4 1296.1,1000 1297.9,995.1 1299.6,990.7 1301.4,986.7 1303.1,983.3 1304.9,980.4 1306.6,978.1 1308.4,976.4 1310.1,975.2 1311.9,974.6 1313.7,974.7 1315.4,975.9 1317.2,978.2 1318.9,981.7 1320.7,986.3 1322.4,992 1324.2,998.7 1325.9,1006.3 1327.7,1014.8 1329.5,1024.1 1331.2,1034.1 1333,1044.8 1334.7,1055.9 1336.5,1067.4 1338.2,1079.2 1340,1091.2 1341.7,1103.3 1343.5,1115.3 1345.2,1127.2 1347,1138.7 1348.8,1149.9 1350.5,1160.6 1352.3,1170.6 1354,1180 1355.8,1188.6 1357.5,1196.3 1359.3,1203.1 1361,1208.9 1362.8,1213.6 1364.6,1217.2 1366.3,1219.7 1368.1,1221 1369.8,1221 1371.6,1219.4 1373.3,1216.4 1375.1,1213.1 1376.8,1210.6 1378.6,1209.6" fill="none" stroke="#f5a86a" stroke-width="1.3" opacity="0.9" stroke-linejoin="round"/>
<polyline points="852,1104 853.8,1104.1 855.5,1104.4 857.3,1104.8 859,1105.4 860.8,1105.9 862.5,1106.5 864.3,1106.9 866,1107.2 867.8,1107.3 869.6,1106.8 871.3,1105.4 873.1,1103.2 874.8,1100.5 876.6,1097.6 878.3,1095 880.1,1092.8 881.8,1091.3 883.6,1090.8 885.4,1091.3 887.1,1092.8 888.9,1095 890.6,1097.6 892.4,1100.5 894.1,1103.2 895.9,1105.4 897.6,1106.8 899.4,1107.3 901.1,1106.9 902.9,1105.9 904.7,1104.4 906.4,1103 908.2,1101.9 909.9,1101.5 911.7,1102 913.4,1103.2 915.2,1105.1 916.9,1107.7 918.7,1110.7 920.5,1113.9 922.2,1117.1 924,1120 925.7,1122.6 927.5,1124.6 929.2,1125.8 931,1126.2 932.7,1125.5 934.5,1123.5 936.3,1120.3 938,1116.1 939.8,1111.1 941.5,1105.5 943.3,1099.7 945,1093.9 946.8,1088.6 948.5,1083.9 950.3,1080.2 952.1,1077.5 953.8,1076.2 955.6,1076.2 957.3,1077.3 959.1,1079.5 960.8,1082.6 962.6,1086.3 964.3,1090.2 966.1,1094 967.9,1097.4 969.6,1100.1 971.4,1101.8 973.1,1102.4 974.9,1101.9 976.6,1100.6 978.4,1098.6 980.1,1096 981.9,1093 983.6,1089.9 985.4,1086.8 987.2,1084 988.9,1081.8 990.7,1080.2 992.4,1079.4 994.2,1079.6 995.9,1081.6 997.7,1085.3 999.4,1090.5 1001.2,1097.1 1003,1104.8 1004.7,1113.3 1006.5,1122.4 1008.2,1131.6 1010,1140.7 1011.7,1149.3 1013.5,1157 1015.2,1163.6 1017,1168.8 1018.8,1172.5 1020.5,1174.4 1022.3,1174.6 1024,1172.7 1025.8,1168.8 1027.5,1163.1 1029.3,1155.5 1031,1146.4 1032.8,1136 1034.6,1124.4 1036.3,1112.2 1038.1,1099.4 1039.8,1086.6 1041.6,1074 1043.3,1061.9 1045.1,1050.7 1046.8,1040.6 1048.6,1032 1050.4,1024.9 1052.1,1019.7 1053.9,1016.4 1055.6,1015.2 1057.4,1015.4 1059.1,1016.3 1060.9,1017.8 1062.6,1020 1064.4,1022.7 1066.2,1026.1 1067.9,1030 1069.7,1034.4 1071.4,1039.4 1073.2,1044.8 1074.9,1050.7 1076.7,1056.9 1078.4,1063.6 1080.2,1070.5 1081.9,1077.7 1083.7,1085.1 1085.5,1092.7 1087.2,1100.5 1089,1108.2 1090.7,1116 1092.5,1123.8 1094.2,1131.5 1096,1139 1097.7,1146.4 1099.5,1153.5 1101.3,1160.3 1103,1166.8 1104.8,1172.9 1106.5,1178.6 1108.3,1183.8 1110,1188.6 1111.8,1192.8 1113.5,1196.5 1115.3,1199.6 1117.1,1202.1 1118.8,1204 1120.6,1205.3 1122.3,1205.9 1124.1,1205.9 1125.8,1204.7 1127.6,1202.5 1129.3,1199.2 1131.1,1194.9 1132.9,1189.5 1134.6,1183.2 1136.4,1176 1138.1,1168 1139.9,1159.3 1141.6,1149.9 1143.4,1139.9 1145.1,1129.5 1146.9,1118.7 1148.7,1107.7 1150.4,1096.5 1152.2,1085.3 1153.9,1074.2 1155.7,1063.3 1157.4,1052.7 1159.2,1042.5 1160.9,1032.8 1162.7,1023.7 1164.4,1015.3 1166.2,1007.7 1168,1001 1169.7,995.1 1171.5,990.3 1173.2,986.4 1175,983.7 1176.7,982 1178.5,981.4 1180.2,982.1 1182,984 1183.8,987.1 1185.5,991.5 1187.3,997.1 1189,1003.7 1190.8,1011.5 1192.5,1020.2 1194.3,1029.8 1196,1040.1 1197.8,1051.2 1199.6,1062.9 1201.3,1075 1203.1,1087.5 1204.8,1100.2 1206.6,1113 1208.3,1125.7 1210.1,1138.3 1211.8,1150.6 1213.6,1162.5 1215.4,1173.9 1217.1,1184.7 1218.9,1194.7 1220.6,1203.8 1222.4,1212 1224.1,1219.2 1225.9,1225.4 1227.6,1230.3 1229.4,1234.1 1231.2,1236.6 1232.9,1237.9 1234.7,1238 1236.4,1237.3 1238.2,1235.9 1239.9,1233.8 1241.7,1231 1243.4,1227.5 1245.2,1223.4 1246.9,1218.6 1248.7,1213.3 1250.5,1207.3 1252.2,1200.8 1254,1193.7 1255.7,1186.2 1257.5,1178.2 1259.2,1169.8 1261,1161.1 1262.7,1151.9 1264.5,1142.5 1266.3,1132.9 1268,1123.1 1269.8,1113.1 1271.5,1103 1273.3,1092.9 1275,1082.8 1276.8,1072.7 1278.5,1062.7 1280.3,1052.9 1282.1,1043.2 1283.8,1033.8 1285.6,1024.7 1287.3,1016 1289.1,1007.6 1290.8,999.6 1292.6,992 1294.3,985 1296.1,978.5 1297.9,972.5 1299.6,967.2 1301.4,962.4 1303.1,958.3 1304.9,954.8 1306.6,952 1308.4,949.9 1310.1,948.5 1311.9,947.8 1313.7,947.9 1315.4,949.3 1317.2,952.2 1318.9,956.4 1320.7,961.9 1322.4,968.8 1324.2,976.8 1325.9,986.1 1327.7,996.3 1329.5,1007.6 1331.2,1019.7 1333,1032.5 1334.7,1045.9 1336.5,1059.8 1338.2,1074.1 1340,1088.6 1341.7,1103.2 1343.5,1117.7 1345.2,1132 1347,1145.9 1348.8,1159.4 1350.5,1172.3 1352.3,1184.5 1354,1195.8 1355.8,1206.2 1357.5,1215.5 1359.3,1223.7 1361,1230.6 1362.8,1236.3 1364.6,1240.7 1366.3,1243.7 1368.1,1245.2 1369.8,1245.3 1371.6,1243.3 1373.3,1239.7 1375.1,1235.7 1376.8,1232.6 1378.6,1231.5" fill="none" stroke="#ef8a8e" stroke-width="1.3" opacity="0.9" stroke-linejoin="round"/>
<polyline points="852,1104 853.8,1104.1 855.5,1104.5 857.3,1105 859,1105.6 860.8,1106.3 862.5,1106.9 864.3,1107.4 866,1107.7 867.8,1107.9 869.6,1107.3 871.3,1105.6 873.1,1103 874.8,1099.9 876.6,1096.5 878.3,1093.4 880.1,1090.8 881.8,1089.1 883.6,1088.6 885.4,1089.1 887.1,1090.8 888.9,1093.4 890.6,1096.5 892.4,1099.9 894.1,1103 895.9,1105.6 897.6,1107.3 899.4,1107.9 901.1,1107.4 902.9,1106.2 904.7,1104.5 906.4,1102.8 908.2,1101.6 909.9,1101.1 911.7,1101.6 913.4,1103 915.2,1105.3 916.9,1108.3 918.7,1111.8 920.5,1115.6 922.2,1119.3 924,1122.8 925.7,1125.8 927.5,1128.1 929.2,1129.6 931,1130 932.7,1129.3 934.5,1126.9 936.3,1123.2 938,1118.2 939.8,1112.3 941.5,1105.7 943.3,1098.9 945,1092.2 946.8,1085.9 948.5,1080.4 950.3,1076 952.1,1073 953.8,1071.4 955.6,1071.4 957.3,1072.7 959.1,1075.3 960.8,1078.9 962.6,1083.2 964.3,1087.8 966.1,1092.3 967.9,1096.3 969.6,1099.4 971.4,1101.4 973.1,1102.1 974.9,1101.6 976.6,1100.1 978.4,1097.7 980.1,1094.7 981.9,1091.2 983.6,1087.4 985.4,1083.8 987.2,1080.6 988.9,1077.9 990.7,1076 992.4,1075.1 994.2,1075.4 995.9,1077.7 997.7,1082 999.4,1088.1 1001.2,1095.9 1003,1104.9 1004.7,1115 1006.5,1125.6 1008.2,1136.4 1010,1147.1 1011.7,1157.1 1013.5,1166.1 1015.2,1173.9 1017,1180 1018.8,1184.3 1020.5,1186.6 1022.3,1186.8 1024,1184.6 1025.8,1180.1 1027.5,1173.3 1029.3,1164.4 1031,1153.7 1032.8,1141.5 1034.6,1128 1036.3,1113.6 1038.1,1098.7 1039.8,1083.6 1041.6,1068.8 1043.3,1054.6 1045.1,1041.5 1046.8,1029.7 1048.6,1019.5 1050.4,1011.2 1052.1,1005.1 1053.9,1001.3 1055.6,999.8 1057.4,1000.1 1059.1,1001.1 1060.9,1002.9 1062.6,1005.4 1064.4,1008.7 1066.2,1012.6 1067.9,1017.2 1069.7,1022.4 1071.4,1028.2 1073.2,1034.5 1074.9,1041.4 1076.7,1048.8 1078.4,1056.6 1080.2,1064.7 1081.9,1073.2 1083.7,1081.9 1085.5,1090.8 1087.2,1099.8 1089,1109 1090.7,1118.1 1092.5,1127.2 1094.2,1136.2 1096,1145.1 1097.7,1153.7 1099.5,1162 1101.3,1170 1103,1177.7 1104.8,1184.8 1106.5,1191.5 1108.3,1197.6 1110,1203.2 1111.8,1208.2 1113.5,1212.5 1115.3,1216.1 1117.1,1219.1 1118.8,1221.3 1120.6,1222.8 1122.3,1223.5 1124.1,1223.5 1125.8,1222.2 1127.6,1219.6 1129.3,1215.7 1131.1,1210.6 1132.9,1204.3 1134.6,1196.9 1136.4,1188.5 1138.1,1179.1 1139.9,1168.8 1141.6,1157.8 1143.4,1146.1 1145.1,1133.9 1146.9,1121.2 1148.7,1108.3 1150.4,1095.2 1152.2,1082.1 1153.9,1069.1 1155.7,1056.3 1157.4,1043.8 1159.2,1031.9 1160.9,1020.5 1162.7,1009.8 1164.4,1000 1166.2,991.1 1168,983.1 1169.7,976.3 1171.5,970.6 1173.2,966.1 1175,962.9 1176.7,960.9 1178.5,960.2 1180.2,961 1182,963.2 1183.8,966.9 1185.5,972.1 1187.3,978.6 1189,986.4 1190.8,995.5 1192.5,1005.7 1194.3,1016.9 1196,1029.1 1197.8,1042.1 1199.6,1055.8 1201.3,1070 1203.1,1084.6 1204.8,1099.5 1206.6,1114.5 1208.3,1129.5 1210.1,1144.2 1211.8,1158.7 1213.6,1172.7 1215.4,1186 1217.1,1198.6 1218.9,1210.3 1220.6,1221.1 1222.4,1230.7 1224.1,1239.2 1225.9,1246.4 1227.6,1252.2 1229.4,1256.6 1231.2,1259.6 1232.9,1261.1 1234.7,1261.2 1236.4,1260.3 1238.2,1258.7 1239.9,1256.2 1241.7,1252.9 1243.4,1248.9 1245.2,1244 1246.9,1238.4 1248.7,1232.2 1250.5,1225.2 1252.2,1217.5 1254,1209.3 1255.7,1200.4 1257.5,1191.1 1259.2,1181.2 1261,1170.9 1262.7,1160.2 1264.5,1149.2 1266.3,1137.9 1268,1126.4 1269.8,1114.7 1271.5,1102.9 1273.3,1091 1275,1079.1 1276.8,1067.3 1278.5,1055.6 1280.3,1044 1282.1,1032.7 1283.8,1021.7 1285.6,1011 1287.3,1000.7 1289.1,990.9 1290.8,981.5 1292.6,972.7 1294.3,964.4 1296.1,956.8 1297.9,949.8 1299.6,943.5 1301.4,937.9 1303.1,933.1 1304.9,929 1306.6,925.7 1308.4,923.3 1310.1,921.6 1311.9,920.8 1313.7,920.9 1315.4,922.6 1317.2,925.9 1318.9,930.8 1320.7,937.3 1322.4,945.4 1324.2,954.8 1325.9,965.7 1327.7,977.7 1329.5,990.9 1331.2,1005.1 1333,1020.1 1334.7,1035.9 1336.5,1052.2 1338.2,1068.9 1340,1085.9 1341.7,1103 1343.5,1120 1345.2,1136.8 1347,1153.2 1348.8,1169 1350.5,1184.1 1352.3,1198.4 1354,1211.7 1355.8,1223.8 1357.5,1234.8 1359.3,1244.4 1361,1252.5 1362.8,1259.2 1364.6,1264.3 1366.3,1267.8 1368.1,1269.6 1369.8,1269.7 1371.6,1267.4 1373.3,1263.2 1375.1,1258.5 1376.8,1254.9 1378.6,1253.5" fill="none" stroke="#e9646f" stroke-width="1.3" opacity="0.9" stroke-linejoin="round"/>
<polyline points="852,1104 853.8,1104.1 855.5,1104.5 857.3,1105 859,1105.7 860.8,1106.4 862.5,1107 864.3,1107.6 866,1107.9 867.8,1108 869.6,1107.4 871.3,1105.7 873.1,1103 874.8,1099.7 876.6,1096.2 878.3,1092.9 880.1,1090.2 881.8,1088.4 883.6,1087.8 885.4,1088.4 887.1,1090.2 888.9,1092.9 890.6,1096.2 892.4,1099.7 894.1,1103 895.9,1105.7 897.6,1107.4 899.4,1108 901.1,1107.6 902.9,1106.3 904.7,1104.5 906.4,1102.7 908.2,1101.4 909.9,1101 911.7,1101.5 913.4,1103 915.2,1105.4 916.9,1108.5 918.7,1112.2 920.5,1116.1 922.2,1120 924,1123.7 925.7,1126.8 927.5,1129.2 929.2,1130.8 931,1131.3 932.7,1130.4 934.5,1128 936.3,1124.1 938,1118.9 939.8,1112.7 941.5,1105.8 943.3,1098.7 945,1091.6 946.8,1085.1 948.5,1079.3 950.3,1074.7 952.1,1071.5 953.8,1069.9 955.6,1069.8 957.3,1071.3 959.1,1074 960.8,1077.7 962.6,1082.2 964.3,1087 966.1,1091.7 967.9,1095.9 969.6,1099.2 971.4,1101.3 973.1,1102 974.9,1101.4 976.6,1099.9 978.4,1097.4 980.1,1094.2 981.9,1090.5 983.6,1086.7 985.4,1082.9 987.2,1079.5 988.9,1076.7 990.7,1074.7 992.4,1073.8 994.2,1074.1 995.9,1076.5 997.7,1081 999.4,1087.4 1001.2,1095.5 1003,1105 1004.7,1115.5 1006.5,1126.6 1008.2,1138 1010,1149.1 1011.7,1159.6 1013.5,1169.1 1015.2,1177.2 1017,1183.6 1018.8,1188.1 1020.5,1190.5 1022.3,1190.7 1024,1188.4 1025.8,1183.6 1027.5,1176.5 1029.3,1167.3 1031,1156.1 1032.8,1143.2 1034.6,1129.1 1036.3,1114 1038.1,1098.4 1039.8,1082.6 1041.6,1067.1 1043.3,1052.3 1045.1,1038.5 1046.8,1026.2 1048.6,1015.5 1050.4,1006.9 1052.1,1000.5 1053.9,996.4 1055.6,994.9 1057.4,995.2 1059.1,996.3 1060.9,998.2 1062.6,1000.8 1064.4,1004.2 1066.2,1008.3 1067.9,1013.1 1069.7,1018.5 1071.4,1024.6 1073.2,1031.3 1074.9,1038.5 1076.7,1046.2 1078.4,1054.3 1080.2,1062.9 1081.9,1071.7 1083.7,1080.8 1085.5,1090.2 1087.2,1099.6 1089,1109.2 1090.7,1118.8 1092.5,1128.3 1094.2,1137.8 1096,1147 1097.7,1156 1099.5,1164.8 1101.3,1173.1 1103,1181.1 1104.8,1188.6 1106.5,1195.6 1108.3,1202 1110,1207.9 1111.8,1213.1 1113.5,1217.6 1115.3,1221.4 1117.1,1224.5 1118.8,1226.8 1120.6,1228.4 1122.3,1229.2 1124.1,1229.1 1125.8,1227.7 1127.6,1225 1129.3,1220.9 1131.1,1215.6 1132.9,1209 1134.6,1201.3 1136.4,1192.4 1138.1,1182.6 1139.9,1171.9 1141.6,1160.3 1143.4,1148.1 1145.1,1135.3 1146.9,1122.1 1148.7,1108.5 1150.4,1094.8 1152.2,1081.1 1153.9,1067.4 1155.7,1054 1157.4,1041 1159.2,1028.5 1160.9,1016.6 1162.7,1005.4 1164.4,995.1 1166.2,985.8 1168,977.5 1169.7,970.3 1171.5,964.3 1173.2,959.6 1175,956.2 1176.7,954.2 1178.5,953.5 1180.2,954.3 1182,956.6 1183.8,960.5 1185.5,965.9 1187.3,972.7 1189,980.9 1190.8,990.4 1192.5,1001 1194.3,1012.8 1196,1025.6 1197.8,1039.2 1199.6,1053.5 1201.3,1068.4 1203.1,1083.7 1204.8,1099.3 1206.6,1115 1208.3,1130.7 1210.1,1146.1 1211.8,1161.3 1213.6,1175.9 1215.4,1189.9 1217.1,1203.1 1218.9,1215.3 1220.6,1226.6 1222.4,1236.7 1224.1,1245.5 1225.9,1253 1227.6,1259.1 1229.4,1263.8 1231.2,1266.9 1232.9,1268.4 1234.7,1268.5 1236.4,1267.7 1238.2,1265.9 1239.9,1263.3 1241.7,1259.9 1243.4,1255.7 1245.2,1250.6 1246.9,1244.8 1248.7,1238.2 1250.5,1230.9 1252.2,1222.9 1254,1214.2 1255.7,1205 1257.5,1195.2 1259.2,1184.8 1261,1174.1 1262.7,1162.9 1264.5,1151.3 1266.3,1139.5 1268,1127.4 1269.8,1115.2 1271.5,1102.8 1273.3,1090.4 1275,1077.9 1276.8,1065.6 1278.5,1053.3 1280.3,1041.2 1282.1,1029.4 1283.8,1017.9 1285.6,1006.7 1287.3,995.9 1289.1,985.6 1290.8,975.8 1292.6,966.5 1294.3,957.9 1296.1,949.9 1297.9,942.6 1299.6,936 1301.4,930.1 1303.1,925.1 1304.9,920.8 1306.6,917.4 1308.4,914.8 1310.1,913.1 1311.9,912.2 1313.7,912.3 1315.4,914.1 1317.2,917.5 1318.9,922.7 1320.7,929.5 1322.4,937.9 1324.2,947.8 1325.9,959.2 1327.7,971.8 1329.5,985.6 1331.2,1000.4 1333,1016.2 1334.7,1032.7 1336.5,1049.8 1338.2,1067.3 1340,1085.1 1341.7,1103 1343.5,1120.8 1345.2,1138.3 1347,1155.5 1348.8,1172 1350.5,1187.9 1352.3,1202.8 1354,1216.7 1355.8,1229.5 1357.5,1240.9 1359.3,1251 1361,1259.5 1362.8,1266.5 1364.6,1271.8 1366.3,1275.5 1368.1,1277.4 1369.8,1277.5 1371.6,1275 1373.3,1270.6 1375.1,1265.7 1376.8,1262 1378.6,1260.6" fill="none" stroke="#e5505c" stroke-width="1.3" opacity="0.9" stroke-linejoin="round"/>
<polyline points="852,1104 853.8,1104.1 855.5,1104.5 857.3,1105.1 859,1105.8 860.8,1106.5 862.5,1107.2 864.3,1107.8 866,1108.2 867.8,1108.3 869.6,1107.7 871.3,1105.8 873.1,1102.9 874.8,1099.4 876.6,1095.7 878.3,1092.1 880.1,1089.3 881.8,1087.4 883.6,1086.8 885.4,1087.4 887.1,1089.3 888.9,1092.1 890.6,1095.7 892.4,1099.4 894.1,1102.9 895.9,1105.8 897.6,1107.7 899.4,1108.3 901.1,1107.8 902.9,1106.4 904.7,1104.5 906.4,1102.7 908.2,1101.3 909.9,1100.8 911.7,1101.3 913.4,1102.9 915.2,1105.5 916.9,1108.9 918.7,1112.8 920.5,1116.9 922.2,1121.1 924,1125 925.7,1128.4 927.5,1130.9 929.2,1132.6 931,1133.1 932.7,1132.2 934.5,1129.6 936.3,1125.4 938,1119.9 939.8,1113.2 941.5,1105.9 943.3,1098.3 945,1090.8 946.8,1083.8 948.5,1077.7 950.3,1072.8 952.1,1069.3 953.8,1067.6 955.6,1067.5 957.3,1069.1 959.1,1072 960.8,1076 962.6,1080.8 964.3,1085.9 966.1,1090.9 967.9,1095.3 969.6,1098.8 971.4,1101.1 973.1,1101.8 974.9,1101.3 976.6,1099.6 978.4,1097 980.1,1093.6 981.9,1089.6 983.6,1085.5 985.4,1081.5 987.2,1077.8 988.9,1074.8 990.7,1072.8 992.4,1071.8 994.2,1072.1 995.9,1074.6 997.7,1079.4 999.4,1086.3 1001.2,1094.9 1003,1105 1004.7,1116.3 1006.5,1128.1 1008.2,1140.2 1010,1152.1 1011.7,1163.3 1013.5,1173.4 1015.2,1182.1 1017,1188.9 1018.8,1193.7 1020.5,1196.3 1022.3,1196.5 1024,1194.1 1025.8,1189 1027.5,1181.4 1029.3,1171.5 1031,1159.6 1032.8,1145.9 1034.6,1130.8 1036.3,1114.7 1038.1,1098 1039.8,1081.2 1041.6,1064.7 1043.3,1048.8 1045.1,1034.1 1046.8,1020.9 1048.6,1009.6 1050.4,1000.3 1052.1,993.5 1053.9,989.2 1055.6,987.6 1057.4,987.9 1059.1,989.1 1060.9,991.1 1062.6,993.9 1064.4,997.5 1066.2,1001.9 1067.9,1007 1069.7,1012.8 1071.4,1019.3 1073.2,1026.4 1074.9,1034.1 1076.7,1042.3 1078.4,1051 1080.2,1060.1 1081.9,1069.5 1083.7,1079.3 1085.5,1089.2 1087.2,1099.3 1089,1109.6 1090.7,1119.8 1092.5,1130 1094.2,1140 1096,1149.9 1097.7,1159.5 1099.5,1168.8 1101.3,1177.8 1103,1186.3 1104.8,1194.3 1106.5,1201.8 1108.3,1208.6 1110,1214.9 1111.8,1220.4 1113.5,1225.2 1115.3,1229.3 1117.1,1232.6 1118.8,1235.1 1120.6,1236.7 1122.3,1237.6 1124.1,1237.5 1125.8,1236 1127.6,1233.1 1129.3,1228.8 1131.1,1223.1 1132.9,1216.1 1134.6,1207.8 1136.4,1198.4 1138.1,1187.9 1139.9,1176.4 1141.6,1164.1 1143.4,1151 1145.1,1137.4 1146.9,1123.3 1148.7,1108.8 1150.4,1094.2 1152.2,1079.5 1153.9,1065 1155.7,1050.7 1157.4,1036.8 1159.2,1023.4 1160.9,1010.7 1162.7,998.8 1164.4,987.8 1166.2,977.8 1168,968.9 1169.7,961.3 1171.5,954.9 1173.2,949.9 1175,946.3 1176.7,944.1 1178.5,943.4 1180.2,944.2 1182,946.7 1183.8,950.8 1185.5,956.6 1187.3,963.9 1189,972.6 1190.8,982.7 1192.5,994.1 1194.3,1006.7 1196,1020.3 1197.8,1034.8 1199.6,1050.1 1201.3,1066 1203.1,1082.3 1204.8,1099 1206.6,1115.7 1208.3,1132.5 1210.1,1149 1211.8,1165.1 1213.6,1180.7 1215.4,1195.6 1217.1,1209.7 1218.9,1222.8 1220.6,1234.8 1222.4,1245.6 1224.1,1255 1225.9,1263.1 1227.6,1269.6 1229.4,1274.5 1231.2,1277.8 1232.9,1279.5 1234.7,1279.6 1236.4,1278.7 1238.2,1276.8 1239.9,1274.1 1241.7,1270.4 1243.4,1265.9 1245.2,1260.5 1246.9,1254.2 1248.7,1247.2 1250.5,1239.4 1252.2,1230.8 1254,1221.6 1255.7,1211.7 1257.5,1201.3 1259.2,1190.3 1261,1178.8 1262.7,1166.8 1264.5,1154.5 1266.3,1141.9 1268,1129 1269.8,1115.9 1271.5,1102.7 1273.3,1089.4 1275,1076.2 1276.8,1063 1278.5,1049.9 1280.3,1037 1282.1,1024.4 1283.8,1012.1 1285.6,1000.1 1287.3,988.6 1289.1,977.6 1290.8,967.1 1292.6,957.3 1294.3,948.1 1296.1,939.5 1297.9,931.7 1299.6,924.7 1301.4,918.4 1303.1,913 1304.9,908.5 1306.6,904.8 1308.4,902.1 1310.1,900.2 1311.9,899.3 1313.7,899.4 1315.4,901.3 1317.2,905 1318.9,910.5 1320.7,917.8 1322.4,926.8 1324.2,937.3 1325.9,949.4 1327.7,962.9 1329.5,977.6 1331.2,993.5 1333,1010.3 1334.7,1027.9 1336.5,1046.1 1338.2,1064.8 1340,1083.8 1341.7,1102.9 1343.5,1121.9 1345.2,1140.6 1347,1158.9 1348.8,1176.6 1350.5,1193.5 1352.3,1209.4 1354,1224.3 1355.8,1237.9 1357.5,1250.1 1359.3,1260.8 1361,1270 1362.8,1277.4 1364.6,1283.1 1366.3,1287 1368.1,1289.1 1369.8,1289.2 1371.6,1286.5 1373.3,1281.8 1375.1,1276.6 1376.8,1272.6 1378.6,1271.1" fill="none" stroke="#de2f3c" stroke-width="1.4" opacity="0.9" stroke-linejoin="round"/>
</g>
<rect x="852" y="895.6" width="526.6" height="393.5" fill="none" stroke="#bdbdbd" stroke-width="1.6" />
<line x1="845" y1="1265.7" x2="852" y2="1265.7" stroke="#9a9a9a" stroke-width="1.3" />
<text x="840.5" y="1273.9" font-size="23" fill="#111" text-anchor="end">−15</text>
<line x1="845" y1="1211.8" x2="852" y2="1211.8" stroke="#9a9a9a" stroke-width="1.3" />
<text x="840.5" y="1220" font-size="23" fill="#111" text-anchor="end">−10</text>
<line x1="845" y1="1157.9" x2="852" y2="1157.9" stroke="#9a9a9a" stroke-width="1.3" />
<text x="840.5" y="1166.1" font-size="23" fill="#111" text-anchor="end">−5</text>
<line x1="845" y1="1104" x2="852" y2="1104" stroke="#9a9a9a" stroke-width="1.3" />
<text x="840.5" y="1112.2" font-size="23" fill="#111" text-anchor="end">0</text>
<line x1="845" y1="1050.1" x2="852" y2="1050.1" stroke="#9a9a9a" stroke-width="1.3" />
<text x="840.5" y="1058.3" font-size="23" fill="#111" text-anchor="end">5</text>
<line x1="845" y1="996.2" x2="852" y2="996.2" stroke="#9a9a9a" stroke-width="1.3" />
<text x="840.5" y="1004.4" font-size="23" fill="#111" text-anchor="end">10</text>
<line x1="845" y1="942.3" x2="852" y2="942.3" stroke="#9a9a9a" stroke-width="1.3" />
<text x="840.5" y="950.5" font-size="23" fill="#111" text-anchor="end">15</text>
<line x1="852" y1="1289.1" x2="852" y2="1296.1" stroke="#9a9a9a" stroke-width="1.3" />
<line x1="904.7" y1="1289.1" x2="904.7" y2="1293.1" stroke="#9a9a9a" stroke-width="1.3" />
<line x1="957.3" y1="1289.1" x2="957.3" y2="1296.1" stroke="#9a9a9a" stroke-width="1.3" />
<line x1="1010" y1="1289.1" x2="1010" y2="1293.1" stroke="#9a9a9a" stroke-width="1.3" />
<line x1="1062.6" y1="1289.1" x2="1062.6" y2="1296.1" stroke="#9a9a9a" stroke-width="1.3" />
<line x1="1115.3" y1="1289.1" x2="1115.3" y2="1293.1" stroke="#9a9a9a" stroke-width="1.3" />
<line x1="1168" y1="1289.1" x2="1168" y2="1296.1" stroke="#9a9a9a" stroke-width="1.3" />
<line x1="1220.6" y1="1289.1" x2="1220.6" y2="1293.1" stroke="#9a9a9a" stroke-width="1.3" />
<line x1="1273.3" y1="1289.1" x2="1273.3" y2="1296.1" stroke="#9a9a9a" stroke-width="1.3" />
<line x1="1325.9" y1="1289.1" x2="1325.9" y2="1293.1" stroke="#9a9a9a" stroke-width="1.3" />
<line x1="1378.6" y1="1289.1" x2="1378.6" y2="1296.1" stroke="#9a9a9a" stroke-width="1.3" />
<text x="852" y="1319.6" font-size="21" fill="#111" text-anchor="middle">4</text>
<text x="957.3" y="1319.6" font-size="21" fill="#111" text-anchor="middle">6</text>
<text x="1062.6" y="1319.6" font-size="21" fill="#111" text-anchor="middle">8</text>
<text x="1168" y="1319.6" font-size="21" fill="#111" text-anchor="middle">10</text>
<text x="1273.3" y="1319.6" font-size="21" fill="#111" text-anchor="middle">12</text>
<text x="1378.6" y="1319.6" font-size="21" fill="#111" text-anchor="middle">14</text>
<text x="1087" y="1346.6" font-size="22" fill="#111"><tspan font-style="italic">B</tspan> (T)</text>
<g transform="translate(799.5 1093.5) rotate(-90)"><text x="0" y="0" font-size="24" fill="#111" text-anchor="middle">Δ<tspan font-style="italic">R</tspan><tspan font-size="16" dy="5">xx</tspan><tspan dy="-5"> (Ω)</tspan></text></g>
<text x="1374" y="908" font-size="10" fill="#6e6e6e" text-anchor="end">1.9 K</text>
<text x="1374" y="923.4" font-size="10" fill="#6e6e6e" text-anchor="end">3.0 K</text>
<text x="1374" y="938.8" font-size="10" fill="#6e6e6e" text-anchor="end">5.0 K</text>
<text x="1374" y="954.2" font-size="10" fill="#6e6e6e" text-anchor="end">7.0 K</text>
<text x="1374" y="969.6" font-size="10" fill="#6e6e6e" text-anchor="end">9.0 K</text>
<text x="1374" y="985" font-size="10" fill="#6e6e6e" text-anchor="end">11.0 K</text>
<text x="1374" y="1000.4" font-size="10" fill="#6e6e6e" text-anchor="end">13.0 K</text>
<text x="1374" y="1015.8" font-size="10" fill="#6e6e6e" text-anchor="end">15.0 K</text>
<text x="1374" y="1031.2" font-size="10" fill="#6e6e6e" text-anchor="end">17.0 K</text>
<text x="1374" y="1046.6" font-size="10" fill="#6e6e6e" text-anchor="end">20.0 K</text>
<text x="1374" y="1062" font-size="10" fill="#6e6e6e" text-anchor="end">23.0 K</text>
<text x="1374" y="1077.4" font-size="10" fill="#6e6e6e" text-anchor="end">25.0 K</text>
<text x="1374" y="1092.8" font-size="10" fill="#6e6e6e" text-anchor="end">30.0 K</text>
<text x="1442" y="918.8" font-size="43" fill="#111" font-family="'Liberation Serif', 'Times New Roman', serif" font-weight="bold">J</text>
<line x1="1556" y1="1243.5" x2="1565" y2="1243.5" stroke="#333" stroke-width="1.3" />
<line x1="1559" y1="1227.2" x2="1565" y2="1227.2" stroke="#333" stroke-width="1.3" />
<line x1="1559" y1="1217.6" x2="1565" y2="1217.6" stroke="#333" stroke-width="1.3" />
<line x1="1559" y1="1210.9" x2="1565" y2="1210.9" stroke="#333" stroke-width="1.3" />
<line x1="1559" y1="1205.6" x2="1565" y2="1205.6" stroke="#333" stroke-width="1.3" />
<line x1="1559" y1="1201.3" x2="1565" y2="1201.3" stroke="#333" stroke-width="1.3" />
<line x1="1559" y1="1197.7" x2="1565" y2="1197.7" stroke="#333" stroke-width="1.3" />
<line x1="1559" y1="1194.6" x2="1565" y2="1194.6" stroke="#333" stroke-width="1.3" />
<line x1="1559" y1="1191.8" x2="1565" y2="1191.8" stroke="#333" stroke-width="1.3" />
<line x1="1556" y1="1189.3" x2="1565" y2="1189.3" stroke="#333" stroke-width="1.3" />
<line x1="1559" y1="1173" x2="1565" y2="1173" stroke="#333" stroke-width="1.3" />
<line x1="1559" y1="1163.4" x2="1565" y2="1163.4" stroke="#333" stroke-width="1.3" />
<line x1="1559" y1="1156.7" x2="1565" y2="1156.7" stroke="#333" stroke-width="1.3" />
<line x1="1559" y1="1151.4" x2="1565" y2="1151.4" stroke="#333" stroke-width="1.3" />
<line x1="1559" y1="1147.1" x2="1565" y2="1147.1" stroke="#333" stroke-width="1.3" />
<line x1="1559" y1="1143.5" x2="1565" y2="1143.5" stroke="#333" stroke-width="1.3" />
<line x1="1559" y1="1140.4" x2="1565" y2="1140.4" stroke="#333" stroke-width="1.3" />
<line x1="1559" y1="1137.6" x2="1565" y2="1137.6" stroke="#333" stroke-width="1.3" />
<line x1="1556" y1="1135.1" x2="1565" y2="1135.1" stroke="#333" stroke-width="1.3" />
<line x1="1559" y1="1118.8" x2="1565" y2="1118.8" stroke="#333" stroke-width="1.3" />
<line x1="1559" y1="1109.2" x2="1565" y2="1109.2" stroke="#333" stroke-width="1.3" />
<line x1="1559" y1="1102.5" x2="1565" y2="1102.5" stroke="#333" stroke-width="1.3" />
<line x1="1559" y1="1097.2" x2="1565" y2="1097.2" stroke="#333" stroke-width="1.3" />
<line x1="1559" y1="1092.9" x2="1565" y2="1092.9" stroke="#333" stroke-width="1.3" />
<line x1="1559" y1="1089.3" x2="1565" y2="1089.3" stroke="#333" stroke-width="1.3" />
<line x1="1559" y1="1086.2" x2="1565" y2="1086.2" stroke="#333" stroke-width="1.3" />
<line x1="1559" y1="1083.4" x2="1565" y2="1083.4" stroke="#333" stroke-width="1.3" />
<line x1="1556" y1="1080.9" x2="1565" y2="1080.9" stroke="#333" stroke-width="1.3" />
<line x1="1559" y1="1064.6" x2="1565" y2="1064.6" stroke="#333" stroke-width="1.3" />
<line x1="1559" y1="1055" x2="1565" y2="1055" stroke="#333" stroke-width="1.3" />
<line x1="1559" y1="1048.3" x2="1565" y2="1048.3" stroke="#333" stroke-width="1.3" />
<line x1="1559" y1="1043" x2="1565" y2="1043" stroke="#333" stroke-width="1.3" />
<line x1="1559" y1="1038.7" x2="1565" y2="1038.7" stroke="#333" stroke-width="1.3" />
<line x1="1559" y1="1035.1" x2="1565" y2="1035.1" stroke="#333" stroke-width="1.3" />
<line x1="1559" y1="1032" x2="1565" y2="1032" stroke="#333" stroke-width="1.3" />
<line x1="1559" y1="1029.2" x2="1565" y2="1029.2" stroke="#333" stroke-width="1.3" />
<line x1="1556" y1="1026.7" x2="1565" y2="1026.7" stroke="#333" stroke-width="1.3" />
<line x1="1559" y1="1010.4" x2="1565" y2="1010.4" stroke="#333" stroke-width="1.3" />
<line x1="1559" y1="1000.8" x2="1565" y2="1000.8" stroke="#333" stroke-width="1.3" />
<line x1="1559" y1="994.1" x2="1565" y2="994.1" stroke="#333" stroke-width="1.3" />
<line x1="1559" y1="988.8" x2="1565" y2="988.8" stroke="#333" stroke-width="1.3" />
<line x1="1559" y1="984.5" x2="1565" y2="984.5" stroke="#333" stroke-width="1.3" />
<line x1="1559" y1="980.9" x2="1565" y2="980.9" stroke="#333" stroke-width="1.3" />
<line x1="1559" y1="977.8" x2="1565" y2="977.8" stroke="#333" stroke-width="1.3" />
<line x1="1559" y1="975" x2="1565" y2="975" stroke="#333" stroke-width="1.3" />
<line x1="1556" y1="972.5" x2="1565" y2="972.5" stroke="#333" stroke-width="1.3" />
<line x1="1559" y1="956.2" x2="1565" y2="956.2" stroke="#333" stroke-width="1.3" />
<line x1="1559" y1="946.6" x2="1565" y2="946.6" stroke="#333" stroke-width="1.3" />
<line x1="1559" y1="939.9" x2="1565" y2="939.9" stroke="#333" stroke-width="1.3" />
<line x1="1559" y1="934.6" x2="1565" y2="934.6" stroke="#333" stroke-width="1.3" />
<line x1="1559" y1="930.3" x2="1565" y2="930.3" stroke="#333" stroke-width="1.3" />
<line x1="1559" y1="926.7" x2="1565" y2="926.7" stroke="#333" stroke-width="1.3" />
<line x1="1559" y1="923.6" x2="1565" y2="923.6" stroke="#333" stroke-width="1.3" />
<line x1="1559" y1="920.8" x2="1565" y2="920.8" stroke="#333" stroke-width="1.3" />
<line x1="1556" y1="918.3" x2="1565" y2="918.3" stroke="#333" stroke-width="1.3" />
<line x1="1559" y1="902" x2="1565" y2="902" stroke="#333" stroke-width="1.3" />
<line x1="1566" y1="1256" x2="1566" y2="1265" stroke="#333" stroke-width="1.3" />
<line x1="1589.5" y1="1256" x2="1589.5" y2="1261" stroke="#333" stroke-width="1.3" />
<line x1="1603.2" y1="1256" x2="1603.2" y2="1261" stroke="#333" stroke-width="1.3" />
<line x1="1613" y1="1256" x2="1613" y2="1261" stroke="#333" stroke-width="1.3" />
<line x1="1620.5" y1="1256" x2="1620.5" y2="1261" stroke="#333" stroke-width="1.3" />
<line x1="1626.7" y1="1256" x2="1626.7" y2="1261" stroke="#333" stroke-width="1.3" />
<line x1="1631.9" y1="1256" x2="1631.9" y2="1261" stroke="#333" stroke-width="1.3" />
<line x1="1636.4" y1="1256" x2="1636.4" y2="1261" stroke="#333" stroke-width="1.3" />
<line x1="1640.4" y1="1256" x2="1640.4" y2="1261" stroke="#333" stroke-width="1.3" />
<line x1="1644" y1="1256" x2="1644" y2="1265" stroke="#333" stroke-width="1.3" />
<line x1="1667.5" y1="1256" x2="1667.5" y2="1261" stroke="#333" stroke-width="1.3" />
<line x1="1681.2" y1="1256" x2="1681.2" y2="1261" stroke="#333" stroke-width="1.3" />
<line x1="1691" y1="1256" x2="1691" y2="1261" stroke="#333" stroke-width="1.3" />
<line x1="1698.5" y1="1256" x2="1698.5" y2="1261" stroke="#333" stroke-width="1.3" />
<line x1="1704.7" y1="1256" x2="1704.7" y2="1261" stroke="#333" stroke-width="1.3" />
<line x1="1709.9" y1="1256" x2="1709.9" y2="1261" stroke="#333" stroke-width="1.3" />
<line x1="1714.4" y1="1256" x2="1714.4" y2="1261" stroke="#333" stroke-width="1.3" />
<line x1="1718.4" y1="1256" x2="1718.4" y2="1261" stroke="#333" stroke-width="1.3" />
<line x1="1722" y1="1256" x2="1722" y2="1265" stroke="#333" stroke-width="1.3" />
<line x1="1745.5" y1="1256" x2="1745.5" y2="1261" stroke="#333" stroke-width="1.3" />
<line x1="1759.2" y1="1256" x2="1759.2" y2="1261" stroke="#333" stroke-width="1.3" />
<line x1="1769" y1="1256" x2="1769" y2="1261" stroke="#333" stroke-width="1.3" />
<line x1="1776.5" y1="1256" x2="1776.5" y2="1261" stroke="#333" stroke-width="1.3" />
<line x1="1782.7" y1="1256" x2="1782.7" y2="1261" stroke="#333" stroke-width="1.3" />
<line x1="1787.9" y1="1256" x2="1787.9" y2="1261" stroke="#333" stroke-width="1.3" />
<line x1="1792.4" y1="1256" x2="1792.4" y2="1261" stroke="#333" stroke-width="1.3" />
<line x1="1796.4" y1="1256" x2="1796.4" y2="1261" stroke="#333" stroke-width="1.3" />
<line x1="1800" y1="1256" x2="1800" y2="1265" stroke="#333" stroke-width="1.3" />
<line x1="1823.5" y1="1256" x2="1823.5" y2="1261" stroke="#333" stroke-width="1.3" />
<line x1="1837.2" y1="1256" x2="1837.2" y2="1261" stroke="#333" stroke-width="1.3" />
<line x1="1847" y1="1256" x2="1847" y2="1261" stroke="#333" stroke-width="1.3" />
<line x1="1854.5" y1="1256" x2="1854.5" y2="1261" stroke="#333" stroke-width="1.3" />
<line x1="1860.7" y1="1256" x2="1860.7" y2="1261" stroke="#333" stroke-width="1.3" />
<line x1="1865.9" y1="1256" x2="1865.9" y2="1261" stroke="#333" stroke-width="1.3" />
<line x1="1870.4" y1="1256" x2="1870.4" y2="1261" stroke="#333" stroke-width="1.3" />
<line x1="1874.4" y1="1256" x2="1874.4" y2="1261" stroke="#333" stroke-width="1.3" />
<line x1="1878" y1="1256" x2="1878" y2="1265" stroke="#333" stroke-width="1.3" />
<line x1="1901.5" y1="1256" x2="1901.5" y2="1261" stroke="#333" stroke-width="1.3" />
<line x1="1915.2" y1="1256" x2="1915.2" y2="1261" stroke="#333" stroke-width="1.3" />
<line x1="1925" y1="1256" x2="1925" y2="1261" stroke="#333" stroke-width="1.3" />
<line x1="1932.5" y1="1256" x2="1932.5" y2="1261" stroke="#333" stroke-width="1.3" />
<line x1="1938.7" y1="1256" x2="1938.7" y2="1261" stroke="#333" stroke-width="1.3" />
<line x1="1943.9" y1="1256" x2="1943.9" y2="1261" stroke="#333" stroke-width="1.3" />
<line x1="1948.4" y1="1256" x2="1948.4" y2="1261" stroke="#333" stroke-width="1.3" />
<line x1="1952.4" y1="1256" x2="1952.4" y2="1261" stroke="#333" stroke-width="1.3" />
<line x1="1956" y1="1256" x2="1956" y2="1265" stroke="#333" stroke-width="1.3" />
<line x1="1979.5" y1="1256" x2="1979.5" y2="1261" stroke="#333" stroke-width="1.3" />
<line x1="1993.2" y1="1256" x2="1993.2" y2="1261" stroke="#333" stroke-width="1.3" />
<rect x="1565" y="900.7" width="436.3" height="355.3" fill="none" stroke="#333" stroke-width="2" />
<circle cx="1582.5" cy="919.8" r="0.9" fill="#777" />
<circle cx="1629.4" cy="919.8" r="0.9" fill="#777" />
<circle cx="1677.7" cy="919.8" r="0.9" fill="#777" />
<circle cx="1726" cy="919.8" r="0.9" fill="#777" />
<circle cx="1601.6" cy="984.2" r="5.8" fill="none" stroke="#e02828" stroke-width="1.6" />
<circle cx="1607.4" cy="988.6" r="5.8" fill="none" stroke="#e02828" stroke-width="1.6" />
<circle cx="1613.3" cy="987.1" r="5.8" fill="none" stroke="#e02828" stroke-width="1.6" />
<circle cx="1619.1" cy="991.5" r="5.8" fill="none" stroke="#e02828" stroke-width="1.6" />
<circle cx="1625" cy="993" r="5.8" fill="none" stroke="#e02828" stroke-width="1.6" />
<circle cx="1630.8" cy="995.9" r="5.8" fill="none" stroke="#e02828" stroke-width="1.6" />
<circle cx="1636.7" cy="994.5" r="5.8" fill="none" stroke="#e02828" stroke-width="1.6" />
<circle cx="1642.5" cy="1000.3" r="5.8" fill="none" stroke="#e02828" stroke-width="1.6" />
<circle cx="1648.4" cy="1003.2" r="5.8" fill="none" stroke="#e02828" stroke-width="1.6" />
<circle cx="1654.3" cy="1004.7" r="5.8" fill="none" stroke="#e02828" stroke-width="1.6" />
<circle cx="1660.1" cy="1006.2" r="5.8" fill="none" stroke="#e02828" stroke-width="1.6" />
<circle cx="1666" cy="1008.2" r="5.8" fill="none" stroke="#e02828" stroke-width="1.6" />
<circle cx="1671.8" cy="1010.6" r="5.8" fill="none" stroke="#e02828" stroke-width="1.6" />
<circle cx="1677.7" cy="1013.5" r="5.8" fill="none" stroke="#e02828" stroke-width="1.6" />
<circle cx="1683.5" cy="1016.4" r="5.8" fill="none" stroke="#e02828" stroke-width="1.6" />
<circle cx="1689.4" cy="1017.9" r="5.8" fill="none" stroke="#e02828" stroke-width="1.6" />
<circle cx="1695.3" cy="1020.8" r="5.8" fill="none" stroke="#e02828" stroke-width="1.6" />
<circle cx="1701.1" cy="1023.7" r="5.8" fill="none" stroke="#e02828" stroke-width="1.6" />
<circle cx="1707" cy="1026.7" r="5.8" fill="none" stroke="#e02828" stroke-width="1.6" />
<circle cx="1712.8" cy="1029.6" r="5.8" fill="none" stroke="#e02828" stroke-width="1.6" />
<circle cx="1718.7" cy="1032.5" r="5.8" fill="none" stroke="#e02828" stroke-width="1.6" />
<circle cx="1724.5" cy="1036.9" r="5.8" fill="none" stroke="#e02828" stroke-width="1.6" />
<circle cx="1730.4" cy="1040.4" r="5.8" fill="none" stroke="#e02828" stroke-width="1.6" />
<circle cx="1736.3" cy="1042.8" r="5.8" fill="none" stroke="#e02828" stroke-width="1.6" />
<circle cx="1742.1" cy="1045.7" r="5.8" fill="none" stroke="#e02828" stroke-width="1.6" />
<circle cx="1748" cy="1048.6" r="5.8" fill="none" stroke="#e02828" stroke-width="1.6" />
<circle cx="1753.8" cy="1053" r="5.8" fill="none" stroke="#e02828" stroke-width="1.6" />
<circle cx="1759.7" cy="1057.4" r="5.8" fill="none" stroke="#e02828" stroke-width="1.6" />
<circle cx="1765.5" cy="1060.3" r="5.8" fill="none" stroke="#e02828" stroke-width="1.6" />
<circle cx="1771.4" cy="1061.8" r="5.8" fill="none" stroke="#e02828" stroke-width="1.6" />
<circle cx="1777.2" cy="1066.2" r="5.8" fill="none" stroke="#e02828" stroke-width="1.6" />
<circle cx="1783.1" cy="1069.1" r="5.8" fill="none" stroke="#e02828" stroke-width="1.6" />
<circle cx="1789" cy="1072" r="5.8" fill="none" stroke="#e02828" stroke-width="1.6" />
<circle cx="1794.8" cy="1075" r="5.8" fill="none" stroke="#e02828" stroke-width="1.6" />
<circle cx="1800.7" cy="1077.9" r="5.8" fill="none" stroke="#e02828" stroke-width="1.6" />
<circle cx="1806.5" cy="1080.8" r="5.8" fill="none" stroke="#e02828" stroke-width="1.6" />
<circle cx="1812.4" cy="1083.8" r="5.8" fill="none" stroke="#e02828" stroke-width="1.6" />
<circle cx="1818.2" cy="1086.7" r="5.8" fill="none" stroke="#e02828" stroke-width="1.6" />
<circle cx="1824.1" cy="1089" r="5.8" fill="none" stroke="#e02828" stroke-width="1.6" />
<circle cx="1830" cy="1091.1" r="5.8" fill="none" stroke="#e02828" stroke-width="1.6" />
<circle cx="1835.8" cy="1093.1" r="5.8" fill="none" stroke="#e02828" stroke-width="1.6" />
<circle cx="1841.7" cy="1095.5" r="5.8" fill="none" stroke="#e02828" stroke-width="1.6" />
<circle cx="1847.5" cy="1097.8" r="5.8" fill="none" stroke="#e02828" stroke-width="1.6" />
<circle cx="1853.4" cy="1099.9" r="5.8" fill="none" stroke="#e02828" stroke-width="1.6" />
<circle cx="1859.2" cy="1101.9" r="5.8" fill="none" stroke="#e02828" stroke-width="1.6" />
<circle cx="1865.1" cy="1104.3" r="5.8" fill="none" stroke="#e02828" stroke-width="1.6" />
<circle cx="1871" cy="1106.6" r="5.8" fill="none" stroke="#e02828" stroke-width="1.6" />
<circle cx="1876.8" cy="1108.7" r="5.8" fill="none" stroke="#e02828" stroke-width="1.6" />
<circle cx="1882.7" cy="1111.6" r="5.8" fill="none" stroke="#e02828" stroke-width="1.6" />
<circle cx="1888.5" cy="1114.5" r="5.8" fill="none" stroke="#e02828" stroke-width="1.6" />
<circle cx="1894.4" cy="1117.4" r="5.8" fill="none" stroke="#e02828" stroke-width="1.6" />
<circle cx="1900.2" cy="1120.4" r="5.8" fill="none" stroke="#e02828" stroke-width="1.6" />
<circle cx="1906.1" cy="1122.4" r="5.8" fill="none" stroke="#e02828" stroke-width="1.6" />
<circle cx="1911.9" cy="1124.8" r="5.8" fill="none" stroke="#e02828" stroke-width="1.6" />
<circle cx="1917.8" cy="1127.7" r="5.8" fill="none" stroke="#e02828" stroke-width="1.6" />
<circle cx="1923.7" cy="1130" r="5.8" fill="none" stroke="#e02828" stroke-width="1.6" />
<circle cx="1929.5" cy="1132.4" r="5.8" fill="none" stroke="#e02828" stroke-width="1.6" />
<circle cx="1935.4" cy="1135" r="5.8" fill="none" stroke="#e02828" stroke-width="1.6" />
<circle cx="1941.2" cy="1137.9" r="5.8" fill="none" stroke="#e02828" stroke-width="1.6" />
<circle cx="1947.1" cy="1140" r="5.8" fill="none" stroke="#e02828" stroke-width="1.6" />
<circle cx="1952.9" cy="1142.3" r="5.8" fill="none" stroke="#e02828" stroke-width="1.6" />
<circle cx="1970.5" cy="1149.6" r="5.8" fill="none" stroke="#e02828" stroke-width="1.6" />
<circle cx="1977.8" cy="1150.5" r="5.8" fill="none" stroke="#e02828" stroke-width="1.6" />
<circle cx="1604.5" cy="987.1" r="5.8" fill="none" stroke="#e02828" stroke-width="1.6" />
<circle cx="1610.3" cy="985.7" r="5.8" fill="none" stroke="#e02828" stroke-width="1.6" />
<circle cx="1616.2" cy="990.1" r="5.8" fill="none" stroke="#e02828" stroke-width="1.6" />
<circle cx="1622" cy="994.5" r="5.8" fill="none" stroke="#e02828" stroke-width="1.6" />
<circle cx="1627.9" cy="992.4" r="5.8" fill="none" stroke="#e02828" stroke-width="1.6" />
<circle cx="1633.8" cy="998.8" r="5.8" fill="none" stroke="#e02828" stroke-width="1.6" />
<circle cx="1639.6" cy="995.9" r="5.8" fill="none" stroke="#e02828" stroke-width="1.6" />
<circle cx="1645.5" cy="1001.8" r="5.8" fill="none" stroke="#e02828" stroke-width="1.6" />
<circle cx="1651.3" cy="1005.3" r="5.8" fill="none" stroke="#e02828" stroke-width="1.6" />
<circle cx="1668.9" cy="1010" r="5.8" fill="none" stroke="#e02828" stroke-width="1.6" />
<circle cx="1698.2" cy="1022.3" r="5.8" fill="none" stroke="#e02828" stroke-width="1.6" />
<circle cx="1727.5" cy="1038.4" r="5.8" fill="none" stroke="#e02828" stroke-width="1.6" />
<circle cx="1756.7" cy="1054.5" r="5.8" fill="none" stroke="#e02828" stroke-width="1.6" />
<circle cx="1786" cy="1071.5" r="5.8" fill="none" stroke="#e02828" stroke-width="1.6" />
<circle cx="1815.3" cy="1085.2" r="5.8" fill="none" stroke="#e02828" stroke-width="1.6" />
<circle cx="1844.6" cy="1096.1" r="5.8" fill="none" stroke="#e02828" stroke-width="1.6" />
<circle cx="1873.9" cy="1107.8" r="5.8" fill="none" stroke="#e02828" stroke-width="1.6" />
<circle cx="1903.2" cy="1121.2" r="5.8" fill="none" stroke="#e02828" stroke-width="1.6" />
<circle cx="1932.4" cy="1133.5" r="5.8" fill="none" stroke="#e02828" stroke-width="1.6" />
<circle cx="1944.2" cy="1138.8" r="5.8" fill="none" stroke="#e02828" stroke-width="1.6" />
<circle cx="1950" cy="1141.2" r="5.8" fill="none" stroke="#e02828" stroke-width="1.6" />
<polygon points="1753.2,1147.6 1766.2,1147.6 1759.7,1158.6" fill="none" stroke="#2838a8" stroke-width="1.2" />
<polygon points="1762,1154.9 1775,1154.9 1768.5,1165.9" fill="none" stroke="#2838a8" stroke-width="1.2" />
<polygon points="1764.9,1157.8 1777.9,1157.8 1771.4,1168.8" fill="none" stroke="#2838a8" stroke-width="1.2" />
<polygon points="1769.3,1169.5 1782.3,1169.5 1775.8,1180.5" fill="none" stroke="#2838a8" stroke-width="1.2" />
<polygon points="1773.7,1172.5 1786.7,1172.5 1780.2,1183.5" fill="none" stroke="#2838a8" stroke-width="1.2" />
<polygon points="1778.1,1176.9 1791.1,1176.9 1784.6,1187.9" fill="none" stroke="#2838a8" stroke-width="1.2" />
<polygon points="1782.5,1171 1795.5,1171 1789,1182" fill="none" stroke="#2838a8" stroke-width="1.2" />
<polygon points="1786.9,1172.5 1799.9,1172.5 1793.4,1183.5" fill="none" stroke="#2838a8" stroke-width="1.2" />
<polygon points="1791.2,1169.5 1804.2,1169.5 1797.7,1180.5" fill="none" stroke="#2838a8" stroke-width="1.2" />
<polygon points="1797.1,1168.1 1810.1,1168.1 1803.6,1179.1" fill="none" stroke="#2838a8" stroke-width="1.2" />
<polygon points="1803,1173.9 1816,1173.9 1809.5,1184.9" fill="none" stroke="#2838a8" stroke-width="1.2" />
<polygon points="1808.8,1175.4 1821.8,1175.4 1815.3,1186.4" fill="none" stroke="#2838a8" stroke-width="1.2" />
<polygon points="1816.1,1178.3 1829.1,1178.3 1822.6,1189.3" fill="none" stroke="#2838a8" stroke-width="1.2" />
<polygon points="1822,1181.3 1835,1181.3 1828.5,1192.3" fill="none" stroke="#2838a8" stroke-width="1.2" />
<polygon points="1826.4,1179.8 1839.4,1179.8 1832.9,1190.8" fill="none" stroke="#2838a8" stroke-width="1.2" />
<polygon points="1830.8,1182.7 1843.8,1182.7 1837.3,1193.7" fill="none" stroke="#2838a8" stroke-width="1.2" />
<polygon points="1836.6,1181.3 1849.6,1181.3 1843.1,1192.3" fill="none" stroke="#2838a8" stroke-width="1.2" />
<polygon points="1842.5,1185.6 1855.5,1185.6 1849,1196.6" fill="none" stroke="#2838a8" stroke-width="1.2" />
<polygon points="1848.3,1187.1 1861.3,1187.1 1854.8,1198.1" fill="none" stroke="#2838a8" stroke-width="1.2" />
<polygon points="1852.7,1188.6 1865.7,1188.6 1859.2,1199.6" fill="none" stroke="#2838a8" stroke-width="1.2" />
<polygon points="1858.6,1191.5 1871.6,1191.5 1865.1,1202.5" fill="none" stroke="#2838a8" stroke-width="1.2" />
<polygon points="1864.5,1194.4 1877.5,1194.4 1871,1205.4" fill="none" stroke="#2838a8" stroke-width="1.2" />
<polygon points="1870.3,1195.9 1883.3,1195.9 1876.8,1206.9" fill="none" stroke="#2838a8" stroke-width="1.2" />
<polygon points="1876.2,1198.8 1889.2,1198.8 1882.7,1209.8" fill="none" stroke="#2838a8" stroke-width="1.2" />
<polygon points="1882,1201.7 1895,1201.7 1888.5,1212.7" fill="none" stroke="#2838a8" stroke-width="1.2" />
<polygon points="1887.9,1204.7 1900.9,1204.7 1894.4,1215.7" fill="none" stroke="#2838a8" stroke-width="1.2" />
<polygon points="1893.7,1206.1 1906.7,1206.1 1900.2,1217.1" fill="none" stroke="#2838a8" stroke-width="1.2" />
<polygon points="1899.6,1209.1 1912.6,1209.1 1906.1,1220.1" fill="none" stroke="#2838a8" stroke-width="1.2" />
<polygon points="1905.4,1210.5 1918.4,1210.5 1911.9,1221.5" fill="none" stroke="#2838a8" stroke-width="1.2" />
<polygon points="1911.3,1213.5 1924.3,1213.5 1917.8,1224.5" fill="none" stroke="#2838a8" stroke-width="1.2" />
<polygon points="1917.2,1214.9 1930.2,1214.9 1923.7,1225.9" fill="none" stroke="#2838a8" stroke-width="1.2" />
<polygon points="1923,1217.9 1936,1217.9 1929.5,1228.9" fill="none" stroke="#2838a8" stroke-width="1.2" />
<polygon points="1928.9,1219.3 1941.9,1219.3 1935.4,1230.3" fill="none" stroke="#2838a8" stroke-width="1.2" />
<polygon points="1934.7,1222.2 1947.7,1222.2 1941.2,1233.2" fill="none" stroke="#2838a8" stroke-width="1.2" />
<polygon points="1940.6,1223.7 1953.6,1223.7 1947.1,1234.7" fill="none" stroke="#2838a8" stroke-width="1.2" />
<polygon points="1946.4,1222.2 1959.4,1222.2 1952.9,1233.2" fill="none" stroke="#2838a8" stroke-width="1.2" />
<polygon points="1775.1,1178.3 1788.1,1178.3 1781.6,1189.3" fill="none" stroke="#2838a8" stroke-width="1.2" />
<polygon points="1781,1181.3 1794,1181.3 1787.5,1192.3" fill="none" stroke="#2838a8" stroke-width="1.2" />
<polygon points="1844,1190 1857,1190 1850.5,1201" fill="none" stroke="#2838a8" stroke-width="1.2" />
<polygon points="1861.5,1195.9 1874.5,1195.9 1868,1206.9" fill="none" stroke="#2838a8" stroke-width="1.2" />
<polygon points="1884.9,1206.1 1897.9,1206.1 1891.4,1217.1" fill="none" stroke="#2838a8" stroke-width="1.2" />
<polygon points="1908.4,1214.9 1921.4,1214.9 1914.9,1225.9" fill="none" stroke="#2838a8" stroke-width="1.2" />
<polygon points="1925.9,1220.8 1938.9,1220.8 1932.4,1231.8" fill="none" stroke="#2838a8" stroke-width="1.2" />
<polygon points="1937.7,1225.2 1950.7,1225.2 1944.2,1236.2" fill="none" stroke="#2838a8" stroke-width="1.2" />
<text x="1578" y="962.2" font-size="20" fill="#222" textLength="85" lengthAdjust="spacingAndGlyphs">1200 nm</text>
<text x="1578" y="1152.6" font-size="20" fill="#222" textLength="85" lengthAdjust="spacingAndGlyphs">1550 nm</text>
<text x="1545" y="928.6" font-size="24" fill="#222" text-anchor="end">10<tspan font-size="16" dy="-10">3</tspan></text>
<text x="1545" y="1036.7" font-size="24" fill="#222" text-anchor="end">10<tspan font-size="16" dy="-10">1</tspan></text>
<text x="1545" y="1143.5" font-size="24" fill="#222" text-anchor="end">10<tspan font-size="16" dy="-10">−1</tspan></text>
<text x="1545" y="1251.9" font-size="24" fill="#222" text-anchor="end">10<tspan font-size="16" dy="-10">−3</tspan></text>
<text x="1648" y="1303.4" font-size="24" fill="#222" text-anchor="middle">10<tspan font-size="16" dy="-10">0</tspan></text>
<text x="1804.7" y="1303.4" font-size="24" fill="#222" text-anchor="middle">10<tspan font-size="16" dy="-10">2</tspan></text>
<text x="1959.9" y="1303.4" font-size="24" fill="#222" text-anchor="middle">10<tspan font-size="16" dy="-10">4</tspan></text>
<text x="1715.5" y="1338.5" font-size="24" fill="#222" textLength="135" lengthAdjust="spacingAndGlyphs">Power (nW)</text>
<g transform="translate(1472.5 1079.5) rotate(-90)"><text x="0" y="0" font-size="24" fill="#222" text-anchor="middle">Responsivity (AW<tspan font-size="16" dy="-10">−1</tspan><tspan dy="10">)</tspan></text></g>
<rect x="1831.4" y="900.7" width="169.9" height="120.1" fill="#ffffff" stroke="#333" stroke-width="2" />
<line x1="1825.4" y1="1007.6" x2="1831.4" y2="1007.6" stroke="#333" stroke-width="1.3" />
<line x1="1825.4" y1="940.3" x2="1831.4" y2="940.3" stroke="#333" stroke-width="1.3" />
<line x1="1828.4" y1="974" x2="1831.4" y2="974" stroke="#333" stroke-width="1.1" />
<line x1="1828.4" y1="906.6" x2="1831.4" y2="906.6" stroke="#333" stroke-width="1.1" />
<line x1="1840.2" y1="1020.8" x2="1840.2" y2="1026.8" stroke="#333" stroke-width="1.3" />
<line x1="1920.7" y1="1020.8" x2="1920.7" y2="1026.8" stroke="#333" stroke-width="1.3" />
<line x1="1880.5" y1="1020.8" x2="1880.5" y2="1023.8" stroke="#333" stroke-width="1.1" />
<line x1="1961" y1="1020.8" x2="1961" y2="1023.8" stroke="#333" stroke-width="1.1" />
<line x1="1840.2" y1="1007.6" x2="1961.7" y2="909.5" stroke="#e03a2a" stroke-width="1.5" />
<line x1="1840.2" y1="1007.6" x2="1961.7" y2="968.1" stroke="#2a9a52" stroke-width="1.5" />
<line x1="1840.2" y1="1007.6" x2="1961.7" y2="1002.4" stroke="#333" stroke-width="1.5" />
<text x="1878" y="921.2" font-size="19" fill="#e03a2a">6 µW</text>
<text x="1942.5" y="953.5" font-size="19" fill="#2a9a52">1 µW</text>
<text x="1951.5" y="995.9" font-size="19" fill="#222" textLength="45" lengthAdjust="spacingAndGlyphs">Dark</text>
<text x="1815.3" y="946.7" font-size="19" fill="#222" text-anchor="end">1.0</text>
<text x="1815.3" y="1014" font-size="19" fill="#222" text-anchor="end">0</text>
<text x="1840.2" y="1053" font-size="19" fill="#222" text-anchor="middle">0</text>
<text x="1920.7" y="1053" font-size="19" fill="#222" text-anchor="middle">0.4</text>
<text x="1860.7" y="1079.4" font-size="20" fill="#222" textLength="110" lengthAdjust="spacingAndGlyphs">Voltage (V)</text>
<g transform="translate(1769.2 966) rotate(-90)"><text x="0" y="0" font-size="19" fill="#222" text-anchor="middle" textLength="113" lengthAdjust="spacingAndGlyphs">Current (µA)</text></g>
<text x="3.2" y="1405.8" font-size="43" fill="#111" font-family="'Liberation Serif', 'Times New Roman', serif" font-weight="bold">K</text>
<line x1="93.4" y1="1714.5" x2="93.4" y2="1706.5" stroke="#333" stroke-width="1.6" />
<line x1="137.7" y1="1714.5" x2="137.7" y2="1709.5" stroke="#333" stroke-width="1.6" />
<line x1="181.9" y1="1714.5" x2="181.9" y2="1706.5" stroke="#333" stroke-width="1.6" />
<line x1="226.2" y1="1714.5" x2="226.2" y2="1709.5" stroke="#333" stroke-width="1.6" />
<line x1="270.4" y1="1714.5" x2="270.4" y2="1706.5" stroke="#333" stroke-width="1.6" />
<line x1="314.7" y1="1714.5" x2="314.7" y2="1709.5" stroke="#333" stroke-width="1.6" />
<line x1="359" y1="1714.5" x2="359" y2="1706.5" stroke="#333" stroke-width="1.6" />
<line x1="403.2" y1="1714.5" x2="403.2" y2="1709.5" stroke="#333" stroke-width="1.6" />
<line x1="447.5" y1="1714.5" x2="447.5" y2="1706.5" stroke="#333" stroke-width="1.6" />
<line x1="491.7" y1="1714.5" x2="491.7" y2="1709.5" stroke="#333" stroke-width="1.6" />
<line x1="536" y1="1714.5" x2="536" y2="1706.5" stroke="#333" stroke-width="1.6" />
<line x1="93.4" y1="1690.8" x2="101.4" y2="1690.8" stroke="#333" stroke-width="1.6" />
<line x1="93.4" y1="1660.5" x2="98.4" y2="1660.5" stroke="#333" stroke-width="1.6" />
<line x1="93.4" y1="1630.2" x2="101.4" y2="1630.2" stroke="#333" stroke-width="1.6" />
<line x1="93.4" y1="1599.8" x2="98.4" y2="1599.8" stroke="#333" stroke-width="1.6" />
<line x1="93.4" y1="1569.5" x2="101.4" y2="1569.5" stroke="#333" stroke-width="1.6" />
<line x1="93.4" y1="1539.2" x2="98.4" y2="1539.2" stroke="#333" stroke-width="1.6" />
<line x1="93.4" y1="1508.9" x2="101.4" y2="1508.9" stroke="#333" stroke-width="1.6" />
<line x1="93.4" y1="1478.6" x2="98.4" y2="1478.6" stroke="#333" stroke-width="1.6" />
<line x1="93.4" y1="1448.2" x2="101.4" y2="1448.2" stroke="#333" stroke-width="1.6" />
<line x1="93.4" y1="1417.9" x2="98.4" y2="1417.9" stroke="#333" stroke-width="1.6" />
<line x1="93.4" y1="1387.6" x2="101.4" y2="1387.6" stroke="#333" stroke-width="1.6" />
<rect x="93.4" y="1369.5" width="442.6" height="345" fill="none" stroke="#2b2b2b" stroke-width="2.4" />
<text x="87.8" y="1395.1" font-size="21" fill="#444" text-anchor="end" textLength="33" lengthAdjust="spacingAndGlyphs">1.0</text>
<text x="87.8" y="1455.7" font-size="21" fill="#444" text-anchor="end" textLength="33" lengthAdjust="spacingAndGlyphs">0.8</text>
<text x="87.8" y="1516.4" font-size="21" fill="#444" text-anchor="end" textLength="33" lengthAdjust="spacingAndGlyphs">0.6</text>
<text x="87.8" y="1577" font-size="21" fill="#444" text-anchor="end" textLength="33" lengthAdjust="spacingAndGlyphs">0.4</text>
<text x="87.8" y="1637.7" font-size="21" fill="#444" text-anchor="end" textLength="33" lengthAdjust="spacingAndGlyphs">0.2</text>
<text x="87.8" y="1698.3" font-size="21" fill="#444" text-anchor="end" textLength="33" lengthAdjust="spacingAndGlyphs">0.0</text>
<text x="93.4" y="1744.6" font-size="21" fill="#444" text-anchor="middle" textLength="33" lengthAdjust="spacingAndGlyphs">0.2</text>
<text x="181.9" y="1744.6" font-size="21" fill="#444" text-anchor="middle" textLength="33" lengthAdjust="spacingAndGlyphs">0.4</text>
<text x="270.4" y="1744.6" font-size="21" fill="#444" text-anchor="middle" textLength="33" lengthAdjust="spacingAndGlyphs">0.6</text>
<text x="359" y="1744.6" font-size="21" fill="#444" text-anchor="middle" textLength="33" lengthAdjust="spacingAndGlyphs">0.8</text>
<text x="447.5" y="1744.6" font-size="21" fill="#444" text-anchor="middle" textLength="33" lengthAdjust="spacingAndGlyphs">1.0</text>
<text x="536" y="1744.6" font-size="21" fill="#444" text-anchor="middle" textLength="33" lengthAdjust="spacingAndGlyphs">1.2</text>
<text x="260.5" y="1785" font-size="26" fill="#333" textLength="109" lengthAdjust="spacingAndGlyphs">Time (s)</text>
<g transform="translate(24.5 1542.5) rotate(-90)"><text x="0" y="0" font-size="27" fill="#333" text-anchor="middle">Normalized I<tspan font-size="18" dy="6">ph</tspan></text></g>
<circle cx="93.4" cy="1690.8" r="3.9" fill="#2a2a8c" />
<circle cx="96.1" cy="1690.8" r="3.9" fill="#2a2a8c" />
<circle cx="98.7" cy="1690.8" r="3.9" fill="#2a2a8c" />
<circle cx="101.4" cy="1690.8" r="3.9" fill="#2a2a8c" />
<circle cx="104" cy="1690.8" r="3.9" fill="#2a2a8c" />
<circle cx="106.7" cy="1690.8" r="3.9" fill="#2a2a8c" />
<circle cx="109.3" cy="1690.8" r="3.9" fill="#2a2a8c" />
<circle cx="112" cy="1690.8" r="3.9" fill="#2a2a8c" />
<circle cx="114.6" cy="1690.8" r="3.9" fill="#2a2a8c" />
<circle cx="117.3" cy="1690.8" r="3.9" fill="#2a2a8c" />
<circle cx="120" cy="1690.8" r="3.9" fill="#2a2a8c" />
<circle cx="122.6" cy="1690.8" r="3.9" fill="#2a2a8c" />
<circle cx="125.3" cy="1690.8" r="3.9" fill="#2a2a8c" />
<circle cx="127.9" cy="1690.8" r="3.9" fill="#2a2a8c" />
<circle cx="130.6" cy="1690.8" r="3.9" fill="#2a2a8c" />
<circle cx="133.2" cy="1690.8" r="3.9" fill="#2a2a8c" />
<circle cx="135.9" cy="1690.8" r="3.9" fill="#2a2a8c" />
<circle cx="138.5" cy="1690.8" r="3.9" fill="#2a2a8c" />
<circle cx="141.2" cy="1690.8" r="3.9" fill="#2a2a8c" />
<circle cx="143.9" cy="1690.8" r="3.9" fill="#2a2a8c" />
<circle cx="146.5" cy="1690.8" r="3.9" fill="#2a2a8c" />
<circle cx="149.2" cy="1690.8" r="3.9" fill="#2a2a8c" />
<circle cx="151.8" cy="1690.8" r="3.9" fill="#2a2a8c" />
<circle cx="154.5" cy="1690.8" r="3.9" fill="#2a2a8c" />
<circle cx="157.1" cy="1690.8" r="3.9" fill="#2a2a8c" />
<circle cx="159.8" cy="1690.8" r="3.9" fill="#2a2a8c" />
<circle cx="162.4" cy="1690.8" r="3.9" fill="#2a2a8c" />
<circle cx="165.1" cy="1690.8" r="3.9" fill="#2a2a8c" />
<circle cx="167.8" cy="1690.8" r="3.9" fill="#2a2a8c" />
<circle cx="170.4" cy="1690.8" r="3.9" fill="#2a2a8c" />
<circle cx="173.1" cy="1690.8" r="3.9" fill="#2a2a8c" />
<circle cx="175.7" cy="1690.8" r="3.9" fill="#2a2a8c" />
<circle cx="177.5" cy="1387.6" r="3.9" fill="#2a2a8c" />
<circle cx="180.1" cy="1387.6" r="3.9" fill="#2a2a8c" />
<circle cx="182.8" cy="1387.6" r="3.9" fill="#2a2a8c" />
<circle cx="185.5" cy="1387.6" r="3.9" fill="#2a2a8c" />
<circle cx="188.1" cy="1387.6" r="3.9" fill="#2a2a8c" />
<circle cx="190.8" cy="1387.6" r="3.9" fill="#2a2a8c" />
<circle cx="193.4" cy="1387.6" r="3.9" fill="#2a2a8c" />
<circle cx="196.1" cy="1387.6" r="3.9" fill="#2a2a8c" />
<circle cx="198.7" cy="1387.6" r="3.9" fill="#2a2a8c" />
<circle cx="201.4" cy="1387.6" r="3.9" fill="#2a2a8c" />
<circle cx="204.1" cy="1387.6" r="3.9" fill="#2a2a8c" />
<circle cx="206.7" cy="1387.6" r="3.9" fill="#2a2a8c" />
<circle cx="209.4" cy="1387.6" r="3.9" fill="#2a2a8c" />
<circle cx="212" cy="1387.6" r="3.9" fill="#2a2a8c" />
<circle cx="214.7" cy="1387.6" r="3.9" fill="#2a2a8c" />
<circle cx="217.3" cy="1387.6" r="3.9" fill="#2a2a8c" />
<circle cx="220" cy="1387.6" r="3.9" fill="#2a2a8c" />
<circle cx="222.6" cy="1387.6" r="3.9" fill="#2a2a8c" />
<circle cx="225.3" cy="1387.6" r="3.9" fill="#2a2a8c" />
<circle cx="228" cy="1387.6" r="3.9" fill="#2a2a8c" />
<circle cx="230.6" cy="1387.6" r="3.9" fill="#2a2a8c" />
<circle cx="233.3" cy="1387.6" r="3.9" fill="#2a2a8c" />
<circle cx="235.9" cy="1387.6" r="3.9" fill="#2a2a8c" />
<circle cx="238.6" cy="1387.6" r="3.9" fill="#2a2a8c" />
<circle cx="241.2" cy="1387.6" r="3.9" fill="#2a2a8c" />
<circle cx="243.9" cy="1387.6" r="3.9" fill="#2a2a8c" />
<circle cx="246.5" cy="1387.6" r="3.9" fill="#2a2a8c" />
<circle cx="249.2" cy="1387.6" r="3.9" fill="#2a2a8c" />
<circle cx="251.9" cy="1387.6" r="3.9" fill="#2a2a8c" />
<circle cx="254.5" cy="1387.6" r="3.9" fill="#2a2a8c" />
<circle cx="257.2" cy="1387.6" r="3.9" fill="#2a2a8c" />
<circle cx="259.8" cy="1387.6" r="3.9" fill="#2a2a8c" />
<circle cx="262.5" cy="1387.6" r="3.9" fill="#2a2a8c" />
<circle cx="265.1" cy="1387.6" r="3.9" fill="#2a2a8c" />
<circle cx="267.8" cy="1387.6" r="3.9" fill="#2a2a8c" />
<circle cx="270.4" cy="1387.6" r="3.9" fill="#2a2a8c" />
<circle cx="273.1" cy="1387.6" r="3.9" fill="#2a2a8c" />
<circle cx="275.8" cy="1387.6" r="3.9" fill="#2a2a8c" />
<circle cx="278.4" cy="1387.6" r="3.9" fill="#2a2a8c" />
<circle cx="281.1" cy="1387.6" r="3.9" fill="#2a2a8c" />
<circle cx="283.7" cy="1387.6" r="3.9" fill="#2a2a8c" />
<circle cx="286.4" cy="1387.6" r="3.9" fill="#2a2a8c" />
<circle cx="289" cy="1387.6" r="3.9" fill="#2a2a8c" />
<circle cx="291.7" cy="1387.6" r="3.9" fill="#2a2a8c" />
<circle cx="294.3" cy="1387.6" r="3.9" fill="#2a2a8c" />
<circle cx="297" cy="1387.6" r="3.9" fill="#2a2a8c" />
<circle cx="299.7" cy="1387.6" r="3.9" fill="#2a2a8c" />
<circle cx="302.3" cy="1387.6" r="3.9" fill="#2a2a8c" />
<circle cx="305" cy="1387.6" r="3.9" fill="#2a2a8c" />
<circle cx="307.6" cy="1387.6" r="3.9" fill="#2a2a8c" />
<circle cx="310.3" cy="1387.6" r="3.9" fill="#2a2a8c" />
<circle cx="312.9" cy="1387.6" r="3.9" fill="#2a2a8c" />
<circle cx="315.6" cy="1387.6" r="3.9" fill="#2a2a8c" />
<circle cx="318.2" cy="1387.6" r="3.9" fill="#2a2a8c" />
<circle cx="320.9" cy="1387.6" r="3.9" fill="#2a2a8c" />
<circle cx="323.6" cy="1387.6" r="3.9" fill="#2a2a8c" />
<circle cx="326.2" cy="1387.6" r="3.9" fill="#2a2a8c" />
<circle cx="328.9" cy="1387.6" r="3.9" fill="#2a2a8c" />
<circle cx="331.5" cy="1387.6" r="3.9" fill="#2a2a8c" />
<circle cx="334.2" cy="1387.6" r="3.9" fill="#2a2a8c" />
<circle cx="336.8" cy="1387.6" r="3.9" fill="#2a2a8c" />
<circle cx="339.5" cy="1387.6" r="3.9" fill="#2a2a8c" />
<circle cx="342.1" cy="1387.6" r="3.9" fill="#2a2a8c" />
<circle cx="344.8" cy="1387.6" r="3.9" fill="#2a2a8c" />
<circle cx="347.5" cy="1387.6" r="3.9" fill="#2a2a8c" />
<circle cx="350.1" cy="1387.6" r="3.9" fill="#2a2a8c" />
<circle cx="352.8" cy="1387.6" r="3.9" fill="#2a2a8c" />
<circle cx="355.4" cy="1387.6" r="3.9" fill="#2a2a8c" />
<circle cx="358.1" cy="1387.6" r="3.9" fill="#2a2a8c" />
<circle cx="360.7" cy="1387.6" r="3.9" fill="#2a2a8c" />
<circle cx="363.4" cy="1387.6" r="3.9" fill="#2a2a8c" />
<circle cx="366" cy="1387.6" r="3.9" fill="#2a2a8c" />
<circle cx="368.7" cy="1387.6" r="3.9" fill="#2a2a8c" />
<circle cx="371.4" cy="1387.6" r="3.9" fill="#2a2a8c" />
<circle cx="374" cy="1387.6" r="3.9" fill="#2a2a8c" />
<circle cx="376.7" cy="1387.6" r="3.9" fill="#2a2a8c" />
<circle cx="379.3" cy="1387.6" r="3.9" fill="#2a2a8c" />
<circle cx="382" cy="1387.6" r="3.9" fill="#2a2a8c" />
<circle cx="384.6" cy="1387.6" r="3.9" fill="#2a2a8c" />
<circle cx="387.3" cy="1387.6" r="3.9" fill="#2a2a8c" />
<circle cx="389.9" cy="1387.6" r="3.9" fill="#2a2a8c" />
<circle cx="392.6" cy="1387.6" r="3.9" fill="#2a2a8c" />
<circle cx="395.3" cy="1387.6" r="3.9" fill="#2a2a8c" />
<circle cx="397.9" cy="1387.6" r="3.9" fill="#2a2a8c" />
<circle cx="177.5" cy="1398.8" r="3.9" fill="#2a2a8c" />
<circle cx="181.5" cy="1398.8" r="3.9" fill="#2a2a8c" />
<circle cx="185.5" cy="1398.8" r="3.9" fill="#2a2a8c" />
<circle cx="189.4" cy="1398.8" r="3.9" fill="#2a2a8c" />
<circle cx="193.4" cy="1398.8" r="3.9" fill="#2a2a8c" />
<circle cx="197.4" cy="1398.8" r="3.9" fill="#2a2a8c" />
<circle cx="201.4" cy="1398.8" r="3.9" fill="#2a2a8c" />
<circle cx="205.4" cy="1398.8" r="3.9" fill="#2a2a8c" />
<circle cx="209.4" cy="1398.8" r="3.9" fill="#2a2a8c" />
<circle cx="213.3" cy="1398.8" r="3.9" fill="#2a2a8c" />
<circle cx="217.3" cy="1398.8" r="3.9" fill="#2a2a8c" />
<circle cx="221.3" cy="1398.8" r="3.9" fill="#2a2a8c" />
<circle cx="225.3" cy="1398.8" r="3.9" fill="#2a2a8c" />
<circle cx="229.3" cy="1398.8" r="3.9" fill="#2a2a8c" />
<circle cx="233.3" cy="1398.8" r="3.9" fill="#2a2a8c" />
<circle cx="237.2" cy="1398.8" r="3.9" fill="#2a2a8c" />
<circle cx="241.2" cy="1398.8" r="3.9" fill="#2a2a8c" />
<circle cx="245.2" cy="1398.8" r="3.9" fill="#2a2a8c" />
<circle cx="249.2" cy="1398.8" r="3.9" fill="#2a2a8c" />
<circle cx="257.2" cy="1398.8" r="3.9" fill="#2a2a8c" />
<circle cx="261.1" cy="1398.8" r="3.9" fill="#2a2a8c" />
<circle cx="265.1" cy="1398.8" r="3.9" fill="#2a2a8c" />
<circle cx="269.1" cy="1398.8" r="3.9" fill="#2a2a8c" />
<circle cx="273.1" cy="1398.8" r="3.9" fill="#2a2a8c" />
<circle cx="277.1" cy="1398.8" r="3.9" fill="#2a2a8c" />
<circle cx="288.1" cy="1398.8" r="3.9" fill="#2a2a8c" />
<circle cx="292.1" cy="1398.8" r="3.9" fill="#2a2a8c" />
<circle cx="296.1" cy="1398.8" r="3.9" fill="#2a2a8c" />
<circle cx="310.3" cy="1398.8" r="3.9" fill="#2a2a8c" />
<circle cx="314.3" cy="1398.8" r="3.9" fill="#2a2a8c" />
<circle cx="318.2" cy="1398.8" r="3.9" fill="#2a2a8c" />
<circle cx="322.2" cy="1398.8" r="3.9" fill="#2a2a8c" />
<circle cx="326.2" cy="1398.8" r="3.9" fill="#2a2a8c" />
<circle cx="330.2" cy="1398.8" r="3.9" fill="#2a2a8c" />
<circle cx="350.1" cy="1398.8" r="3.9" fill="#2a2a8c" />
<circle cx="354.1" cy="1398.8" r="3.9" fill="#2a2a8c" />
<circle cx="358.1" cy="1398.8" r="3.9" fill="#2a2a8c" />
<circle cx="362.1" cy="1398.8" r="3.9" fill="#2a2a8c" />
<circle cx="366" cy="1398.8" r="3.9" fill="#2a2a8c" />
<circle cx="370" cy="1398.8" r="3.9" fill="#2a2a8c" />
<circle cx="374" cy="1398.8" r="3.9" fill="#2a2a8c" />
<circle cx="378" cy="1398.8" r="3.9" fill="#2a2a8c" />
<circle cx="382" cy="1398.8" r="3.9" fill="#2a2a8c" />
<circle cx="386" cy="1398.8" r="3.9" fill="#2a2a8c" />
<circle cx="389.9" cy="1398.8" r="3.9" fill="#2a2a8c" />
<circle cx="261.6" cy="1410" r="3.9" fill="#2a2a8c" />
<circle cx="290.4" cy="1410" r="3.9" fill="#2a2a8c" />
<circle cx="325.8" cy="1410" r="3.9" fill="#2a2a8c" />
<circle cx="367.8" cy="1410" r="3.9" fill="#2a2a8c" />
<circle cx="372.2" cy="1410" r="3.9" fill="#2a2a8c" />
<circle cx="177.5" cy="1669.6" r="3.9" fill="#2a2a8c" />
<circle cx="177.5" cy="1599.8" r="3.9" fill="#2a2a8c" />
<circle cx="177.5" cy="1566.5" r="3.9" fill="#2a2a8c" />
<circle cx="177.5" cy="1533.1" r="3.9" fill="#2a2a8c" />
<circle cx="177.5" cy="1487.7" r="3.9" fill="#2a2a8c" />
<circle cx="177.5" cy="1478.6" r="3.9" fill="#2a2a8c" />
<circle cx="177.5" cy="1466.4" r="3.9" fill="#2a2a8c" />
<circle cx="177.5" cy="1445.2" r="3.9" fill="#2a2a8c" />
<circle cx="177.5" cy="1433.1" r="3.9" fill="#2a2a8c" />
<circle cx="177.5" cy="1421" r="3.9" fill="#2a2a8c" />
<circle cx="177.5" cy="1408.8" r="3.9" fill="#2a2a8c" />
<circle cx="397.9" cy="1433.1" r="3.9" fill="#2a2a8c" />
<circle cx="397.9" cy="1466.4" r="3.9" fill="#2a2a8c" />
<circle cx="397.9" cy="1511.9" r="3.9" fill="#2a2a8c" />
<circle cx="397.9" cy="1533.1" r="3.9" fill="#2a2a8c" />
<circle cx="397.9" cy="1545.3" r="3.9" fill="#2a2a8c" />
<circle cx="397.9" cy="1557.4" r="3.9" fill="#2a2a8c" />
<circle cx="397.9" cy="1566.5" r="3.9" fill="#2a2a8c" />
<circle cx="397.9" cy="1578.6" r="3.9" fill="#2a2a8c" />
<circle cx="397.9" cy="1590.7" r="3.9" fill="#2a2a8c" />
<circle cx="397.9" cy="1599.8" r="3.9" fill="#2a2a8c" />
<circle cx="397.9" cy="1612" r="3.9" fill="#2a2a8c" />
<circle cx="397.9" cy="1624.1" r="3.9" fill="#2a2a8c" />
<circle cx="397.9" cy="1633.2" r="3.9" fill="#2a2a8c" />
<circle cx="397.9" cy="1645.3" r="3.9" fill="#2a2a8c" />
<circle cx="400.6" cy="1645.3" r="3.9" fill="#2a2a8c" />
<circle cx="403.2" cy="1645.3" r="3.9" fill="#2a2a8c" />
<circle cx="397.9" cy="1657.4" r="3.9" fill="#2a2a8c" />
<circle cx="400.6" cy="1657.4" r="3.9" fill="#2a2a8c" />
<circle cx="403.2" cy="1657.4" r="3.9" fill="#2a2a8c" />
<circle cx="405.9" cy="1657.4" r="3.9" fill="#2a2a8c" />
<circle cx="408.5" cy="1657.4" r="3.9" fill="#2a2a8c" />
<circle cx="398.8" cy="1668.4" r="3.9" fill="#2a2a8c" />
<circle cx="401.4" cy="1668.4" r="3.9" fill="#2a2a8c" />
<circle cx="404.1" cy="1668.4" r="3.9" fill="#2a2a8c" />
<circle cx="406.8" cy="1668.4" r="3.9" fill="#2a2a8c" />
<circle cx="409.4" cy="1668.4" r="3.9" fill="#2a2a8c" />
<circle cx="412.1" cy="1668.4" r="3.9" fill="#2a2a8c" />
<circle cx="414.7" cy="1668.4" r="3.9" fill="#2a2a8c" />
<circle cx="417.4" cy="1668.4" r="3.9" fill="#2a2a8c" />
<circle cx="420" cy="1668.4" r="3.9" fill="#2a2a8c" />
<circle cx="398.8" cy="1679.6" r="3.9" fill="#2a2a8c" />
<circle cx="401.4" cy="1679.6" r="3.9" fill="#2a2a8c" />
<circle cx="404.1" cy="1679.6" r="3.9" fill="#2a2a8c" />
<circle cx="406.8" cy="1679.6" r="3.9" fill="#2a2a8c" />
<circle cx="409.4" cy="1679.6" r="3.9" fill="#2a2a8c" />
<circle cx="412.1" cy="1679.6" r="3.9" fill="#2a2a8c" />
<circle cx="414.7" cy="1679.6" r="3.9" fill="#2a2a8c" />
<circle cx="417.4" cy="1679.6" r="3.9" fill="#2a2a8c" />
<circle cx="420" cy="1679.6" r="3.9" fill="#2a2a8c" />
<circle cx="422.7" cy="1679.6" r="3.9" fill="#2a2a8c" />
<circle cx="425.4" cy="1679.6" r="3.9" fill="#2a2a8c" />
<circle cx="428" cy="1679.6" r="3.9" fill="#2a2a8c" />
<circle cx="430.7" cy="1679.6" r="3.9" fill="#2a2a8c" />
<circle cx="433.3" cy="1679.6" r="3.9" fill="#2a2a8c" />
<circle cx="436" cy="1679.6" r="3.9" fill="#2a2a8c" />
<circle cx="438.6" cy="1679.6" r="3.9" fill="#2a2a8c" />
<circle cx="441.3" cy="1679.6" r="3.9" fill="#2a2a8c" />
<circle cx="443.9" cy="1679.6" r="3.9" fill="#2a2a8c" />
<circle cx="446.6" cy="1679.6" r="3.9" fill="#2a2a8c" />
<circle cx="449.3" cy="1679.6" r="3.9" fill="#2a2a8c" />
<circle cx="451.9" cy="1679.6" r="3.9" fill="#2a2a8c" />
<circle cx="454.6" cy="1679.6" r="3.9" fill="#2a2a8c" />
<circle cx="457.2" cy="1679.6" r="3.9" fill="#2a2a8c" />
<circle cx="459.9" cy="1679.6" r="3.9" fill="#2a2a8c" />
<circle cx="462.5" cy="1679.6" r="3.9" fill="#2a2a8c" />
<circle cx="465.2" cy="1679.6" r="3.9" fill="#2a2a8c" />
<circle cx="467.8" cy="1679.6" r="3.9" fill="#2a2a8c" />
<circle cx="470.5" cy="1679.6" r="3.9" fill="#2a2a8c" />
<circle cx="473.2" cy="1679.6" r="3.9" fill="#2a2a8c" />
<circle cx="475.8" cy="1679.6" r="3.9" fill="#2a2a8c" />
<circle cx="478.5" cy="1679.6" r="3.9" fill="#2a2a8c" />
<circle cx="481.1" cy="1679.6" r="3.9" fill="#2a2a8c" />
<circle cx="483.8" cy="1679.6" r="3.9" fill="#2a2a8c" />
<circle cx="486.4" cy="1679.6" r="3.9" fill="#2a2a8c" />
<circle cx="489.1" cy="1679.6" r="3.9" fill="#2a2a8c" />
<circle cx="491.7" cy="1679.6" r="3.9" fill="#2a2a8c" />
<circle cx="407.6" cy="1690.8" r="3.9" fill="#2a2a8c" />
<circle cx="410.3" cy="1690.8" r="3.9" fill="#2a2a8c" />
<circle cx="413" cy="1690.8" r="3.9" fill="#2a2a8c" />
<circle cx="415.6" cy="1690.8" r="3.9" fill="#2a2a8c" />
<circle cx="418.3" cy="1690.8" r="3.9" fill="#2a2a8c" />
<circle cx="420.9" cy="1690.8" r="3.9" fill="#2a2a8c" />
<circle cx="423.6" cy="1690.8" r="3.9" fill="#2a2a8c" />
<circle cx="426.2" cy="1690.8" r="3.9" fill="#2a2a8c" />
<circle cx="428.9" cy="1690.8" r="3.9" fill="#2a2a8c" />
<circle cx="431.5" cy="1690.8" r="3.9" fill="#2a2a8c" />
<circle cx="434.2" cy="1690.8" r="3.9" fill="#2a2a8c" />
<circle cx="436.9" cy="1690.8" r="3.9" fill="#2a2a8c" />
<circle cx="439.5" cy="1690.8" r="3.9" fill="#2a2a8c" />
<circle cx="442.2" cy="1690.8" r="3.9" fill="#2a2a8c" />
<circle cx="444.8" cy="1690.8" r="3.9" fill="#2a2a8c" />
<circle cx="447.5" cy="1690.8" r="3.9" fill="#2a2a8c" />
<circle cx="450.1" cy="1690.8" r="3.9" fill="#2a2a8c" />
<circle cx="452.8" cy="1690.8" r="3.9" fill="#2a2a8c" />
<circle cx="455.4" cy="1690.8" r="3.9" fill="#2a2a8c" />
<circle cx="458.1" cy="1690.8" r="3.9" fill="#2a2a8c" />
<circle cx="460.8" cy="1690.8" r="3.9" fill="#2a2a8c" />
<circle cx="463.4" cy="1690.8" r="3.9" fill="#2a2a8c" />
<circle cx="466.1" cy="1690.8" r="3.9" fill="#2a2a8c" />
<circle cx="468.7" cy="1690.8" r="3.9" fill="#2a2a8c" />
<circle cx="471.4" cy="1690.8" r="3.9" fill="#2a2a8c" />
<circle cx="474" cy="1690.8" r="3.9" fill="#2a2a8c" />
<circle cx="476.7" cy="1690.8" r="3.9" fill="#2a2a8c" />
<circle cx="479.3" cy="1690.8" r="3.9" fill="#2a2a8c" />
<circle cx="482" cy="1690.8" r="3.9" fill="#2a2a8c" />
<circle cx="484.7" cy="1690.8" r="3.9" fill="#2a2a8c" />
<circle cx="487.3" cy="1690.8" r="3.9" fill="#2a2a8c" />
<circle cx="490" cy="1690.8" r="3.9" fill="#2a2a8c" />
<circle cx="492.6" cy="1690.8" r="3.9" fill="#2a2a8c" />
<circle cx="495.3" cy="1690.8" r="3.9" fill="#2a2a8c" />
<circle cx="497.9" cy="1690.8" r="3.9" fill="#2a2a8c" />
<circle cx="500.6" cy="1690.8" r="3.9" fill="#2a2a8c" />
<circle cx="503.2" cy="1690.8" r="3.9" fill="#2a2a8c" />
<circle cx="505.9" cy="1690.8" r="3.9" fill="#2a2a8c" />
<circle cx="508.6" cy="1690.8" r="3.9" fill="#2a2a8c" />
<circle cx="511.2" cy="1690.8" r="3.9" fill="#2a2a8c" />
<circle cx="513.9" cy="1690.8" r="3.9" fill="#2a2a8c" />
<circle cx="516.5" cy="1690.8" r="3.9" fill="#2a2a8c" />
<circle cx="519.2" cy="1690.8" r="3.9" fill="#2a2a8c" />
<circle cx="521.8" cy="1690.8" r="3.9" fill="#2a2a8c" />
<circle cx="524.5" cy="1690.8" r="3.9" fill="#2a2a8c" />
<circle cx="527.1" cy="1690.8" r="3.9" fill="#2a2a8c" />
<circle cx="529.8" cy="1690.8" r="3.9" fill="#2a2a8c" />
<circle cx="532.5" cy="1690.8" r="3.9" fill="#2a2a8c" />
<circle cx="535.1" cy="1690.8" r="3.9" fill="#2a2a8c" />
<line x1="376.5" y1="1433.1" x2="454.5" y2="1433.1" stroke="#888" stroke-width="1.3" stroke-dasharray="3,4"/>
<line x1="373.7" y1="1657.4" x2="468.5" y2="1657.4" stroke="#888" stroke-width="1.3" stroke-dasharray="3,4"/>
<text x="436" y="1514.5" font-size="21" fill="#555">τ<tspan font-size="18" dy="6">decay</tspan></text>
<text x="436" y="1560.5" font-size="21" fill="#555" textLength="71" lengthAdjust="spacingAndGlyphs">≈ 92  µs</text>
<rect x="219.7" y="1463.8" width="171.3" height="148.3" fill="#ffffff" stroke="#8a8a8a" stroke-width="1.6" />
<line x1="219.7" y1="1493.6" x2="222.7" y2="1493.6" stroke="#888" stroke-width="1" />
<line x1="219.7" y1="1525.7" x2="222.7" y2="1525.7" stroke="#888" stroke-width="1" />
<line x1="219.7" y1="1557.8" x2="222.7" y2="1557.8" stroke="#888" stroke-width="1" />
<line x1="219.7" y1="1591.2" x2="222.7" y2="1591.2" stroke="#888" stroke-width="1" />
<line x1="256" y1="1612.1" x2="256" y2="1609.1" stroke="#888" stroke-width="1" />
<line x1="285" y1="1612.1" x2="285" y2="1609.1" stroke="#888" stroke-width="1" />
<line x1="314" y1="1612.1" x2="314" y2="1609.1" stroke="#888" stroke-width="1" />
<line x1="343" y1="1612.1" x2="343" y2="1609.1" stroke="#888" stroke-width="1" />
<line x1="372" y1="1612.1" x2="372" y2="1609.1" stroke="#888" stroke-width="1" />
<circle cx="220.5" cy="1608" r="1.9" fill="#e8302a" />
<circle cx="222.7" cy="1608" r="1.9" fill="#e8302a" />
<circle cx="224.9" cy="1608" r="1.9" fill="#e8302a" />
<circle cx="227.1" cy="1608" r="1.9" fill="#e8302a" />
<circle cx="229.3" cy="1608" r="1.9" fill="#e8302a" />
<circle cx="231.5" cy="1608" r="1.9" fill="#e8302a" />
<circle cx="233.7" cy="1608" r="1.9" fill="#e8302a" />
<circle cx="235.9" cy="1608" r="1.9" fill="#e8302a" />
<circle cx="238.1" cy="1608" r="1.9" fill="#e8302a" />
<circle cx="240.3" cy="1608" r="1.9" fill="#e8302a" />
<circle cx="242.5" cy="1608" r="1.9" fill="#e8302a" />
<circle cx="244.7" cy="1608" r="1.9" fill="#e8302a" />
<circle cx="246.9" cy="1608" r="1.9" fill="#e8302a" />
<circle cx="249.1" cy="1608" r="1.9" fill="#e8302a" />
<circle cx="251.3" cy="1608" r="1.9" fill="#e8302a" />
<circle cx="253.5" cy="1608" r="1.9" fill="#e8302a" />
<circle cx="255.7" cy="1608" r="1.9" fill="#e8302a" />
<circle cx="257.9" cy="1608" r="1.9" fill="#e8302a" />
<circle cx="260.1" cy="1608" r="1.9" fill="#e8302a" />
<circle cx="262.3" cy="1608" r="1.9" fill="#e8302a" />
<circle cx="264.5" cy="1608" r="1.9" fill="#e8302a" />
<circle cx="266.7" cy="1608" r="1.9" fill="#e8302a" />
<circle cx="268.9" cy="1608" r="1.9" fill="#e8302a" />
<circle cx="271.1" cy="1608" r="1.9" fill="#e8302a" />
<circle cx="273.3" cy="1608" r="1.9" fill="#e8302a" />
<circle cx="276.6" cy="1573.1" r="1.9" fill="#e8302a" />
<circle cx="279.7" cy="1549.4" r="1.9" fill="#e8302a" />
<circle cx="282.5" cy="1537.4" r="1.9" fill="#e8302a" />
<circle cx="285.8" cy="1525.7" r="1.9" fill="#e8302a" />
<circle cx="290" cy="1514.5" r="1.9" fill="#e8302a" />
<circle cx="295.6" cy="1503.4" r="1.9" fill="#e8302a" />
<circle cx="301.2" cy="1497.8" r="1.9" fill="#e8302a" />
<circle cx="306.7" cy="1492.2" r="1.9" fill="#e8302a" />
<circle cx="313.7" cy="1486.6" r="1.9" fill="#e8302a" />
<circle cx="319.3" cy="1481.1" r="1.9" fill="#e8302a" />
<circle cx="324.9" cy="1477.7" r="1.9" fill="#e8302a" />
<circle cx="331.8" cy="1482.7" r="1.9" fill="#e8302a" />
<circle cx="337.4" cy="1478.3" r="1.9" fill="#e8302a" />
<circle cx="340.2" cy="1481.6" r="1.9" fill="#e8302a" />
<circle cx="345.8" cy="1478.3" r="1.9" fill="#e8302a" />
<circle cx="352.8" cy="1482.7" r="1.9" fill="#e8302a" />
<circle cx="354" cy="1477.7" r="1.9" fill="#e8302a" />
<circle cx="356.2" cy="1477.7" r="1.9" fill="#e8302a" />
<circle cx="358.4" cy="1477.7" r="1.9" fill="#e8302a" />
<circle cx="360.6" cy="1477.7" r="1.9" fill="#e8302a" />
<circle cx="362.8" cy="1477.7" r="1.9" fill="#e8302a" />
<circle cx="365" cy="1477.7" r="1.9" fill="#e8302a" />
<circle cx="367.2" cy="1477.7" r="1.9" fill="#e8302a" />
<circle cx="369.4" cy="1477.7" r="1.9" fill="#e8302a" />
<circle cx="371.6" cy="1477.7" r="1.9" fill="#e8302a" />
<circle cx="373.8" cy="1477.7" r="1.9" fill="#e8302a" />
<circle cx="376" cy="1477.7" r="1.9" fill="#e8302a" />
<circle cx="378.2" cy="1477.7" r="1.9" fill="#e8302a" />
<circle cx="380.4" cy="1477.7" r="1.9" fill="#e8302a" />
<circle cx="382.6" cy="1477.7" r="1.9" fill="#e8302a" />
<circle cx="384.8" cy="1477.7" r="1.9" fill="#e8302a" />
<circle cx="387" cy="1477.7" r="1.9" fill="#e8302a" />
<circle cx="389.2" cy="1477.7" r="1.9" fill="#e8302a" />
<line x1="295.6" y1="1482.5" x2="329" y2="1482.5" stroke="#999" stroke-width="1" stroke-dasharray="2,2"/>
<line x1="253.8" y1="1598.2" x2="298.4" y2="1598.2" stroke="#999" stroke-width="1" stroke-dasharray="2,2"/>
<text x="214.5" y="1497" font-size="10.5" fill="#888" text-anchor="end">0.8</text>
<text x="214.5" y="1529" font-size="10.5" fill="#888" text-anchor="end">0.6</text>
<text x="214.5" y="1561" font-size="10.5" fill="#888" text-anchor="end">0.4</text>
<text x="214.5" y="1594.5" font-size="10.5" fill="#888" text-anchor="end">0.2</text>
<g transform="translate(191.5 1537) rotate(-90)"><text x="0" y="0" font-size="12.5" fill="#888" text-anchor="middle">Normalized I<tspan font-size="9" dy="3">ph</tspan></text></g>
<text x="260.7" y="1624.7" font-size="11" fill="#888" text-anchor="middle">0.3879</text>
<text x="364.5" y="1624.7" font-size="11" fill="#888" text-anchor="middle">0.3880</text>
<text x="274.7" y="1642.8" font-size="14" fill="#777" textLength="57" lengthAdjust="spacingAndGlyphs">Time (s)</text>
<text x="295.6" y="1539.6" font-size="15" fill="#111">τ<tspan font-size="9" dy="3">rise</tspan><tspan dy="-3"> = 32 µs</tspan></text>
<text x="547.8" y="1412.8" font-size="43" fill="#111" font-family="'Liberation Serif', 'Times New Roman', serif" font-weight="bold">L</text>
<rect x="589" y="1377.6" width="426.7" height="392.8" fill="#7c552b" />
<rect x="630.4" y="1377.6" width="42.6" height="14.4" fill="#f8dc78" />
<rect x="630.4" y="1387.7" width="74" height="46.4" fill="#f8dc78" rx="3"/>
<rect x="781" y="1377.6" width="44" height="14.4" fill="#f8dc78" />
<rect x="766" y="1387.7" width="75.2" height="46.4" fill="#f8dc78" rx="3"/>
<rect x="932.9" y="1377.6" width="42.6" height="14.4" fill="#f8dc78" />
<rect x="897.7" y="1387.7" width="77.8" height="46.4" fill="#f8dc78" rx="3"/>
<rect x="650" y="1437.5" width="39" height="34.5" fill="#b89448" />
<rect x="646" y="1437.9" width="45" height="33.8" fill="none" stroke="#ffffff" stroke-width="1.1" stroke-dasharray="2.5,2"/>
<rect x="788.8" y="1437.5" width="39.2" height="34.5" fill="#b89448" />
<rect x="784.8" y="1437.9" width="45.2" height="33.8" fill="none" stroke="#ffffff" stroke-width="1.1" stroke-dasharray="2.5,2"/>
<rect x="919.3" y="1437.5" width="39.9" height="34.5" fill="#b89448" />
<rect x="915.3" y="1437.9" width="45.9" height="33.8" fill="none" stroke="#ffffff" stroke-width="1.1" stroke-dasharray="2.5,2"/>
<rect x="589" y="1473" width="426.7" height="50.2" fill="#f8dc78" />
<rect x="589" y="1468" width="28" height="66" fill="#f8dc78" rx="3"/>
<rect x="589" y="1623.6" width="426.7" height="52.7" fill="#f8dc78" />
<rect x="589" y="1620" width="28" height="65" fill="#f8dc78" rx="3"/>
<rect x="650" y="1677.6" width="39" height="33.8" fill="#b89448" />
<rect x="646" y="1677.6" width="45" height="33.8" fill="none" stroke="#ffffff" stroke-width="1.1" stroke-dasharray="2.5,2"/>
<rect x="782.5" y="1677.6" width="40.4" height="33.8" fill="#b89448" />
<rect x="778.5" y="1677.6" width="46.4" height="33.8" fill="none" stroke="#ffffff" stroke-width="1.1" stroke-dasharray="2.5,2"/>
<rect x="918" y="1677.6" width="39.2" height="33.8" fill="#b89448" />
<rect x="914" y="1677.6" width="45.2" height="33.8" fill="none" stroke="#ffffff" stroke-width="1.1" stroke-dasharray="2.5,2"/>
<rect x="635.4" y="1711.4" width="76.6" height="41.5" fill="#f8dc78" rx="3"/>
<rect x="635.4" y="1750" width="42.6" height="20.4" fill="#f8dc78" />
<rect x="767.2" y="1711.4" width="77.8" height="41.5" fill="#f8dc78" rx="3"/>
<rect x="787.3" y="1750" width="42.7" height="20.4" fill="#f8dc78" />
<rect x="901" y="1711.4" width="77" height="41.5" fill="#f8dc78" rx="3"/>
<rect x="939" y="1750" width="39" height="20.4" fill="#f8dc78" />
<text x="668" y="1501.9" font-size="24.5" fill="#222" text-anchor="middle">1</text>
<text x="802.3" y="1501.9" font-size="24.5" fill="#222" text-anchor="middle">2</text>
<text x="939.1" y="1501.9" font-size="24.5" fill="#222" text-anchor="middle">3</text>
<text x="667.5" y="1665" font-size="24.5" fill="#222" text-anchor="middle">4</text>
<text x="802.3" y="1665" font-size="24.5" fill="#222" text-anchor="middle">5</text>
<text x="939.1" y="1665" font-size="24.5" fill="#222" text-anchor="middle">6</text>
<text x="589.5" y="1515.7" font-size="24.5" fill="#222" textLength="66" lengthAdjust="spacingAndGlyphs">Cr/Au</text>
<text x="635.4" y="1746.6" font-size="24.5" fill="#222" textLength="66.5" lengthAdjust="spacingAndGlyphs">Cr/Au</text>
<text x="878.5" y="1564.6" font-size="24" fill="#f4f0e8" textLength="93" lengthAdjust="spacingAndGlyphs">Bi<tspan font-size="15" dy="6">2</tspan><tspan dy="-6">O</tspan><tspan font-size="15" dy="6">2</tspan><tspan dy="-6">Se</tspan></text>
<line x1="872.6" y1="1544.5" x2="822" y2="1471" stroke="#ffffff" stroke-width="3" />
<polygon points="817.4,1464.2 828.7,1471 819.7,1477.2" fill="#ffffff" />
<text x="924" y="1746.6" font-size="23" fill="#ffffff" textLength="73" lengthAdjust="spacingAndGlyphs">20 µm</text>
<rect x="914" y="1757.9" width="91.6" height="7.5" fill="#ffffff" />
<text x="1032.8" y="1410.2" font-size="43" fill="#111" font-family="'Liberation Serif', 'Times New Roman', serif" font-weight="bold">M</text>
<line x1="1133.5" y1="1672.4" x2="1139.5" y2="1672.4" stroke="#444" stroke-width="1.6" />
<line x1="1133.5" y1="1613.7" x2="1142.5" y2="1613.7" stroke="#444" stroke-width="1.6" />
<line x1="1133.5" y1="1555.1" x2="1139.5" y2="1555.1" stroke="#444" stroke-width="1.6" />
<line x1="1133.5" y1="1496.5" x2="1142.5" y2="1496.5" stroke="#444" stroke-width="1.6" />
<line x1="1133.5" y1="1437.8" x2="1139.5" y2="1437.8" stroke="#444" stroke-width="1.6" />
<line x1="1224.9" y1="1731" x2="1224.9" y2="1725" stroke="#444" stroke-width="1.6" />
<line x1="1290.4" y1="1731" x2="1290.4" y2="1722" stroke="#444" stroke-width="1.6" />
<line x1="1356" y1="1731" x2="1356" y2="1725" stroke="#444" stroke-width="1.6" />
<line x1="1421.6" y1="1731" x2="1421.6" y2="1722" stroke="#444" stroke-width="1.6" />
<rect x="1133.5" y="1378.4" width="353.9" height="352.6" fill="none" stroke="#3a3a3a" stroke-width="2.2" />
<text x="1123" y="1386.7" font-size="21" fill="#333" text-anchor="end">50</text>
<text x="1123" y="1504" font-size="21" fill="#333" text-anchor="end">40</text>
<text x="1123" y="1621.2" font-size="21" fill="#333" text-anchor="end">30</text>
<text x="1123" y="1738.5" font-size="21" fill="#333" text-anchor="end">20</text>
<text x="1159.3" y="1756.6" font-size="21" fill="#333" text-anchor="middle">0</text>
<text x="1290.4" y="1756.6" font-size="21" fill="#333" text-anchor="middle">500</text>
<text x="1421.6" y="1756.6" font-size="21" fill="#333" text-anchor="middle">1000</text>
<text x="1256" y="1791.8" font-size="25" fill="#333" textLength="108" lengthAdjust="spacingAndGlyphs">Time (s)</text>
<g transform="translate(1072.8 1554) rotate(-90)"><text x="0" y="0" font-size="25" fill="#333" text-anchor="middle" textLength="157" lengthAdjust="spacingAndGlyphs">Current (µA)</text></g>
<text x="1150.5" y="1410.2" font-size="21" fill="#333" textLength="129" lengthAdjust="spacingAndGlyphs">λ = 550 nm</text>
<text x="1156.5" y="1439" font-size="21" fill="#333">28.6 W/m<tspan font-size="13" dy="-9">2</tspan></text>
<text x="1346" y="1409" font-size="21" fill="#e03030" textLength="92" lengthAdjust="spacingAndGlyphs">7.8 nA/s</text>
<text x="1151.5" y="1525.7" font-size="21" fill="#4050b0" textLength="112" lengthAdjust="spacingAndGlyphs">29.2 nA/s</text>
<line x1="1341" y1="1458" x2="1471" y2="1398" stroke="#e03030" stroke-width="2.2" stroke-dasharray="9,6"/>
<line x1="1178" y1="1626" x2="1276" y2="1505" stroke="#4050b0" stroke-width="2.2" stroke-dasharray="9,6"/>
<polyline points="1159.3,1701.7 1174.3,1719.3 1175,1684.1 1175.6,1653.6 1176.6,1644.2 1178.2,1637.8 1180.3,1633.1 1182.9,1629.3 1185.5,1625.9 1188.2,1622.5 1190.8,1619.1 1193.4,1615.7 1196,1612.4 1198.6,1609.1 1201.3,1605.8 1203.9,1602.5 1206.5,1599.3 1209.1,1596.1 1211.8,1592.9 1214.4,1589.7 1217,1586.6 1219.6,1583.5 1222.3,1580.4 1224.9,1577.4 1227.5,1574.3 1230.1,1571.3 1232.7,1568.3 1235.4,1565.4 1238,1562.5 1240.6,1559.6 1243.2,1556.7 1245.9,1553.8 1248.5,1551 1251.1,1548.2 1253.7,1545.4 1256.4,1542.7 1259,1540 1261.6,1537.3 1264.2,1534.6 1266.8,1532 1269.5,1529.4 1272.1,1526.8 1274.7,1524.2 1277.3,1521.7 1280,1519.1 1282.6,1516.7 1285.2,1514.2 1287.8,1511.8 1290.4,1509.3 1293.1,1507 1295.7,1504.6 1298.3,1502.3 1300.9,1500 1303.6,1497.7 1306.2,1495.4 1308.8,1493.2 1311.4,1491 1314.1,1488.8 1316.7,1486.7 1319.3,1484.5 1321.9,1482.4 1324.5,1480.4 1327.2,1478.3 1329.8,1476.3 1332.4,1474.3 1335,1472.3 1337.7,1470.4 1340.3,1468.4 1342.9,1466.5 1345.5,1464.7 1348.2,1462.8 1350.8,1461 1353.4,1459.2 1356,1457.5 1358.6,1455.7 1361.3,1454 1363.9,1452.3 1366.5,1450.6 1369.1,1449 1371.8,1447.4 1374.4,1445.8 1377,1444.3 1379.6,1442.7 1382.3,1441.2 1384.9,1439.7 1387.5,1438.3 1390.1,1436.8 1392.7,1435.4 1395.4,1434 1398,1432.7 1400.6,1431.4 1403.2,1430.1 1405.9,1428.8 1408.5,1427.5 1411.1,1426.3 1413.7,1425.1 1416.4,1423.9 1419,1422.8 1421.6,1421.7 1424.2,1420.6 1426.8,1419.5 1429.5,1418.5 1432.1,1417.4 1434.7,1416.4 1437.3,1415.5 1440,1414.5 1442.6,1413.6 1445.2,1412.7 1447.8,1411.9 1450.5,1411 1453.1,1410.2 1455.7,1409.4 1458.3,1408.7 1460.9,1407.9 1463.6,1407.2 1466.2,1406.5 1468.8,1405.9 1471.4,1405.2 1474.1,1404.6 1474.3,1404.6" fill="none" stroke="#111" stroke-width="2.6"  stroke-linejoin="round"/>
<rect x="1157.5" y="1636.1" width="33.7" height="82.8" fill="none" stroke="#4a5ac0" stroke-width="1.6" stroke-dasharray="6,4"/>
<line x1="1202" y1="1643.7" x2="1243" y2="1643.7" stroke="#4a5ac0" stroke-width="1.5" />
<polygon points="1249.7,1643.7 1241.7,1646.7 1241.7,1640.7" fill="#4a5ac0" />
<rect x="1315.7" y="1528.2" width="159.9" height="139.3" fill="#ffffff" stroke="#333" stroke-width="1.8" />
<line x1="1315.7" y1="1625.2" x2="1318.7" y2="1625.2" stroke="#333" stroke-width="1.2" />
<line x1="1315.7" y1="1592.8" x2="1320.7" y2="1592.8" stroke="#333" stroke-width="1.2" />
<line x1="1315.7" y1="1560.5" x2="1318.7" y2="1560.5" stroke="#333" stroke-width="1.2" />
<line x1="1356.7" y1="1667.5" x2="1356.7" y2="1664.5" stroke="#333" stroke-width="1.2" />
<line x1="1388.3" y1="1667.5" x2="1388.3" y2="1662.5" stroke="#333" stroke-width="1.2" />
<line x1="1420" y1="1667.5" x2="1420" y2="1664.5" stroke="#333" stroke-width="1.2" />
<line x1="1451.6" y1="1667.5" x2="1451.6" y2="1662.5" stroke="#333" stroke-width="1.2" />
<line x1="1372.7" y1="1530" x2="1372.7" y2="1666" stroke="#444" stroke-width="1.6" stroke-dasharray="7,5"/>
<line x1="1401.5" y1="1530" x2="1401.5" y2="1666" stroke="#444" stroke-width="1.6" stroke-dasharray="7,5"/>
<polyline points="1325,1657.5 1340,1657.5 1355.1,1657.5 1371.4,1657.5 1386.5,1624.8 1401.5,1560.8 1416.6,1552.1 1431.6,1548.3 1446.7,1545.3 1461.8,1543.8" fill="none" stroke="#4050c0" stroke-width="1.6"  stroke-linejoin="round"/>
<circle cx="1325" cy="1657.5" r="2.6" fill="#4050c0" />
<circle cx="1340" cy="1657.5" r="2.6" fill="#4050c0" />
<circle cx="1355.1" cy="1657.5" r="2.6" fill="#4050c0" />
<circle cx="1371.4" cy="1657.5" r="2.6" fill="#4050c0" />
<circle cx="1386.5" cy="1624.8" r="2.6" fill="#4050c0" />
<circle cx="1401.5" cy="1560.8" r="2.6" fill="#4050c0" />
<circle cx="1416.6" cy="1552.1" r="2.6" fill="#4050c0" />
<circle cx="1431.6" cy="1548.3" r="2.6" fill="#4050c0" />
<circle cx="1446.7" cy="1545.3" r="2.6" fill="#4050c0" />
<circle cx="1461.8" cy="1543.8" r="2.6" fill="#4050c0" />
<text x="1311.5" y="1535.2" font-size="19" fill="#333" text-anchor="end">27</text>
<text x="1311.5" y="1599.8" font-size="19" fill="#333" text-anchor="end">24</text>
<text x="1311.5" y="1664.5" font-size="19" fill="#333" text-anchor="end">21</text>
<text x="1325" y="1687.6" font-size="19" fill="#333" text-anchor="middle">60.0</text>
<text x="1388.3" y="1687.6" font-size="19" fill="#333" text-anchor="middle">60.5</text>
<text x="1451.6" y="1687.6" font-size="19" fill="#333" text-anchor="middle">61.0</text>
<text x="1358.8" y="1709" font-size="21" fill="#333" textLength="74" lengthAdjust="spacingAndGlyphs">Time (s)</text>
<g transform="translate(1280.2 1599.5) rotate(-90)"><text x="0" y="0" font-size="19" fill="#333" text-anchor="middle" textLength="113" lengthAdjust="spacingAndGlyphs">Current (µA)</text></g>
<text x="1389" y="1646.2" font-size="21" fill="#333" textLength="83" lengthAdjust="spacingAndGlyphs">&lt;100 ms</text>
<rect x="1523.6" y="1376.4" width="481.1" height="416.6" fill="url(#nBg)" />
<g clip-path="url(#clipN)">
<polygon points="1705.7,1376.4 1724.9,1378.4 1721.5,1431.6 1702.3,1429.5" fill="#7c7878" />
<polygon points="1705.7,1376.4 1724.9,1378.4 1723.9,1384.4 1704.7,1382.4" fill="#a8a4a4" />
<polygon points="1774.4,1376.4 1798.9,1379 1794.6,1441.6 1770.1,1439" fill="#777272" />
<polygon points="1774.4,1376.4 1798.9,1379 1797.9,1385 1773.4,1382.4" fill="#a8a4a4" />
<polygon points="1839,1393.9 1866.7,1396.9 1861.8,1470.5 1834.1,1467.5" fill="#858080" />
<polygon points="1839,1393.9 1866.7,1396.9 1865.7,1402.9 1838,1399.9" fill="#a8a4a4" />
<polygon points="1896.7,1417.8 1924.4,1420.7 1919.5,1491.8 1891.8,1488.9" fill="#7e7979" />
<polygon points="1896.7,1417.8 1924.4,1420.7 1923.4,1426.7 1895.7,1423.8" fill="#a8a4a4" />
<polygon points="1962.4,1376.4 1978.4,1378 1975.6,1435.3 1959.6,1433.6" fill="#7a7575" />
<polygon points="1962.4,1376.4 1978.4,1378 1977.4,1384 1961.4,1382.4" fill="#a8a4a4" />
<polygon points="1967.8,1603.5 1985.9,1605.4 1982.7,1676.3 1964.6,1674.4" fill="#6e6868" />
<polygon points="1967.8,1603.5 1985.9,1605.4 1984.9,1611.4 1966.8,1609.5" fill="#a8a4a4" />
<polygon points="1739.2,1706.4 1756.3,1708.2 1753.2,1766.7 1736.2,1764.9" fill="#6c6767" />
<polygon points="1739.2,1706.4 1756.3,1708.2 1755.3,1714.2 1738.2,1712.4" fill="#a8a4a4" />
<polygon points="1675.7,1637.4 1696,1639.5 1692.4,1681.3 1672.2,1679.2" fill="#bdbbba" opacity="0.85"/>
<line x1="1672.2" y1="1679.2" x2="1692.4" y2="1681.3" stroke="#858181" stroke-width="1.6" />
<polygon points="1543.8,1648.7 1563,1650.7 1559.6,1696.4 1540.4,1694.4" fill="#bdbbba" opacity="0.85"/>
<line x1="1540.4" y1="1694.4" x2="1559.6" y2="1696.4" stroke="#858181" stroke-width="1.6" />
<polygon points="1646.1,1688.9 1662.1,1690.5 1659.3,1726.5 1643.3,1724.8" fill="#bdbbba" opacity="0.85"/>
<line x1="1643.3" y1="1724.8" x2="1659.3" y2="1726.5" stroke="#858181" stroke-width="1.6" />
<polygon points="1740.9,1608.5 1753.7,1609.9 1751.5,1646.2 1738.7,1644.8" fill="#bdbbba" opacity="0.85"/>
<line x1="1738.7" y1="1644.8" x2="1751.5" y2="1646.2" stroke="#858181" stroke-width="1.6" />
<polygon points="1729.8,1560.8 1743.7,1562.3 1741.3,1593.5 1727.4,1592" fill="#bdbbba" opacity="0.85"/>
<line x1="1727.4" y1="1592" x2="1741.3" y2="1593.5" stroke="#858181" stroke-width="1.6" />
<polygon points="1820.4,1539.5 1835.3,1541.1 1832.7,1575.9 1817.8,1574.3" fill="#8e8a8a" />
<polygon points="1816.5,1575.9 1837.8,1578.2 1834.1,1627.4 1812.7,1625.1" fill="#bdbbba" opacity="0.85"/>
<line x1="1812.7" y1="1625.1" x2="1834.1" y2="1627.4" stroke="#858181" stroke-width="1.6" />
<polygon points="1930.3,1505.6 1949.5,1507.7 1946.1,1555.8 1926.9,1553.8" fill="#bdbbba" opacity="0.85"/>
<line x1="1926.9" y1="1553.8" x2="1946.1" y2="1555.8" stroke="#858181" stroke-width="1.6" />
<polygon points="1708.3,1486.8 1721.1,1488.2 1718.9,1525.7 1706.1,1524.3" fill="#bdbbba" opacity="0.85"/>
<line x1="1706.1" y1="1524.3" x2="1718.9" y2="1525.7" stroke="#858181" stroke-width="1.6" />
<polygon points="1681.2,1469.2 1689.7,1470.1 1688.2,1491.8 1679.7,1490.9" fill="#858181" />
<polygon points="1678.3,1552.1 1684.7,1552.7 1683.6,1579.7 1677.2,1579" fill="#8a8686" />
<polygon points="1796.5,1513.2 1803.9,1513.9 1802.6,1533.2 1795.2,1532.4" fill="#7e7a7a" />
<polygon points="1936.2,1676.3 1945.8,1677.3 1944.1,1696.4 1934.5,1695.4" fill="#858181" />
<polygon points="1622.2,1731.5 1630.8,1732.4 1629.3,1754.1 1620.7,1753.2" fill="#8a8686" />
<polygon points="1806.2,1756.6 1819,1758 1816.8,1791.8 1803.9,1790.4" fill="#bdbbba" opacity="0.85"/>
<line x1="1803.9" y1="1790.4" x2="1816.8" y2="1791.8" stroke="#858181" stroke-width="1.6" />
<polygon points="1675.4,1741.6 1693.5,1743.5 1690.3,1791.8 1672.2,1789.8" fill="#bdbbba" opacity="0.85"/>
<line x1="1672.2" y1="1789.8" x2="1690.3" y2="1791.8" stroke="#858181" stroke-width="1.6" />
<polygon points="1577.9,1656.2 1598.1,1658.4 1594.5,1714 1574.3,1711.8" fill="#bdbbba" opacity="0.85"/>
<line x1="1574.3" y1="1711.8" x2="1594.5" y2="1714" stroke="#858181" stroke-width="1.6" />
<polygon points="1732.7,1515.7 1741.2,1516.6 1739.7,1538.3 1731.2,1537.3" fill="#858181" />
<polygon points="1716,1468 1722.4,1468.6 1721.2,1490.6 1714.8,1489.9" fill="#8e8a8a" />
<polygon points="1842.6,1478 1855.4,1479.4 1853.1,1513.2 1840.3,1511.8" fill="#bdbbba" opacity="0.85"/>
<line x1="1840.3" y1="1511.8" x2="1853.1" y2="1513.2" stroke="#858181" stroke-width="1.6" />
<polygon points="1966.1,1543.3 1974.6,1544.2 1973.1,1570.9 1964.6,1570" fill="#bdbbba" opacity="0.85"/>
<line x1="1964.6" y1="1570" x2="1973.1" y2="1570.9" stroke="#858181" stroke-width="1.6" />
<polygon points="1909.6,1575.9 1918.2,1576.8 1916.7,1606 1908.1,1605.1" fill="#bdbbba" opacity="0.85"/>
<line x1="1908.1" y1="1605.1" x2="1916.7" y2="1606" stroke="#858181" stroke-width="1.6" />
<polygon points="1658.4,1425.3 1679.7,1427.6 1675.9,1450.4 1654.6,1448.1" fill="#bdbbba" opacity="0.85"/>
<line x1="1654.6" y1="1448.1" x2="1675.9" y2="1450.4" stroke="#858181" stroke-width="1.6" />
<polygon points="1987.6,1585.9 2004,1587.7 2001.1,1636.1 1984.7,1634.4" fill="#bdbbba" opacity="0.85"/>
<line x1="1984.7" y1="1634.4" x2="2001.1" y2="1636.1" stroke="#858181" stroke-width="1.6" />
<polygon points="1629.6,1427.8 1637,1428.6 1635.7,1440.4 1628.2,1439.6" fill="#8e8a8a" />
<polygon points="1672.3,1376.4 1687.2,1377.9 1684.6,1390.2 1669.7,1388.6" fill="#bdbbba" opacity="0.85"/>
<line x1="1669.7" y1="1388.6" x2="1684.6" y2="1390.2" stroke="#858181" stroke-width="1.6" />
<ellipse cx="1664.6" cy="1523.2" rx="1.8" ry="3.5" fill="#6a6666"/>
<ellipse cx="1787.6" cy="1523.2" rx="1.8" ry="3.5" fill="#6a6666"/>
<ellipse cx="1763.8" cy="1469.2" rx="1.8" ry="3.5" fill="#6a6666"/>
<ellipse cx="1891.8" cy="1636.1" rx="1.8" ry="3.5" fill="#6a6666"/>
<ellipse cx="1805.2" cy="1688.9" rx="1.8" ry="3.5" fill="#6a6666"/>
<ellipse cx="1717.4" cy="1698.9" rx="1.8" ry="3.5" fill="#6a6666"/>
<ellipse cx="1633.3" cy="1648.7" rx="1.8" ry="3.5" fill="#6a6666"/>
<ellipse cx="1604.4" cy="1597.2" rx="1.8" ry="3.5" fill="#6a6666"/>
<ellipse cx="1775.1" cy="1751.6" rx="1.8" ry="3.5" fill="#6a6666"/>
<ellipse cx="1898.1" cy="1756.6" rx="1.8" ry="3.5" fill="#6a6666"/>
<ellipse cx="1855.4" cy="1774.2" rx="1.8" ry="3.5" fill="#6a6666"/>
<ellipse cx="1868" cy="1774.2" rx="1.8" ry="3.5" fill="#6a6666"/>
<ellipse cx="1915.6" cy="1555.8" rx="1.8" ry="3.5" fill="#6a6666"/>
<ellipse cx="1948.3" cy="1577.2" rx="1.8" ry="3.5" fill="#6a6666"/>
<ellipse cx="1955.8" cy="1565.9" rx="1.8" ry="3.5" fill="#6a6666"/>
<ellipse cx="1965.8" cy="1500.6" rx="1.8" ry="3.5" fill="#6a6666"/>
<ellipse cx="1590.6" cy="1495.6" rx="1.8" ry="3.5" fill="#6a6666"/>
<ellipse cx="1529.1" cy="1725.3" rx="1.8" ry="3.5" fill="#6a6666"/>
<ellipse cx="1746.2" cy="1382.6" rx="1.8" ry="3.5" fill="#6a6666"/>
<ellipse cx="1733.7" cy="1395.2" rx="1.8" ry="3.5" fill="#6a6666"/>
<ellipse cx="1873" cy="1457.9" rx="1.8" ry="3.5" fill="#6a6666"/>
<ellipse cx="1894.3" cy="1498.1" rx="1.8" ry="3.5" fill="#6a6666"/>
<line x1="1580.6" y1="1463" x2="1594.4" y2="1793" stroke="#7e7a7a" stroke-width="7" />
<line x1="1582.5" y1="1463" x2="1596.4" y2="1793" stroke="#8e8a8a" stroke-width="2" />
</g>
<rect x="1523.6" y="1376.4" width="105.4" height="85.8" fill="#ffffff" />
<text x="1552" y="1435.3" font-size="43" fill="#111" font-family="'Liberation Serif', 'Times New Roman', serif" font-weight="bold">N</text>
<rect x="1548" y="1752.9" width="72" height="5" fill="#ffffff" />
<text x="1565.5" y="1747.8" font-size="14" fill="#ffffff" font-family="'Liberation Serif', 'Times New Roman', serif" textLength="35" lengthAdjust="spacingAndGlyphs">5 µm</text>
</svg>
</body></html>
